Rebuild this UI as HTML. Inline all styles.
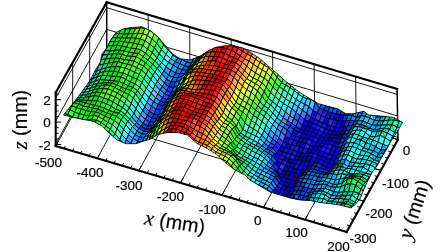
<!DOCTYPE html>
<html><head><meta charset="utf-8"><title>surface</title>
<style>html,body{margin:0;padding:0;background:#fff;overflow:hidden}svg{display:block}</style>
</head><body>
<svg width="448" height="252" viewBox="0 0 448 252">
<rect width="448" height="252" fill="#fff"/>
<g stroke="#000" stroke-linecap="square"><line x1="97.3" y1="158.4" x2="148.3" y2="65.5" stroke-width="0.90" /><line x1="138.8" y1="170.6" x2="189.9" y2="77.9" stroke-width="0.90" /><line x1="180.4" y1="182.9" x2="231.5" y2="90.2" stroke-width="0.90" /><line x1="221.9" y1="195.2" x2="273.1" y2="102.6" stroke-width="0.90" /><line x1="263.5" y1="207.5" x2="314.7" y2="114.9" stroke-width="0.90" /><line x1="305.0" y1="219.7" x2="356.3" y2="127.3" stroke-width="0.90" /><line x1="72.7" y1="115.1" x2="363.7" y2="201.2" stroke-width="0.90" /><line x1="89.7" y1="84.2" x2="380.8" y2="170.4" stroke-width="0.90" /><line x1="148.3" y1="65.5" x2="148.2" y2="14.7" stroke-width="0.90" /><line x1="189.9" y1="77.9" x2="189.7" y2="27.1" stroke-width="0.90" /><line x1="231.5" y1="90.2" x2="231.2" y2="39.5" stroke-width="0.90" /><line x1="273.1" y1="102.6" x2="272.6" y2="51.8" stroke-width="0.90" /><line x1="314.7" y1="114.9" x2="314.1" y2="64.2" stroke-width="0.90" /><line x1="356.3" y1="127.3" x2="355.6" y2="76.6" stroke-width="0.90" /><line x1="106.7" y1="51.0" x2="397.9" y2="137.4" stroke-width="0.90" /><line x1="106.7" y1="29.4" x2="397.5" y2="115.9" stroke-width="0.90" /><line x1="106.7" y1="7.7" x2="397.2" y2="94.4" stroke-width="0.90" /><line x1="72.7" y1="115.1" x2="72.7" y2="62.4" stroke-width="0.90" /><line x1="89.7" y1="84.2" x2="89.7" y2="32.4" stroke-width="0.90" /><line x1="55.7" y1="143.8" x2="106.7" y2="51.0" stroke-width="0.90" /><line x1="55.7" y1="121.0" x2="106.7" y2="29.4" stroke-width="0.90" /><line x1="55.7" y1="98.2" x2="106.7" y2="7.7" stroke-width="0.90" /><line x1="106.7" y1="53.2" x2="106.7" y2="2.3" stroke-width="1.50" /><line x1="397.9" y1="139.6" x2="397.1" y2="89.0" stroke-width="1.50" /><line x1="55.7" y1="92.5" x2="106.7" y2="2.3" stroke-width="2.10" /><line x1="106.7" y1="2.3" x2="397.1" y2="89.0" stroke-width="2.10" /><line x1="55.7" y1="146.1" x2="106.7" y2="53.2" stroke-width="0.90" /><line x1="106.7" y1="53.2" x2="397.9" y2="139.6" stroke-width="0.90" /></g>
<clipPath id="c"><polygon points="63.5,115.0 72.5,104.0 81.0,93.0 90.0,80.5 96.0,69.0 100.0,63.0 102.0,54.0 107.0,47.5 110.0,41.0 116.0,32.5 123.5,28.7 131.0,27.5 142.0,26.7 151.0,31.0 158.5,37.5 165.0,45.0 172.5,53.7 180.0,58.7 190.0,60.0 200.0,56.2 207.5,51.2 215.0,47.5 225.0,45.7 232.5,45.7 242.5,48.0 250.0,52.0 260.0,58.7 270.0,67.5 280.0,76.2 290.0,85.0 300.0,92.5 310.0,98.7 318.7,103.7 327.5,106.2 337.5,108.7 346.0,113.7 353.7,113.7 363.7,111.2 368.7,115.0 382.5,116.2 393.7,117.5 402.5,122.5 396.0,133.7 391.0,141.0 387.0,148.7 381.5,157.5 377.0,166.0 372.0,172.5 367.0,182.5 363.7,190.0 360.0,198.7 356.0,203.7 351.0,208.0 340.0,205.0 330.0,203.7 320.0,202.5 310.0,200.5 300.0,200.0 290.0,198.0 280.0,195.0 270.0,192.0 260.0,186.0 250.0,180.0 245.0,175.0 235.0,170.0 225.0,162.5 217.5,155.0 207.5,148.7 197.5,143.7 187.5,135.0 177.5,132.5 167.5,132.5 158.0,134.5 150.5,139.0 143.5,141.2 136.0,143.7 126.0,143.7 117.0,140.0 110.0,133.7 102.0,126.2 93.5,121.2 83.5,119.5 73.5,117.5"/></clipPath>
<g clip-path="url(#c)" stroke="#000" stroke-width="0.9" stroke-linejoin="round"><polygon points="96.8,13.9 101.6,15.8 103.9,9.9 99.1,8.4" fill="#21ff59"/><polygon points="101.6,15.8 106.5,17.3 108.7,12.4 103.9,9.9" fill="#13ff4e"/><polygon points="106.5,17.3 111.3,19.1 113.5,14.6 108.7,12.4" fill="#15ff4f"/><polygon points="111.3,19.1 116.1,19.4 118.3,14.7 113.5,14.6" fill="#00ea3a"/><polygon points="116.1,19.4 120.9,19.3 123.1,15.0 118.3,14.7" fill="#00ea3a"/><polygon points="120.9,19.3 125.7,18.9 127.9,15.0 123.1,15.0" fill="#00ea00"/><polygon points="125.7,18.9 130.5,18.8 132.7,14.4 127.9,15.0" fill="#3aea00"/><polygon points="130.5,18.8 135.2,19.4 137.5,14.3 132.7,14.4" fill="#3cf100"/><polygon points="135.2,19.4 139.9,18.5 142.2,13.8 137.5,14.3" fill="#75ea00"/><polygon points="139.9,18.5 144.7,18.4 146.9,14.1 142.2,13.8" fill="#afea00"/><polygon points="144.7,18.4 149.4,19.6 151.6,15.2 146.9,14.1" fill="#bcfb00"/><polygon points="149.4,19.6 154.1,21.8 156.3,17.5 151.6,15.2" fill="#c9ff27"/><polygon points="154.1,21.8 158.8,25.5 161.0,21.9 156.3,17.5" fill="#96ff2e"/><polygon points="158.8,25.5 163.4,29.7 165.7,26.1 161.0,21.9" fill="#61ff2d"/><polygon points="163.4,29.7 168.1,36.2 170.4,32.6 165.7,26.1" fill="#3bff6c"/><polygon points="168.1,36.2 172.8,42.0 175.0,38.6 170.4,32.6" fill="#21ffc7"/><polygon points="172.8,42.0 177.4,47.1 179.6,43.8 175.0,38.6" fill="#1effff"/><polygon points="177.4,47.1 182.0,51.1 184.3,47.8 179.6,43.8" fill="#2f97ff"/><polygon points="182.0,51.1 186.6,53.3 188.9,49.9 184.3,47.8" fill="#0745ff"/><polygon points="186.6,53.3 191.2,54.9 193.5,51.5 188.9,49.9" fill="#003aea"/><polygon points="191.2,54.9 195.8,55.4 198.0,51.7 193.5,51.5" fill="#003aea"/><polygon points="195.8,55.4 200.3,52.7 202.5,49.5 198.0,51.7" fill="#0075ea"/><polygon points="200.3,52.7 204.8,49.0 207.1,46.3 202.5,49.5" fill="#00eaea"/><polygon points="204.8,49.0 209.3,45.1 211.5,41.8 207.1,46.3" fill="#00ea3a"/><polygon points="209.3,45.1 213.8,40.3 216.0,36.8 211.5,41.8" fill="#3aea00"/><polygon points="213.8,40.3 218.2,36.1 220.5,32.6 216.0,36.8" fill="#eaea00"/><polygon points="218.2,36.1 222.7,33.7 224.9,30.6 220.5,32.6" fill="#ea7500"/><polygon points="222.7,33.7 227.1,33.6 229.4,30.9 224.9,30.6" fill="#ea3a00"/><polygon points="227.1,33.6 231.5,33.7 233.8,30.9 229.4,30.9" fill="#ea3a00"/><polygon points="231.5,33.7 236.0,35.1 238.2,31.2 233.8,30.9" fill="#ea3a00"/><polygon points="236.0,35.1 240.4,36.2 242.6,30.8 238.2,31.2" fill="#f30000"/><polygon points="240.4,36.2 244.8,36.1 247.0,30.5 242.6,30.8" fill="#ea0000"/><polygon points="244.8,36.1 249.2,38.0 251.4,32.1 247.0,30.5" fill="#ff2b2b"/><polygon points="249.2,38.0 253.6,41.7 255.8,36.0 251.4,32.1" fill="#ff2323"/><polygon points="253.6,41.7 257.9,45.0 260.2,40.0 255.8,36.0" fill="#ff7345"/><polygon points="257.9,45.0 262.3,48.1 264.5,43.7 260.2,40.0" fill="#ffaa56"/><polygon points="262.3,48.1 266.6,50.4 268.9,46.1 264.5,43.7" fill="#ffcb31"/><polygon points="266.6,50.4 271.0,51.9 273.2,47.9 268.9,46.1" fill="#ffbf01"/><polygon points="271.0,51.9 275.3,54.6 277.5,50.1 273.2,47.9" fill="#ffc414"/><polygon points="275.3,54.6 279.6,58.6 281.8,53.5 277.5,50.1" fill="#ffff38"/><polygon points="279.6,58.6 283.9,64.3 286.1,59.9 281.8,53.5" fill="#a0ff42"/><polygon points="283.9,64.3 288.2,71.6 290.5,66.5 286.1,59.9" fill="#1fff1f"/><polygon points="288.2,71.6 292.5,74.7 294.7,69.4 290.5,66.5" fill="#57ffab"/><polygon points="292.5,74.7 296.8,76.9 299.0,72.9 294.7,69.4" fill="#35ff9a"/><polygon points="296.8,76.9 301.0,78.6 303.2,74.8 299.0,72.9" fill="#19ffc5"/><polygon points="301.0,78.6 305.2,80.9 307.5,77.1 303.2,74.8" fill="#1dffc6"/><polygon points="305.2,80.9 309.4,84.6 311.7,81.1 307.5,77.1" fill="#2cffff"/><polygon points="309.4,84.6 313.6,87.0 315.9,83.3 311.7,81.1" fill="#1ec6ff"/><polygon points="313.6,87.0 317.8,88.2 320.1,84.9 315.9,83.3" fill="#00b5f1"/><polygon points="317.8,88.2 322.0,90.0 324.2,86.6 320.1,84.9" fill="#1cc6ff"/><polygon points="322.0,90.0 326.2,94.9 328.4,90.7 324.2,86.6" fill="#2a94ff"/><polygon points="326.2,94.9 330.3,96.9 332.6,92.7 328.4,90.7" fill="#1953ff"/><polygon points="330.3,96.9 334.4,98.4 336.7,94.0 332.6,92.7" fill="#0140ff"/><polygon points="334.4,98.4 338.5,99.4 340.8,95.0 336.7,94.0" fill="#0241ff"/><polygon points="338.5,99.4 342.6,100.1 344.9,95.9 340.8,95.0" fill="#003aea"/><polygon points="342.6,100.1 346.7,101.0 349.0,97.2 344.9,95.9" fill="#003aeb"/><polygon points="346.7,101.0 350.8,100.6 353.0,96.9 349.0,97.2" fill="#0075ea"/><polygon points="350.8,100.6 354.9,99.1 357.1,95.5 353.0,96.9" fill="#00afea"/><polygon points="354.9,99.1 359.1,100.6 361.3,97.1 357.1,95.5" fill="#04c0ff"/><polygon points="359.1,100.6 363.3,102.9 365.6,99.3 361.3,97.1" fill="#0cc2ff"/><polygon points="363.3,102.9 367.6,103.1 369.9,99.2" fill="#00b1ed" stroke-width="0.3"/><polygon points="363.3,102.9 369.9,99.2 365.6,99.3" fill="#00afea" stroke-width="0.3"/><polygon points="363.3,102.9 367.6,103.1 369.9,99.2 365.6,99.3" fill="none"/><polygon points="367.6,103.1 372.0,104.5 374.2,100.3 369.9,99.2" fill="#10c3ff"/><polygon points="372.0,104.5 376.4,105.8 378.6,101.8 374.2,100.3" fill="#11c3ff"/><polygon points="376.4,105.8 381.0,107.6 383.2,101.9 378.6,101.8" fill="#18c5ff"/><polygon points="381.0,107.6 385.7,107.1 387.9,100.9 383.2,101.9" fill="#00eaea"/><polygon points="385.7,107.1 390.5,105.7 392.7,100.0 387.9,100.9" fill="#00eaaf"/><polygon points="390.5,105.7 395.5,103.2 397.7,99.7 392.7,100.0" fill="#00ea75"/><polygon points="395.5,103.2 400.6,101.8 402.8,98.3" fill="#00ea3a" stroke-width="0.3"/><polygon points="395.5,103.2 402.8,98.3 397.7,99.7" fill="#00ea3a" stroke-width="0.3"/><polygon points="395.5,103.2 400.6,101.8 402.8,98.3 397.7,99.7" fill="none"/><polygon points="400.6,101.8 406.0,105.7 408.2,103.3 402.8,98.3" fill="#2bff60"/><polygon points="406.0,105.7 411.4,109.1 408.2,103.3" fill="#1fff8f" stroke-width="0.3"/><polygon points="411.4,109.1 413.7,107.7 408.2,103.3" fill="#01ff80" stroke-width="0.3"/><polygon points="406.0,105.7 411.4,109.1 413.7,107.7 408.2,103.3" fill="none"/><polygon points="411.4,109.1 416.8,111.9 419.1,110.2" fill="#00ea75" stroke-width="0.3"/><polygon points="411.4,109.1 419.1,110.2 413.7,107.7" fill="#00eaaf" stroke-width="0.3"/><polygon points="411.4,109.1 416.8,111.9 419.1,110.2 413.7,107.7" fill="none"/><polygon points="416.8,111.9 422.2,113.9 424.5,109.4 419.1,110.2" fill="#00eaaf"/><polygon points="94.6,19.8 99.4,21.7 101.6,15.8 96.8,13.9" fill="#23ff91"/><polygon points="99.4,21.7 104.2,22.7 106.5,17.3 101.6,15.8" fill="#0dff86"/><polygon points="104.2,22.7 109.0,23.9 111.3,19.1 106.5,17.3" fill="#36ff9a"/><polygon points="109.0,23.9 113.8,24.3 116.1,19.4 111.3,19.1" fill="#00ea3a"/><polygon points="113.8,24.3 118.7,23.9 120.9,19.3 116.1,19.4" fill="#00ea3a"/><polygon points="118.7,23.9 123.4,23.6 125.7,18.9 120.9,19.3" fill="#00ea00"/><polygon points="123.4,23.6 128.2,23.8 130.5,18.8 125.7,18.9" fill="#3aea00"/><polygon points="128.2,23.8 133.0,24.0 135.2,19.4 130.5,18.8" fill="#3aea00"/><polygon points="133.0,24.0 137.7,23.1 139.9,18.5 135.2,19.4" fill="#75ea00"/><polygon points="137.7,23.1 142.4,23.1 144.7,18.4 139.9,18.5" fill="#afea00"/><polygon points="142.4,23.1 147.1,24.0 149.4,19.6 144.7,18.4" fill="#bdfc00"/><polygon points="147.1,24.0 151.8,26.3 154.1,21.8 149.4,19.6" fill="#caff2c"/><polygon points="151.8,26.3 156.5,29.2 158.8,25.5 154.1,21.8" fill="#91ff24"/><polygon points="156.5,29.2 161.2,33.0 163.4,29.7 158.8,25.5" fill="#6cff3b"/><polygon points="161.2,33.0 165.9,39.8 168.1,36.2 163.4,29.7" fill="#2cff2c"/><polygon points="165.9,39.8 170.5,45.9 172.8,42.0 168.1,36.2" fill="#30ff97"/><polygon points="170.5,45.9 175.2,50.9 177.4,47.1 172.8,42.0" fill="#37ffff"/><polygon points="175.2,50.9 179.8,54.3 182.0,51.1 177.4,47.1" fill="#3198ff"/><polygon points="179.8,54.3 184.4,56.0 186.6,53.3 182.0,51.1" fill="#0075ea"/><polygon points="184.4,56.0 189.0,58.2 191.2,54.9 186.6,53.3" fill="#0883ff"/><polygon points="189.0,58.2 193.5,59.2 195.8,55.4 191.2,54.9" fill="#0075ea"/><polygon points="193.5,59.2 198.1,56.1 200.3,52.7 195.8,55.4" fill="#00afea"/><polygon points="198.1,56.1 202.6,51.9 204.8,49.0 200.3,52.7" fill="#00eaaf"/><polygon points="202.6,51.9 207.0,47.8 209.3,45.1 204.8,49.0" fill="#00ea3a"/><polygon points="207.0,47.8 211.5,43.3 213.8,40.3 209.3,45.1" fill="#3aea00"/><polygon points="211.5,43.3 216.0,38.9 218.2,36.1 213.8,40.3" fill="#eaea00"/><polygon points="216.0,38.9 220.4,35.9 222.7,33.7 218.2,36.1" fill="#ea7500"/><polygon points="220.4,35.9 224.9,35.4 227.1,33.6 222.7,33.7" fill="#ea3a00"/><polygon points="224.9,35.4 229.3,36.0 231.5,33.7 227.1,33.6" fill="#ea0000"/><polygon points="229.3,36.0 233.7,38.3 236.0,35.1 231.5,33.7" fill="#ef0000"/><polygon points="233.7,38.3 238.2,40.5 240.4,36.2 236.0,35.1" fill="#ff0f0f"/><polygon points="238.2,40.5 242.5,41.0 244.8,36.1 240.4,36.2" fill="#ea0000"/><polygon points="242.5,41.0 246.9,43.1 249.2,38.0 244.8,36.1" fill="#ff2e2e"/><polygon points="246.9,43.1 251.3,46.5 253.6,41.7 249.2,38.0" fill="#ff6b3a"/><polygon points="251.3,46.5 255.7,49.0 257.9,45.0 253.6,41.7" fill="#ff551c"/><polygon points="255.7,49.0 260.1,51.8 262.3,48.1 257.9,45.0" fill="#ff952b"/><polygon points="260.1,51.8 264.4,54.4 266.6,50.4 262.3,48.1" fill="#ffc61b"/><polygon points="264.4,54.4 268.7,56.6 271.0,51.9 266.6,50.4" fill="#ffca2d"/><polygon points="268.7,56.6 273.0,59.2 275.3,54.6 271.0,51.9" fill="#ffff1d"/><polygon points="273.0,59.2 277.3,62.9 279.6,58.6 275.3,54.6" fill="#ffff31"/><polygon points="277.3,62.9 281.7,67.3 283.9,64.3 279.6,58.6" fill="#85ff0c"/><polygon points="281.7,67.3 286.0,74.6 288.2,71.6 283.9,64.3" fill="#18ff18"/><polygon points="286.0,74.6 290.3,78.2 292.5,74.7 288.2,71.6" fill="#2cff95"/><polygon points="290.3,78.2 294.5,80.4 296.8,76.9 292.5,74.7" fill="#18ff8b"/><polygon points="294.5,80.4 298.7,82.5 301.0,78.6 296.8,76.9" fill="#22ffc7"/><polygon points="298.7,82.5 303.0,85.0 305.2,80.9 301.0,78.6" fill="#19ffc5"/><polygon points="303.0,85.0 307.2,88.3 309.4,84.6 305.2,80.9" fill="#3effff"/><polygon points="307.2,88.3 311.4,90.7 313.6,87.0 309.4,84.6" fill="#24c8ff"/><polygon points="311.4,90.7 315.6,91.6 317.8,88.2 313.6,87.0" fill="#00b4f0"/><polygon points="315.6,91.6 319.7,93.8 322.0,90.0 317.8,88.2" fill="#0cc2ff"/><polygon points="319.7,93.8 323.9,99.4 326.2,94.9 322.0,90.0" fill="#1b8dff"/><polygon points="323.9,99.4 328.1,101.4 330.3,96.9 326.2,94.9" fill="#406fff"/><polygon points="328.1,101.4 332.2,103.0 334.4,98.4 330.3,96.9" fill="#1852ff"/><polygon points="332.2,103.0 336.3,103.7 338.5,99.4 334.4,98.4" fill="#003df4"/><polygon points="336.3,103.7 340.4,104.3 342.6,100.1 338.5,99.4" fill="#003aea"/><polygon points="340.4,104.3 344.4,104.8 346.7,101.0 342.6,100.1" fill="#003aea"/><polygon points="344.4,104.8 348.5,104.7 350.8,100.6 346.7,101.0" fill="#0075ea"/><polygon points="348.5,104.7 352.7,104.2 354.9,99.1 350.8,100.6" fill="#00afea"/><polygon points="352.7,104.2 356.8,105.3 359.1,100.6 354.9,99.1" fill="#0ac1ff"/><polygon points="356.8,105.3 361.1,107.3 363.3,102.9" fill="#1ec6ff" stroke-width="0.3"/><polygon points="356.8,105.3 363.3,102.9 359.1,100.6" fill="#19c5ff" stroke-width="0.3"/><polygon points="356.8,105.3 361.1,107.3 363.3,102.9 359.1,100.6" fill="none"/><polygon points="361.1,107.3 365.4,107.1 367.6,103.1 363.3,102.9" fill="#00afea"/><polygon points="365.4,107.1 369.7,108.3 372.0,104.5 367.6,103.1" fill="#00afea"/><polygon points="369.7,108.3 374.2,109.7 376.4,105.8 372.0,104.5" fill="#1dc6ff"/><polygon points="374.2,109.7 378.8,112.9 381.0,107.6 376.4,105.8" fill="#18c5ff"/><polygon points="378.8,112.9 383.4,110.8 385.7,107.1 381.0,107.6" fill="#00afea"/><polygon points="383.4,110.8 388.3,109.8 390.5,105.7 385.7,107.1" fill="#00eaea"/><polygon points="388.3,109.8 393.2,108.6 395.5,103.2 390.5,105.7" fill="#00ea75"/><polygon points="393.2,108.6 398.4,108.0 395.5,103.2" fill="#00ea3a" stroke-width="0.3"/><polygon points="398.4,108.0 400.6,101.8 395.5,103.2" fill="#00ea3a" stroke-width="0.3"/><polygon points="393.2,108.6 398.4,108.0 400.6,101.8 395.5,103.2" fill="none"/><polygon points="398.4,108.0 403.8,111.5 406.0,105.7 400.6,101.8" fill="#25ff5c"/><polygon points="403.8,111.5 409.2,113.0 411.4,109.1 406.0,105.7" fill="#16ff8a"/><polygon points="409.2,113.0 414.6,116.2 416.8,111.9 411.4,109.1" fill="#07ff83"/><polygon points="414.6,116.2 420.0,116.3 422.2,113.9 416.8,111.9" fill="#00ea75"/><polygon points="92.3,25.1 97.1,27.1 99.4,21.7 94.6,19.8" fill="#24ff91"/><polygon points="97.1,27.1 102.0,27.6 104.2,22.7 99.4,21.7" fill="#00ef77"/><polygon points="102.0,27.6 106.8,28.4 109.0,23.9 104.2,22.7" fill="#00ea75"/><polygon points="106.8,28.4 111.6,29.2 113.8,24.3 109.0,23.9" fill="#00fb7d"/><polygon points="111.6,29.2 116.4,29.3 118.7,23.9 113.8,24.3" fill="#00ea3a"/><polygon points="116.4,29.3 121.2,29.1 123.4,23.6 118.7,23.9" fill="#00ea3a"/><polygon points="121.2,29.1 126.0,29.1 128.2,23.8 123.4,23.6" fill="#00f400"/><polygon points="126.0,29.1 130.7,28.8 133.0,24.0 128.2,23.8" fill="#3aea00"/><polygon points="130.7,28.8 135.5,28.5 137.7,23.1 133.0,24.0" fill="#3aea00"/><polygon points="135.5,28.5 140.2,28.0 142.4,23.1 137.7,23.1" fill="#75ea00"/><polygon points="140.2,28.0 144.9,28.2 147.1,24.0 142.4,23.1" fill="#afea00"/><polygon points="144.9,28.2 149.6,30.4 151.8,26.3 147.1,24.0" fill="#c5ff1a"/><polygon points="149.6,30.4 154.3,33.7 156.5,29.2 151.8,26.3" fill="#90ff22"/><polygon points="154.3,33.7 159.0,37.9 161.2,33.0 156.5,29.2" fill="#62ff2d"/><polygon points="159.0,37.9 163.6,44.9 165.9,39.8 161.2,33.0" fill="#41ff41"/><polygon points="163.6,44.9 168.3,50.3 170.5,45.9 165.9,39.8" fill="#33ffcc"/><polygon points="168.3,50.3 172.9,55.1 175.2,50.9 170.5,45.9" fill="#43ffff"/><polygon points="172.9,55.1 177.5,58.3 179.8,54.3 175.2,50.9" fill="#32cbff"/><polygon points="177.5,58.3 182.1,59.5 184.4,56.0 179.8,54.3" fill="#1c8dff"/><polygon points="182.1,59.5 186.7,62.0 189.0,58.2 184.4,56.0" fill="#1b8dff"/><polygon points="186.7,62.0 191.3,63.4 193.5,59.2 189.0,58.2" fill="#007efd"/><polygon points="191.3,63.4 195.8,60.2 198.1,56.1 193.5,59.2" fill="#00afea"/><polygon points="195.8,60.2 200.3,55.4 202.6,51.9 198.1,56.1" fill="#00eaaf"/><polygon points="200.3,55.4 204.8,51.0 207.0,47.8 202.6,51.9" fill="#00ea3a"/><polygon points="204.8,51.0 209.3,46.2 211.5,43.3 207.0,47.8" fill="#75ea00"/><polygon points="209.3,46.2 213.7,41.4 216.0,38.9 211.5,43.3" fill="#eaea00"/><polygon points="213.7,41.4 218.2,38.6 220.4,35.9 216.0,38.9" fill="#ea3a00"/><polygon points="218.2,38.6 222.6,38.3 224.9,35.4 220.4,35.9" fill="#ea0000"/><polygon points="222.6,38.3 227.1,39.1 229.3,36.0 224.9,35.4" fill="#ea0000"/><polygon points="227.1,39.1 231.5,41.2 233.7,38.3 229.3,36.0" fill="#ff1010"/><polygon points="231.5,41.2 235.9,43.4 238.2,40.5 233.7,38.3" fill="#ff0707"/><polygon points="235.9,43.4 240.3,44.9 242.5,41.0 238.2,40.5" fill="#ea0000"/><polygon points="240.3,44.9 244.7,47.3 246.9,43.1 242.5,41.0" fill="#ff0707"/><polygon points="244.7,47.3 249.1,50.3 251.3,46.5 246.9,43.1" fill="#ff6d3c"/><polygon points="249.1,50.3 253.5,52.4 255.7,49.0 251.3,46.5" fill="#ff490c"/><polygon points="253.5,52.4 257.8,55.6 260.1,51.8 255.7,49.0" fill="#ff962e"/><polygon points="257.8,55.6 262.2,58.7 264.4,54.4 260.1,51.8" fill="#ffca2e"/><polygon points="262.2,58.7 266.5,61.2 268.7,56.6 264.4,54.4" fill="#ffc927"/><polygon points="266.5,61.2 270.8,63.3 273.0,59.2 268.7,56.6" fill="#ffff26"/><polygon points="270.8,63.3 275.1,66.9 277.3,62.9 273.0,59.2" fill="#ccff34"/><polygon points="275.1,66.9 279.4,71.3 281.7,67.3 277.3,62.9" fill="#98ff31"/><polygon points="279.4,71.3 283.7,78.0 286.0,74.6 281.7,67.3" fill="#18ff18"/><polygon points="283.7,78.0 288.0,81.4 290.3,78.2 286.0,74.6" fill="#31ff64"/><polygon points="288.0,81.4 292.3,83.7 294.5,80.4 290.3,78.2" fill="#06ff82"/><polygon points="292.3,83.7 296.5,86.0 298.7,82.5 294.5,80.4" fill="#12ff88"/><polygon points="296.5,86.0 300.7,88.8 303.0,85.0 298.7,82.5" fill="#24ffc8"/><polygon points="300.7,88.8 304.9,92.4 307.2,88.3 303.0,85.0" fill="#1effff"/><polygon points="304.9,92.4 309.1,94.4 311.4,90.7 307.2,88.3" fill="#18ffff"/><polygon points="309.1,94.4 313.3,95.0 315.6,91.6 311.4,90.7" fill="#00eaea"/><polygon points="313.3,95.0 317.5,97.7 319.7,93.8 315.6,91.6" fill="#1fc7ff"/><polygon points="317.5,97.7 321.7,103.9 323.9,99.4 319.7,93.8" fill="#208fff"/><polygon points="321.7,103.9 325.8,105.7 328.1,101.4 323.9,99.4" fill="#2158ff"/><polygon points="325.8,105.7 329.9,107.2 332.2,103.0 328.1,101.4" fill="#0946ff"/><polygon points="329.9,107.2 334.0,108.0 336.3,103.7 332.2,103.0" fill="#003bed"/><polygon points="334.0,108.0 338.1,109.0 340.4,104.3 336.3,103.7" fill="#003ffd"/><polygon points="338.1,109.0 342.2,109.5 344.4,104.8 340.4,104.3" fill="#003aea"/><polygon points="342.2,109.5 346.3,109.5 348.5,104.7 344.4,104.8" fill="#0075ea"/><polygon points="346.3,109.5 350.4,109.4 352.7,104.2" fill="#0075ea" stroke-width="0.3"/><polygon points="346.3,109.5 352.7,104.2 348.5,104.7" fill="#0075ea" stroke-width="0.3"/><polygon points="346.3,109.5 350.4,109.4 352.7,104.2 348.5,104.7" fill="none"/><polygon points="350.4,109.4 354.6,110.5 356.8,105.3 352.7,104.2" fill="#00befe"/><polygon points="354.6,110.5 358.9,112.4 361.1,107.3 356.8,105.3" fill="#3a9cff"/><polygon points="358.9,112.4 363.1,111.1 365.4,107.1 361.1,107.3" fill="#00afea"/><polygon points="363.1,111.1 367.5,111.6 369.7,108.3 365.4,107.1" fill="#00afea"/><polygon points="367.5,111.6 371.9,113.1 374.2,109.7 369.7,108.3" fill="#00baf9"/><polygon points="371.9,113.1 376.5,117.2 378.8,112.9 374.2,109.7" fill="#1dc6ff"/><polygon points="376.5,117.2 381.2,117.0 383.4,110.8 378.8,112.9" fill="#00afea"/><polygon points="381.2,117.0 386.1,116.0 388.3,109.8 383.4,110.8" fill="#00eaea"/><polygon points="386.1,116.0 391.0,112.7 393.2,108.6 388.3,109.8" fill="#00eaaf"/><polygon points="391.0,112.7 396.2,113.6 398.4,108.0 393.2,108.6" fill="#00f67b"/><polygon points="396.2,113.6 401.5,115.8 403.8,111.5 398.4,108.0" fill="#24ff91"/><polygon points="401.5,115.8 406.9,116.7 409.2,113.0 403.8,111.5" fill="#00ea75"/><polygon points="406.9,116.7 412.3,118.9 414.6,116.2 409.2,113.0" fill="#1aff8c"/><polygon points="412.3,118.9 417.7,120.2 420.0,116.3 414.6,116.2" fill="#00ea75"/><polygon points="90.1,30.0 94.9,31.4 97.1,27.1 92.3,25.1" fill="#00f4b7"/><polygon points="94.9,31.4 99.7,31.5 102.0,27.6 97.1,27.1" fill="#00eaaf"/><polygon points="99.7,31.5 104.5,32.2 106.8,28.4 102.0,27.6" fill="#00ea75"/><polygon points="104.5,32.2 109.4,33.5 111.6,29.2 106.8,28.4" fill="#00eb75"/><polygon points="109.4,33.5 114.2,33.9 116.4,29.3 111.6,29.2" fill="#00ea75"/><polygon points="114.2,33.9 119.0,33.6 121.2,29.1 116.4,29.3" fill="#00ea3a"/><polygon points="119.0,33.6 123.7,34.0 126.0,29.1 121.2,29.1" fill="#00ea00"/><polygon points="123.7,34.0 128.5,33.9 130.7,28.8 126.0,29.1" fill="#00ea00"/><polygon points="128.5,33.9 133.2,33.7 135.5,28.5 130.7,28.8" fill="#3aea00"/><polygon points="133.2,33.7 138.0,33.3 140.2,28.0 135.5,28.5" fill="#75ea00"/><polygon points="138.0,33.3 142.7,33.7 144.9,28.2 140.2,28.0" fill="#75ea00"/><polygon points="142.7,33.7 147.4,35.6 149.6,30.4 144.9,28.2" fill="#99ff33"/><polygon points="147.4,35.6 152.0,39.1 154.3,33.7 149.6,30.4" fill="#aaff56"/><polygon points="152.0,39.1 156.7,43.2 159.0,37.9 154.3,33.7" fill="#66ff33"/><polygon points="156.7,43.2 161.4,49.7 163.6,44.9 159.0,37.9" fill="#22ff59"/><polygon points="161.4,49.7 166.0,54.4 168.3,50.3 163.6,44.9" fill="#3cffce"/><polygon points="166.0,54.4 170.7,58.7 172.9,55.1 168.3,50.3" fill="#43ffff"/><polygon points="170.7,58.7 175.3,61.9 177.5,58.3 172.9,55.1" fill="#1dc6ff"/><polygon points="175.3,61.9 179.9,63.7 182.1,59.5 177.5,58.3" fill="#0481ff"/><polygon points="179.9,63.7 184.5,65.9 186.7,62.0 182.1,59.5" fill="#1e8eff"/><polygon points="184.5,65.9 189.0,67.1 191.3,63.4 186.7,62.0" fill="#0078f0"/><polygon points="189.0,67.1 193.6,63.7 195.8,60.2 191.3,63.4" fill="#00afea"/><polygon points="193.6,63.7 198.1,58.5 200.3,55.4 195.8,60.2" fill="#00eaaf"/><polygon points="198.1,58.5 202.6,54.3 204.8,51.0 200.3,55.4" fill="#00ea00"/><polygon points="202.6,54.3 207.0,49.6 209.3,46.2 204.8,51.0" fill="#75ea00"/><polygon points="207.0,49.6 211.5,45.0 213.7,41.4 209.3,46.2" fill="#eaaf00"/><polygon points="211.5,45.0 215.9,42.4 218.2,38.6 213.7,41.4" fill="#ea3a00"/><polygon points="215.9,42.4 220.4,42.4 222.6,38.3 218.2,38.6" fill="#ea0000"/><polygon points="220.4,42.4 224.8,43.2 227.1,39.1 222.6,38.3" fill="#ea0000"/><polygon points="224.8,43.2 229.3,44.5 231.5,41.2 227.1,39.1" fill="#ff1919"/><polygon points="229.3,44.5 233.7,46.4 235.9,43.4 231.5,41.2" fill="#ff1313"/><polygon points="233.7,46.4 238.1,48.6 240.3,44.9 235.9,43.4" fill="#ff0d0d"/><polygon points="238.1,48.6 242.5,51.5 244.7,47.3 240.3,44.9" fill="#ff1717"/><polygon points="242.5,51.5 246.9,54.3 249.1,50.3 244.7,47.3" fill="#ff5720"/><polygon points="246.9,54.3 251.2,56.1 253.5,52.4 249.1,50.3" fill="#ff4507"/><polygon points="251.2,56.1 255.6,59.2 257.8,55.6 253.5,52.4" fill="#ff9d3b"/><polygon points="255.6,59.2 259.9,62.5 262.2,58.7 257.8,55.6" fill="#ffcc35"/><polygon points="259.9,62.5 264.3,65.2 266.5,61.2 262.2,58.7" fill="#ffc825"/><polygon points="264.3,65.2 268.6,67.7 270.8,63.3 266.5,61.2" fill="#ffff1a"/><polygon points="268.6,67.7 272.9,72.3 275.1,66.9 270.8,63.3" fill="#ccff35"/><polygon points="272.9,72.3 277.2,77.1 279.4,71.3 275.1,66.9" fill="#98ff32"/><polygon points="277.2,77.1 281.5,82.8 283.7,78.0 279.4,71.3" fill="#41ff41"/><polygon points="281.5,82.8 285.8,85.2 288.0,81.4 283.7,78.0" fill="#2aff5f"/><polygon points="285.8,85.2 290.0,87.6 292.3,83.7 288.0,81.4" fill="#35ff9a"/><polygon points="290.0,87.6 294.3,90.7 296.5,86.0 292.3,83.7" fill="#2cff95"/><polygon points="294.3,90.7 298.5,94.1 300.7,88.8 296.5,86.0" fill="#2cffca"/><polygon points="298.5,94.1 302.7,97.1 304.9,92.4 300.7,88.8" fill="#43ffff"/><polygon points="302.7,97.1 306.9,98.7 309.1,94.4 304.9,92.4" fill="#31ffff"/><polygon points="306.9,98.7 311.1,99.6 313.3,95.0 309.1,94.4" fill="#00eaea"/><polygon points="311.1,99.6 315.2,101.9 317.5,97.7 313.3,95.0" fill="#43d0ff"/><polygon points="315.2,101.9 319.4,108.0 321.7,103.9 317.5,97.7" fill="#2592ff"/><polygon points="319.4,108.0 323.6,110.1 325.8,105.7 321.7,103.9" fill="#1952ff"/><polygon points="323.6,110.1 327.7,111.7 329.9,107.2 325.8,105.7" fill="#003ef9"/><polygon points="327.7,111.7 331.8,112.7 334.0,108.0 329.9,107.2" fill="#144eff"/><polygon points="331.8,112.7 335.9,113.9 338.1,109.0 334.0,108.0" fill="#1650ff"/><polygon points="335.9,113.9 340.0,114.7 342.2,109.5 338.1,109.0" fill="#003cf3"/><polygon points="340.0,114.7 344.1,115.1 346.3,109.5 342.2,109.5" fill="#003aea"/><polygon points="344.1,115.1 348.2,114.9 350.4,109.4 346.3,109.5" fill="#0075ea"/><polygon points="348.2,114.9 352.4,115.6 354.6,110.5 350.4,109.4" fill="#0078f0"/><polygon points="352.4,115.6 356.6,117.4 354.6,110.5" fill="#158aff" stroke-width="0.3"/><polygon points="356.6,117.4 358.9,112.4 354.6,110.5" fill="#2592ff" stroke-width="0.3"/><polygon points="352.4,115.6 356.6,117.4 358.9,112.4 354.6,110.5" fill="none"/><polygon points="356.6,117.4 360.9,115.9 363.1,111.1 358.9,112.4" fill="#0075ea"/><polygon points="360.9,115.9 365.2,116.3 367.5,111.6" fill="#00afea" stroke-width="0.3"/><polygon points="360.9,115.9 367.5,111.6 363.1,111.1" fill="#00b8f6" stroke-width="0.3"/><polygon points="360.9,115.9 365.2,116.3 367.5,111.6 363.1,111.1" fill="none"/><polygon points="365.2,116.3 369.7,118.1 367.5,111.6" fill="#10c3ff" stroke-width="0.3"/><polygon points="369.7,118.1 371.9,113.1 367.5,111.6" fill="#02bfff" stroke-width="0.3"/><polygon points="365.2,116.3 369.7,118.1 371.9,113.1 367.5,111.6" fill="none"/><polygon points="369.7,118.1 374.3,120.5 371.9,113.1" fill="#43d0ff" stroke-width="0.3"/><polygon points="374.3,120.5 376.5,117.2 371.9,113.1" fill="#17c5ff" stroke-width="0.3"/><polygon points="369.7,118.1 374.3,120.5 376.5,117.2 371.9,113.1" fill="none"/><polygon points="374.3,120.5 379.0,120.6 376.5,117.2" fill="#00afea" stroke-width="0.3"/><polygon points="379.0,120.6 381.2,117.0 376.5,117.2" fill="#00afea" stroke-width="0.3"/><polygon points="374.3,120.5 379.0,120.6 381.2,117.0 376.5,117.2" fill="none"/><polygon points="379.0,120.6 383.8,121.0 386.1,116.0 381.2,117.0" fill="#00afea"/><polygon points="383.8,121.0 388.8,120.1 391.0,112.7 386.1,116.0" fill="#00eaaf"/><polygon points="388.8,120.1 394.0,120.1 396.2,113.6 391.0,112.7" fill="#00ea75"/><polygon points="394.0,120.1 399.3,121.2 401.5,115.8 396.2,113.6" fill="#00f77b"/><polygon points="399.3,121.2 404.7,122.6 406.9,116.7 401.5,115.8" fill="#09ff84"/><polygon points="404.7,122.6 410.1,123.9 412.3,118.9 406.9,116.7" fill="#0aff84"/><polygon points="410.1,123.9 415.5,125.7 412.3,118.9" fill="#16ff8a" stroke-width="0.3"/><polygon points="415.5,125.7 417.7,120.2 412.3,118.9" fill="#0eff86" stroke-width="0.3"/><polygon points="410.1,123.9 415.5,125.7 417.7,120.2 412.3,118.9" fill="none"/><polygon points="87.9,33.6 92.7,34.0 94.9,31.4 90.1,30.0" fill="#00eaaf"/><polygon points="92.7,34.0 97.5,34.4 99.7,31.5 94.9,31.4" fill="#00ea75"/><polygon points="97.5,34.4 102.3,35.8 104.5,32.2 99.7,31.5" fill="#00ef77"/><polygon points="102.3,35.8 107.1,37.1 109.4,33.5 104.5,32.2" fill="#00ea75"/><polygon points="107.1,37.1 112.0,37.8 114.2,33.9 109.4,33.5" fill="#00ea75"/><polygon points="112.0,37.8 116.7,37.7 119.0,33.6 114.2,33.9" fill="#00ea3a"/><polygon points="116.7,37.7 121.5,37.9 123.7,34.0 119.0,33.6" fill="#00ea00"/><polygon points="121.5,37.9 126.3,38.2 128.5,33.9 123.7,34.0" fill="#00ea00"/><polygon points="126.3,38.2 131.0,37.9 133.2,33.7 128.5,33.9" fill="#3aea00"/><polygon points="131.0,37.9 135.7,38.1 138.0,33.3 133.2,33.7" fill="#3aea00"/><polygon points="135.7,38.1 140.4,39.1 142.7,33.7 138.0,33.3" fill="#77ef00"/><polygon points="140.4,39.1 145.1,40.7 147.4,35.6 142.7,33.7" fill="#9aff36"/><polygon points="145.1,40.7 149.8,44.3 152.0,39.1 147.4,35.6" fill="#78ff4b"/><polygon points="149.8,44.3 154.5,48.0 156.7,43.2 152.0,39.1" fill="#43ff43"/><polygon points="154.5,48.0 159.2,53.9 161.4,49.7 156.7,43.2" fill="#35ff67"/><polygon points="159.2,53.9 163.8,58.7 166.0,54.4 161.4,49.7" fill="#3bffce"/><polygon points="163.8,58.7 168.4,62.3 170.7,58.7 166.0,54.4" fill="#48ffff"/><polygon points="168.4,62.3 173.1,65.3 175.3,61.9 170.7,58.7" fill="#15c4ff"/><polygon points="173.1,65.3 177.7,67.9 179.9,63.7 175.3,61.9" fill="#1389ff"/><polygon points="177.7,67.9 182.2,69.9 184.5,65.9 179.9,63.7" fill="#2491ff"/><polygon points="182.2,69.9 186.8,70.3 189.0,67.1 184.5,65.9" fill="#0075ea"/><polygon points="186.8,70.3 191.3,66.2 193.6,63.7 189.0,67.1" fill="#00afea"/><polygon points="191.3,66.2 195.8,61.2 198.1,58.5 193.6,63.7" fill="#00ea75"/><polygon points="195.8,61.2 200.3,57.1 202.6,54.3 198.1,58.5" fill="#00ea00"/><polygon points="200.3,57.1 204.8,53.0 207.0,49.6 202.6,54.3" fill="#afea00"/><polygon points="204.8,53.0 209.3,49.4 211.5,45.0 207.0,49.6" fill="#eaaf00"/><polygon points="209.3,49.4 213.7,47.2 215.9,42.4 211.5,45.0" fill="#ea3a00"/><polygon points="213.7,47.2 218.2,47.0 220.4,42.4 215.9,42.4" fill="#ea0000"/><polygon points="218.2,47.0 222.6,47.7 224.8,43.2 220.4,42.4" fill="#ed0000"/><polygon points="222.6,47.7 227.0,48.7 229.3,44.5 224.8,43.2" fill="#fb0000"/><polygon points="227.0,48.7 231.5,50.5 233.7,46.4 229.3,44.5" fill="#ff1212"/><polygon points="231.5,50.5 235.9,52.8 238.1,48.6 233.7,46.4" fill="#ff1515"/><polygon points="235.9,52.8 240.3,55.9 242.5,51.5 238.1,48.6" fill="#ff3d3d"/><polygon points="240.3,55.9 244.7,58.9 246.9,54.3 242.5,51.5" fill="#ff5319"/><polygon points="244.7,58.9 249.0,61.2 251.2,56.1 246.9,54.3" fill="#ff962e"/><polygon points="249.0,61.2 253.4,64.3 255.6,59.2 251.2,56.1" fill="#ff9d3b"/><polygon points="253.4,64.3 257.7,67.2 259.9,62.5 255.6,59.2" fill="#ffd350"/><polygon points="257.7,67.2 262.1,70.0 264.3,65.2 259.9,62.5" fill="#ffff39"/><polygon points="262.1,70.0 266.4,72.5 268.6,67.7 264.3,65.2" fill="#ffff4a"/><polygon points="266.4,72.5 270.7,76.9 272.9,72.3 268.6,67.7" fill="#d0ff45"/><polygon points="270.7,76.9 275.0,82.1 277.2,77.1 272.9,72.3" fill="#6cff3b"/><polygon points="275.0,82.1 279.3,86.8 281.5,82.8 277.2,77.1" fill="#4aff4a"/><polygon points="279.3,86.8 283.6,89.7 285.8,85.2 281.5,82.8" fill="#33ff66"/><polygon points="283.6,89.7 287.8,93.0 290.0,87.6 285.8,85.2" fill="#38ff9b"/><polygon points="287.8,93.0 292.1,96.5 294.3,90.7 290.0,87.6" fill="#4bffd2"/><polygon points="292.1,96.5 296.3,99.5 298.5,94.1 294.3,90.7" fill="#3effff"/><polygon points="296.3,99.5 300.5,102.2 302.7,97.1 298.5,94.1" fill="#34ffff"/><polygon points="300.5,102.2 304.7,104.3 306.9,98.7 302.7,97.1" fill="#29c9ff"/><polygon points="304.7,104.3 308.9,106.3 311.1,99.6 306.9,98.7" fill="#41cfff"/><polygon points="308.9,106.3 313.1,110.5 315.2,101.9 311.1,99.6" fill="#38cdff"/><polygon points="313.1,110.5 317.2,113.4 319.4,108.0 315.2,101.9" fill="#1d56ff"/><polygon points="317.2,113.4 321.4,115.8 323.6,110.1 319.4,108.0" fill="#2828ff"/><polygon points="321.4,115.8 325.5,117.5 327.7,111.7 323.6,110.1" fill="#1d1dff"/><polygon points="325.5,117.5 329.6,118.7 331.8,112.7 327.7,111.7" fill="#0d0dff"/><polygon points="329.6,118.7 333.7,119.7 335.9,113.9 331.8,112.7" fill="#0d0dff"/><polygon points="333.7,119.7 337.8,120.7 340.0,114.7 335.9,113.9" fill="#0202ff"/><polygon points="337.8,120.7 341.9,121.4 344.1,115.1 340.0,114.7" fill="#0000fe"/><polygon points="341.9,121.4 346.0,120.8 348.2,114.9 344.1,115.1" fill="#003aea"/><polygon points="346.0,120.8 350.2,120.2 352.4,115.6 348.2,114.9" fill="#0075ea"/><polygon points="350.2,120.2 354.4,121.3 356.6,117.4 352.4,115.6" fill="#1288ff"/><polygon points="354.4,121.3 358.7,120.2 360.9,115.9" fill="#0075ea" stroke-width="0.3"/><polygon points="354.4,121.3 360.9,115.9 356.6,117.4" fill="#0075ea" stroke-width="0.3"/><polygon points="354.4,121.3 358.7,120.2 360.9,115.9 356.6,117.4" fill="none"/><polygon points="358.7,120.2 363.0,121.1 365.2,116.3 360.9,115.9" fill="#07c1ff"/><polygon points="363.0,121.1 367.5,123.1 369.7,118.1 365.2,116.3" fill="#28c9ff"/><polygon points="367.5,123.1 372.1,125.1 374.3,120.5 369.7,118.1" fill="#18c5ff"/><polygon points="372.1,125.1 376.8,125.2 379.0,120.6 374.3,120.5" fill="#00afea"/><polygon points="376.8,125.2 381.6,125.3 379.0,120.6" fill="#00afea" stroke-width="0.3"/><polygon points="381.6,125.3 383.8,121.0 379.0,120.6" fill="#00afea" stroke-width="0.3"/><polygon points="376.8,125.2 381.6,125.3 383.8,121.0 379.0,120.6" fill="none"/><polygon points="381.6,125.3 386.6,124.8 388.8,120.1 383.8,121.0" fill="#00eaea"/><polygon points="386.6,124.8 391.8,124.7 394.0,120.1 388.8,120.1" fill="#00eaaf"/><polygon points="391.8,124.7 397.1,127.0 399.3,121.2 394.0,120.1" fill="#17ffc5"/><polygon points="397.1,127.0 402.5,128.1 404.7,122.6 399.3,121.2" fill="#03ffc0"/><polygon points="402.5,128.1 407.9,131.6 410.1,123.9" fill="#34ffcc" stroke-width="0.3"/><polygon points="402.5,128.1 410.1,123.9 404.7,122.6" fill="#02ffbf" stroke-width="0.3"/><polygon points="402.5,128.1 407.9,131.6 410.1,123.9 404.7,122.6" fill="none"/><polygon points="407.9,131.6 413.4,134.3 415.5,125.7 410.1,123.9" fill="#2fffcb"/><polygon points="85.7,37.5 90.5,37.5 92.7,34.0 87.9,33.6" fill="#00ea75"/><polygon points="90.5,37.5 95.3,38.5 97.5,34.4 92.7,34.0" fill="#00ff7f"/><polygon points="95.3,38.5 100.1,39.7 102.3,35.8 97.5,34.4" fill="#00fe7f"/><polygon points="100.1,39.7 104.9,40.9 107.1,37.1 102.3,35.8" fill="#00f57a"/><polygon points="104.9,40.9 109.7,41.6 112.0,37.8 107.1,37.1" fill="#00ea75"/><polygon points="109.7,41.6 114.5,41.6 116.7,37.7 112.0,37.8" fill="#00ea3a"/><polygon points="114.5,41.6 119.3,41.3 121.5,37.9 116.7,37.7" fill="#00ea00"/><polygon points="119.3,41.3 124.1,41.9 126.3,38.2 121.5,37.9" fill="#00ea00"/><polygon points="124.1,41.9 128.8,42.5 131.0,37.9 126.3,38.2" fill="#3aea00"/><polygon points="128.8,42.5 133.5,43.3 135.7,38.1 131.0,37.9" fill="#3aeb00"/><polygon points="133.5,43.3 138.2,44.1 140.4,39.1 135.7,38.1" fill="#3aea00"/><polygon points="138.2,44.1 142.9,45.5 145.1,40.7 140.4,39.1" fill="#3ffc00"/><polygon points="142.9,45.5 147.6,49.1 149.8,44.3 145.1,40.7" fill="#75ff47"/><polygon points="147.6,49.1 152.3,52.7 154.5,48.0 149.8,44.3" fill="#3fff3f"/><polygon points="152.3,52.7 157.0,57.8 159.2,53.9 154.5,48.0" fill="#31ff65"/><polygon points="157.0,57.8 161.6,62.7 163.8,58.7 159.2,53.9" fill="#20ffc7"/><polygon points="161.6,62.7 166.2,66.9 168.4,62.3 163.8,58.7" fill="#37ffff"/><polygon points="166.2,66.9 170.9,70.4 173.1,65.3 168.4,62.3" fill="#2dcaff"/><polygon points="170.9,70.4 175.5,73.0 177.7,67.9 173.1,65.3" fill="#369aff"/><polygon points="175.5,73.0 180.0,74.0 182.2,69.9 177.7,67.9" fill="#0481ff"/><polygon points="180.0,74.0 184.6,73.5 186.8,70.3 182.2,69.9" fill="#0075ea"/><polygon points="184.6,73.5 189.1,69.2 191.3,66.2 186.8,70.3" fill="#00eaea"/><polygon points="189.1,69.2 193.6,63.9 195.8,61.2 191.3,66.2" fill="#00ea75"/><polygon points="193.6,63.9 198.1,59.9 200.3,57.1 195.8,61.2" fill="#3aea00"/><polygon points="198.1,59.9 202.6,55.9 204.8,53.0 200.3,57.1" fill="#afea00"/><polygon points="202.6,55.9 207.1,52.8 209.3,49.4 204.8,53.0" fill="#eaaf00"/><polygon points="207.1,52.8 211.5,51.9 213.7,47.2 209.3,49.4" fill="#ea3a00"/><polygon points="211.5,51.9 216.0,52.0 218.2,47.0 213.7,47.2" fill="#ea0000"/><polygon points="216.0,52.0 220.4,52.3 222.6,47.7 218.2,47.0" fill="#f00000"/><polygon points="220.4,52.3 224.8,53.4 227.0,48.7 222.6,47.7" fill="#ea0000"/><polygon points="224.8,53.4 229.3,55.7 231.5,50.5 227.0,48.7" fill="#ff2020"/><polygon points="229.3,55.7 233.7,57.6 235.9,52.8 231.5,50.5" fill="#ff2e2e"/><polygon points="233.7,57.6 238.1,59.7 240.3,55.9 235.9,52.8" fill="#ff1e1e"/><polygon points="238.1,59.7 242.4,62.6 244.7,58.9 240.3,55.9" fill="#ff5319"/><polygon points="242.4,62.6 246.8,66.1 249.0,61.2 244.7,58.9" fill="#ff9328"/><polygon points="246.8,66.1 251.2,70.1 253.4,64.3 249.0,61.2" fill="#ffcf42"/><polygon points="251.2,70.1 255.5,73.0 257.7,67.2 253.4,64.3" fill="#ffd045"/><polygon points="255.5,73.0 259.9,75.7 262.1,70.0 257.7,67.2" fill="#ffff40"/><polygon points="259.9,75.7 264.2,78.2 266.4,72.5 262.1,70.0" fill="#c9ff2a"/><polygon points="264.2,78.2 268.5,81.8 270.7,76.9 266.4,72.5" fill="#a6ff4d"/><polygon points="268.5,81.8 272.8,87.0 275.0,82.1 270.7,76.9" fill="#6cff3b"/><polygon points="272.8,87.0 277.1,91.4 279.3,86.8 275.0,82.1" fill="#28ff28"/><polygon points="277.1,91.4 281.4,95.2 283.6,89.7 279.3,86.8" fill="#3cff9d"/><polygon points="281.4,95.2 285.6,98.9 287.8,93.0 283.6,89.7" fill="#3bffce"/><polygon points="285.6,98.9 289.9,101.7 292.1,96.5 287.8,93.0" fill="#3bffce"/><polygon points="289.9,101.7 294.1,103.9 296.3,99.5 292.1,96.5" fill="#2dffff"/><polygon points="294.1,103.9 298.3,106.8 300.5,102.2 296.3,99.5" fill="#42cfff"/><polygon points="298.3,106.8 302.5,110.1 304.7,104.3 300.5,102.2" fill="#4fd3ff"/><polygon points="302.5,110.1 306.7,113.4 308.9,106.3 304.7,104.3" fill="#47a3ff"/><polygon points="306.7,113.4 310.9,117.5 313.1,110.5 308.9,106.3" fill="#4573ff"/><polygon points="310.9,117.5 315.0,119.1 317.2,113.4 313.1,110.5" fill="#0d0dff"/><polygon points="315.0,119.1 319.2,121.2 321.4,115.8 317.2,113.4" fill="#3232ff"/><polygon points="319.2,121.2 323.3,123.0 325.5,117.5 321.4,115.8" fill="#2f2fff"/><polygon points="323.3,123.0 327.4,124.6 329.6,118.7 325.5,117.5" fill="#0101ff"/><polygon points="327.4,124.6 331.5,125.9 333.7,119.7 329.6,118.7" fill="#2a2aff"/><polygon points="331.5,125.9 335.6,127.2 337.8,120.7 333.7,119.7" fill="#1111ff"/><polygon points="335.6,127.2 339.7,128.0 341.9,121.4 337.8,120.7" fill="#0808ff"/><polygon points="339.7,128.0 343.8,127.0 346.0,120.8 341.9,121.4" fill="#0000ea"/><polygon points="343.8,127.0 348.0,125.8 350.2,120.2 346.0,120.8" fill="#003aea"/><polygon points="348.0,125.8 352.2,125.7 354.4,121.3 350.2,120.2" fill="#003aea"/><polygon points="352.2,125.7 356.5,123.7 358.7,120.2" fill="#0075ea" stroke-width="0.3"/><polygon points="352.2,125.7 358.7,120.2 354.4,121.3" fill="#0075ea" stroke-width="0.3"/><polygon points="352.2,125.7 356.5,123.7 358.7,120.2 354.4,121.3" fill="none"/><polygon points="356.5,123.7 360.8,124.5 363.0,121.1 358.7,120.2" fill="#00afea"/><polygon points="360.8,124.5 365.2,126.2 367.5,123.1" fill="#03c0ff" stroke-width="0.3"/><polygon points="360.8,124.5 367.5,123.1 363.0,121.1" fill="#0cc2ff" stroke-width="0.3"/><polygon points="360.8,124.5 365.2,126.2 367.5,123.1 363.0,121.1" fill="none"/><polygon points="365.2,126.2 369.8,128.3 372.1,125.1 367.5,123.1" fill="#00baf8"/><polygon points="369.8,128.3 374.6,130.0 376.8,125.2 372.1,125.1" fill="#00b7f4"/><polygon points="374.6,130.0 379.4,129.0 381.6,125.3 376.8,125.2" fill="#00afea"/><polygon points="379.4,129.0 384.4,128.0 386.6,124.8 381.6,125.3" fill="#00eaea"/><polygon points="384.4,128.0 389.6,129.5 386.6,124.8" fill="#00ebb0" stroke-width="0.3"/><polygon points="389.6,129.5 391.8,124.7 386.6,124.8" fill="#00eaaf" stroke-width="0.3"/><polygon points="384.4,128.0 389.6,129.5 391.8,124.7 386.6,124.8" fill="none"/><polygon points="389.6,129.5 394.9,132.6 391.8,124.7" fill="#1affc5" stroke-width="0.3"/><polygon points="394.9,132.6 397.1,127.0 391.8,124.7" fill="#31ffcb" stroke-width="0.3"/><polygon points="389.6,129.5 394.9,132.6 397.1,127.0 391.8,124.7" fill="none"/><polygon points="394.9,132.6 400.3,134.8 402.5,128.1 397.1,127.0" fill="#27ffff"/><polygon points="400.3,134.8 405.8,138.8 407.9,131.6 402.5,128.1" fill="#4effff"/><polygon points="405.8,138.8 411.2,141.5 413.4,134.3 407.9,131.6" fill="#2dcaff"/><polygon points="83.5,41.5 88.3,41.8 90.5,37.5 85.7,37.5" fill="#00ea75"/><polygon points="88.3,41.8 93.1,42.9 95.3,38.5 90.5,37.5" fill="#00f078"/><polygon points="93.1,42.9 97.9,44.1 100.1,39.7 95.3,38.5" fill="#12ff88"/><polygon points="97.9,44.1 102.7,44.8 104.9,40.9 100.1,39.7" fill="#00eb75"/><polygon points="102.7,44.8 107.5,45.6 109.7,41.6 104.9,40.9" fill="#00ea3a"/><polygon points="107.5,45.6 112.3,45.9 114.5,41.6 109.7,41.6" fill="#00ea3a"/><polygon points="112.3,45.9 117.1,45.2 119.3,41.3 114.5,41.6" fill="#00ea00"/><polygon points="117.1,45.2 121.9,46.1 124.1,41.9 119.3,41.3" fill="#00ef00"/><polygon points="121.9,46.1 126.6,47.1 128.8,42.5 124.1,41.9" fill="#01ff01"/><polygon points="126.6,47.1 131.3,48.2 133.5,43.3 128.8,42.5" fill="#40ff00"/><polygon points="131.3,48.2 136.0,48.7 138.2,44.1 133.5,43.3" fill="#3aea00"/><polygon points="136.0,48.7 140.7,49.9 142.9,45.5 138.2,44.1" fill="#4aff0d"/><polygon points="140.7,49.9 145.4,53.3 147.6,49.1 142.9,45.5" fill="#6fff3f"/><polygon points="145.4,53.3 150.1,56.9 152.3,52.7 147.6,49.1" fill="#47ff47"/><polygon points="150.1,56.9 154.8,61.2 157.0,57.8 152.3,52.7" fill="#49ff76"/><polygon points="154.8,61.2 159.4,65.8 161.6,62.7 157.0,57.8" fill="#0fffc3"/><polygon points="159.4,65.8 164.0,70.9 166.2,66.9 161.6,62.7" fill="#1bffff"/><polygon points="164.0,70.9 168.7,75.4 170.9,70.4 166.2,66.9" fill="#2c95ff"/><polygon points="168.7,75.4 173.3,77.4 175.5,73.0 170.9,70.4" fill="#1e8eff"/><polygon points="173.3,77.4 177.8,77.8 180.0,74.0 175.5,73.0" fill="#0075ea"/><polygon points="177.8,77.8 182.4,76.6 184.6,73.5 180.0,74.0" fill="#0075ea"/><polygon points="182.4,76.6 186.9,72.7 189.1,69.2 184.6,73.5" fill="#00eaea"/><polygon points="186.9,72.7 191.4,67.5 193.6,63.9 189.1,69.2" fill="#00ea75"/><polygon points="191.4,67.5 195.9,62.8 198.1,59.9 193.6,63.9" fill="#3aea00"/><polygon points="195.9,62.8 200.4,58.8 202.6,55.9 198.1,59.9" fill="#afea00"/><polygon points="200.4,58.8 204.9,56.7 207.1,52.8 202.6,55.9" fill="#eaaf00"/><polygon points="204.9,56.7 209.3,56.4 211.5,51.9 207.1,52.8" fill="#ea3a00"/><polygon points="209.3,56.4 213.8,56.5 216.0,52.0 211.5,51.9" fill="#ea3a00"/><polygon points="213.8,56.5 218.2,56.7 220.4,52.3 216.0,52.0" fill="#ea0000"/><polygon points="218.2,56.7 222.7,58.1 224.8,53.4 220.4,52.3" fill="#ff0404"/><polygon points="222.7,58.1 227.1,60.4 229.3,55.7 224.8,53.4" fill="#ff2626"/><polygon points="227.1,60.4 231.5,61.6 233.7,57.6 229.3,55.7" fill="#ff1717"/><polygon points="231.5,61.6 235.9,62.9 238.1,59.7 233.7,57.6" fill="#ff0303"/><polygon points="235.9,62.9 240.3,66.5 242.4,62.6 238.1,59.7" fill="#ff612c"/><polygon points="240.3,66.5 244.6,70.8 246.8,66.1 242.4,62.6" fill="#ff9f3f"/><polygon points="244.6,70.8 249.0,75.3 251.2,70.1 246.8,66.1" fill="#ffce3b"/><polygon points="249.0,75.3 253.3,78.0 255.5,73.0 251.2,70.1" fill="#ffff47"/><polygon points="253.3,78.0 257.7,80.1 259.9,75.7 255.5,73.0" fill="#cbff30"/><polygon points="257.7,80.1 262.0,82.9 264.2,78.2 259.9,75.7" fill="#caff2c"/><polygon points="262.0,82.9 266.3,87.1 268.5,81.8 264.2,78.2" fill="#a1ff44"/><polygon points="266.3,87.1 270.6,92.5 272.8,87.0 268.5,81.8" fill="#60ff2b"/><polygon points="270.6,92.5 274.9,96.5 277.1,91.4 272.8,87.0" fill="#66ff8c"/><polygon points="274.9,96.5 279.2,100.4 281.4,95.2 277.1,91.4" fill="#4fffa7"/><polygon points="279.2,100.4 283.4,103.6 285.6,98.9 281.4,95.2" fill="#3effce"/><polygon points="283.4,103.6 287.7,106.1 289.9,101.7 285.6,98.9" fill="#35ffff"/><polygon points="287.7,106.1 291.9,108.9 294.1,103.9 289.9,101.7" fill="#10ffff"/><polygon points="291.9,108.9 296.1,112.4 298.3,106.8 294.1,103.9" fill="#37cdff"/><polygon points="296.1,112.4 300.3,115.7 302.5,110.1 298.3,106.8" fill="#55aaff"/><polygon points="300.3,115.7 304.5,119.8 306.7,113.4 302.5,110.1" fill="#4876ff"/><polygon points="304.5,119.8 308.7,121.6 310.9,117.5 306.7,113.4" fill="#3030ff"/><polygon points="308.7,121.6 312.8,123.1 315.0,119.1 310.9,117.5" fill="#0202ff"/><polygon points="312.8,123.1 317.0,124.9 319.2,121.2 315.0,119.1" fill="#0e0eff"/><polygon points="317.0,124.9 321.1,126.8 323.3,123.0 319.2,121.2" fill="#1a1aff"/><polygon points="321.1,126.8 325.2,128.7 327.4,124.6 323.3,123.0" fill="#1313ff"/><polygon points="325.2,128.7 329.3,130.2 331.5,125.9 327.4,124.6" fill="#0000ff"/><polygon points="329.3,130.2 333.4,131.4 335.6,127.2 331.5,125.9" fill="#0a0aff"/><polygon points="333.4,131.4 337.5,132.0 339.7,128.0 335.6,127.2" fill="#0000fe"/><polygon points="337.5,132.0 341.6,131.4 343.8,127.0 339.7,128.0" fill="#0000ea"/><polygon points="341.6,131.4 345.8,130.5 348.0,125.8 343.8,127.0" fill="#0000ea"/><polygon points="345.8,130.5 350.0,130.0 352.2,125.7 348.0,125.8" fill="#003aea"/><polygon points="350.0,130.0 354.2,127.1 356.5,123.7" fill="#00afea" stroke-width="0.3"/><polygon points="350.0,130.0 356.5,123.7 352.2,125.7" fill="#0075ea" stroke-width="0.3"/><polygon points="350.0,130.0 354.2,127.1 356.5,123.7 352.2,125.7" fill="none"/><polygon points="354.2,127.1 358.6,126.5 360.8,124.5 356.5,123.7" fill="#00afea"/><polygon points="358.6,126.5 363.0,127.9 365.2,126.2" fill="#00eaea" stroke-width="0.3"/><polygon points="358.6,126.5 365.2,126.2 360.8,124.5" fill="#00afea" stroke-width="0.3"/><polygon points="358.6,126.5 363.0,127.9 365.2,126.2 360.8,124.5" fill="none"/><polygon points="363.0,127.9 367.6,129.3 369.8,128.3 365.2,126.2" fill="#00afea"/><polygon points="367.6,129.3 372.3,131.7 374.6,130.0 369.8,128.3" fill="#00afea"/><polygon points="372.3,131.7 377.2,131.3 379.4,129.0 374.6,130.0" fill="#00eaea"/><polygon points="377.2,131.3 382.2,130.8 384.4,128.0 379.4,129.0" fill="#00eaea"/><polygon points="382.2,130.8 387.4,133.4 384.4,128.0" fill="#00f9ba" stroke-width="0.3"/><polygon points="387.4,133.4 389.6,129.5 384.4,128.0" fill="#06ffc0" stroke-width="0.3"/><polygon points="382.2,130.8 387.4,133.4 389.6,129.5 384.4,128.0" fill="none"/><polygon points="387.4,133.4 392.7,135.9 394.9,132.6 389.6,129.5" fill="#2cffff"/><polygon points="392.7,135.9 398.1,139.5 400.3,134.8 394.9,132.6" fill="#23ffff"/><polygon points="398.1,139.5 403.6,143.5 405.8,138.8 400.3,134.8" fill="#25c8ff"/><polygon points="403.6,143.5 409.0,145.7 411.2,141.5 405.8,138.8" fill="#2793ff"/><polygon points="81.3,46.2 86.1,46.6 88.3,41.8 83.5,41.5" fill="#00ebb0"/><polygon points="86.1,46.6 90.9,46.7 93.1,42.9 88.3,41.8" fill="#00ea75"/><polygon points="90.9,46.7 95.7,48.1 97.9,44.1 93.1,42.9" fill="#07ff83"/><polygon points="95.7,48.1 100.5,49.4 102.7,44.8 97.9,44.1" fill="#00f47a"/><polygon points="100.5,49.4 105.4,50.5 107.5,45.6 102.7,44.8" fill="#00f57a"/><polygon points="105.4,50.5 110.1,51.0 112.3,45.9 107.5,45.6" fill="#00ea3a"/><polygon points="110.1,51.0 114.9,50.2 117.1,45.2 112.3,45.9" fill="#00ea3a"/><polygon points="114.9,50.2 119.7,50.3 121.9,46.1 117.1,45.2" fill="#00ea00"/><polygon points="119.7,50.3 124.4,51.1 126.6,47.1 121.9,46.1" fill="#00ea00"/><polygon points="124.4,51.1 129.1,52.3 131.3,48.2 126.6,47.1" fill="#0cff0c"/><polygon points="129.1,52.3 133.9,52.9 136.0,48.7 131.3,48.2" fill="#3aea00"/><polygon points="133.9,52.9 138.5,53.5 140.7,49.9 136.0,48.7" fill="#3aea00"/><polygon points="138.5,53.5 143.2,56.6 145.4,53.3 140.7,49.9" fill="#65ff31"/><polygon points="143.2,56.6 147.9,60.1 150.1,56.9 145.4,53.3" fill="#29ff29"/><polygon points="147.9,60.1 152.6,64.2 154.8,61.2 150.1,56.9" fill="#1cff55"/><polygon points="152.6,64.2 157.2,68.5 159.4,65.8 154.8,61.2" fill="#2bff95"/><polygon points="157.2,68.5 161.8,74.0 164.0,70.9 159.4,65.8" fill="#00f6f6"/><polygon points="161.8,74.0 166.5,79.3 168.7,75.4 164.0,70.9" fill="#2290ff"/><polygon points="166.5,79.3 171.1,81.7 173.3,77.4 168.7,75.4" fill="#2f97ff"/><polygon points="171.1,81.7 175.6,82.0 177.8,77.8 173.3,77.4" fill="#0075ea"/><polygon points="175.6,82.0 180.2,80.5 182.4,76.6 177.8,77.8" fill="#0075ea"/><polygon points="180.2,80.5 184.7,76.8 186.9,72.7 182.4,76.6" fill="#00eaea"/><polygon points="184.7,76.8 189.2,71.2 191.4,67.5 186.9,72.7" fill="#00ea3a"/><polygon points="189.2,71.2 193.7,66.2 195.9,62.8 191.4,67.5" fill="#3aea00"/><polygon points="193.7,66.2 198.2,62.9 200.4,58.8 195.9,62.8" fill="#eaea00"/><polygon points="198.2,62.9 202.7,61.8 204.9,56.7 200.4,58.8" fill="#eaaf00"/><polygon points="202.7,61.8 207.2,61.4 209.3,56.4 204.9,56.7" fill="#ea7500"/><polygon points="207.2,61.4 211.6,60.8 213.8,56.5 209.3,56.4" fill="#ea3a00"/><polygon points="211.6,60.8 216.1,60.9 218.2,56.7 213.8,56.5" fill="#ea0000"/><polygon points="216.1,60.9 220.5,62.6 222.7,58.1 218.2,56.7" fill="#ff1515"/><polygon points="220.5,62.6 224.9,64.2 227.1,60.4 222.7,58.1" fill="#ff1e1e"/><polygon points="224.9,64.2 229.3,65.1 231.5,61.6 227.1,60.4" fill="#ea0000"/><polygon points="229.3,65.1 233.7,66.4 235.9,62.9 231.5,61.6" fill="#f50000"/><polygon points="233.7,66.4 238.1,70.1 240.3,66.5 235.9,62.9" fill="#ff612c"/><polygon points="238.1,70.1 242.5,74.2 244.6,70.8 240.3,66.5" fill="#ff952b"/><polygon points="242.5,74.2 246.8,78.7 249.0,75.3 244.6,70.8" fill="#ffcf40"/><polygon points="246.8,78.7 251.2,81.5 253.3,78.0 249.0,75.3" fill="#ffff22"/><polygon points="251.2,81.5 255.5,83.7 257.7,80.1 253.3,78.0" fill="#c2ff0e"/><polygon points="255.5,83.7 259.8,86.6 262.0,82.9 257.7,80.1" fill="#c9ff27"/><polygon points="259.8,86.6 264.1,91.8 266.3,87.1 262.0,82.9" fill="#9cff3a"/><polygon points="264.1,91.8 268.4,98.3 270.6,92.5 266.3,87.1" fill="#2fff2f"/><polygon points="268.4,98.3 272.7,101.7 274.9,96.5 270.6,92.5" fill="#3fff9f"/><polygon points="272.7,101.7 277.0,105.3 279.2,100.4 274.9,96.5" fill="#4bffd2"/><polygon points="277.0,105.3 281.2,108.5 283.4,103.6 279.2,100.4" fill="#37ffff"/><polygon points="281.2,108.5 285.5,112.0 287.7,106.1 283.4,103.6" fill="#26ffff"/><polygon points="285.5,112.0 289.7,115.5 291.9,108.9 287.7,106.1" fill="#50d3ff"/><polygon points="289.7,115.5 293.9,118.4 296.1,112.4 291.9,108.9" fill="#42a0ff"/><polygon points="293.9,118.4 298.1,121.4 300.3,115.7 296.1,112.4" fill="#245bff"/><polygon points="298.1,121.4 302.3,125.8 304.5,119.8 300.3,115.7" fill="#3d3dff"/><polygon points="302.3,125.8 306.5,126.4 308.7,121.6 304.5,119.8" fill="#0000ff"/><polygon points="306.5,126.4 310.6,127.5 312.8,123.1 308.7,121.6" fill="#0000f6"/><polygon points="310.6,127.5 314.8,128.8 317.0,124.9 312.8,123.1" fill="#0f0fff"/><polygon points="314.8,128.8 318.9,130.5 321.1,126.8 317.0,124.9" fill="#1b1bff"/><polygon points="318.9,130.5 323.0,132.6 325.2,128.7 321.1,126.8" fill="#2a2aff"/><polygon points="323.0,132.6 327.1,134.1 329.3,130.2 325.2,128.7" fill="#0a0aff"/><polygon points="327.1,134.1 331.2,134.8 333.4,131.4 329.3,130.2" fill="#0000ea"/><polygon points="331.2,134.8 335.3,135.0 337.5,132.0 333.4,131.4" fill="#0000ea"/><polygon points="335.3,135.0 339.4,134.6 341.6,131.4 337.5,132.0" fill="#0000ea"/><polygon points="339.4,134.6 343.6,134.2 345.8,130.5 341.6,131.4" fill="#0000ea"/><polygon points="343.6,134.2 347.8,134.0 350.0,130.0" fill="#003aea" stroke-width="0.3"/><polygon points="343.6,134.2 350.0,130.0 345.8,130.5" fill="#003aea" stroke-width="0.3"/><polygon points="343.6,134.2 347.8,134.0 350.0,130.0 345.8,130.5" fill="none"/><polygon points="347.8,134.0 352.1,131.0 354.2,127.1 350.0,130.0" fill="#0075ea"/><polygon points="352.1,131.0 356.4,130.2 358.6,126.5 354.2,127.1" fill="#00eaea"/><polygon points="356.4,130.2 360.8,130.2 363.0,127.9 358.6,126.5" fill="#00eaea"/><polygon points="360.8,130.2 365.4,132.4 367.6,129.3 363.0,127.9" fill="#00fcfc"/><polygon points="365.4,132.4 370.2,136.7 372.3,131.7 367.6,129.3" fill="#3cffff"/><polygon points="370.2,136.7 375.0,136.9 377.2,131.3 372.3,131.7" fill="#00eaea"/><polygon points="375.0,136.9 380.0,135.4 377.2,131.3" fill="#00eaea" stroke-width="0.3"/><polygon points="380.0,135.4 382.2,130.8 377.2,131.3" fill="#00eaaf" stroke-width="0.3"/><polygon points="375.0,136.9 380.0,135.4 382.2,130.8 377.2,131.3" fill="none"/><polygon points="380.0,135.4 385.2,137.8 382.2,130.8" fill="#3affcd" stroke-width="0.3"/><polygon points="385.2,137.8 387.4,133.4 382.2,130.8" fill="#1effc6" stroke-width="0.3"/><polygon points="380.0,135.4 385.2,137.8 387.4,133.4 382.2,130.8" fill="none"/><polygon points="385.2,137.8 390.6,141.5 392.7,135.9 387.4,133.4" fill="#31ffff"/><polygon points="390.6,141.5 396.0,143.3 398.1,139.5 392.7,135.9" fill="#04ffff"/><polygon points="396.0,143.3 401.4,149.2 398.1,139.5" fill="#27c9ff" stroke-width="0.3"/><polygon points="401.4,149.2 403.6,143.5 398.1,139.5" fill="#3eceff" stroke-width="0.3"/><polygon points="396.0,143.3 401.4,149.2 403.6,143.5 398.1,139.5" fill="none"/><polygon points="401.4,149.2 406.8,152.8 409.0,145.7 403.6,143.5" fill="#2592ff"/><polygon points="79.1,50.3 83.9,51.1 86.1,46.6 81.3,46.2" fill="#00f2b5"/><polygon points="83.9,51.1 88.7,51.3 90.9,46.7 86.1,46.6" fill="#00ea75"/><polygon points="88.7,51.3 93.6,53.1 95.7,48.1 90.9,46.7" fill="#11ff88"/><polygon points="93.6,53.1 98.4,54.7 100.5,49.4 95.7,48.1" fill="#1aff8c"/><polygon points="98.4,54.7 103.2,55.0 105.4,50.5 100.5,49.4" fill="#00f77b"/><polygon points="103.2,55.0 108.0,54.7 110.1,51.0 105.4,50.5" fill="#00ea75"/><polygon points="108.0,54.7 112.7,53.9 114.9,50.2 110.1,51.0" fill="#00ea3a"/><polygon points="112.7,53.9 117.5,53.6 119.7,50.3 114.9,50.2" fill="#00ea00"/><polygon points="117.5,53.6 122.2,54.5 124.4,51.1 119.7,50.3" fill="#00ea00"/><polygon points="122.2,54.5 127.0,56.0 129.1,52.3 124.4,51.1" fill="#54ff1b"/><polygon points="127.0,56.0 131.7,56.4 133.9,52.9 129.1,52.3" fill="#3aea00"/><polygon points="131.7,56.4 136.4,56.7 138.5,53.5 133.9,52.9" fill="#3aea00"/><polygon points="136.4,56.7 141.1,59.8 143.2,56.6 138.5,53.5" fill="#58ff20"/><polygon points="141.1,59.8 145.7,62.8 147.9,60.1 143.2,56.6" fill="#1aff1a"/><polygon points="145.7,62.8 150.4,67.2 152.6,64.2 147.9,60.1" fill="#15ff4f"/><polygon points="150.4,67.2 155.0,72.0 157.2,68.5 152.6,64.2" fill="#0eff86"/><polygon points="155.0,72.0 159.7,77.8 161.8,74.0 157.2,68.5" fill="#20ffff"/><polygon points="159.7,77.8 164.3,83.1 166.5,79.3 161.8,74.0" fill="#2bcaff"/><polygon points="164.3,83.1 168.9,86.7 171.1,81.7 166.5,79.3" fill="#1d55ff"/><polygon points="168.9,86.7 173.5,87.7 175.6,82.0 171.1,81.7" fill="#0040ff"/><polygon points="173.5,87.7 178.0,85.5 180.2,80.5 175.6,82.0" fill="#0075ea"/><polygon points="178.0,85.5 182.6,81.6 184.7,76.8 180.2,80.5" fill="#00eaea"/><polygon points="182.6,81.6 187.1,75.8 189.2,71.2 184.7,76.8" fill="#00ea75"/><polygon points="187.1,75.8 191.6,70.7 193.7,66.2 189.2,71.2" fill="#3aea00"/><polygon points="191.6,70.7 196.0,67.0 198.2,62.9 193.7,66.2" fill="#eaea00"/><polygon points="196.0,67.0 200.5,65.7 202.7,61.8 198.2,62.9" fill="#eaaf00"/><polygon points="200.5,65.7 205.0,65.3 207.2,61.4 202.7,61.8" fill="#ea7500"/><polygon points="205.0,65.3 209.4,65.5 211.6,60.8 207.2,61.4" fill="#ea3a00"/><polygon points="209.4,65.5 213.9,65.7 216.1,60.9 211.6,60.8" fill="#ea3a00"/><polygon points="213.9,65.7 218.3,66.9 220.5,62.6 216.1,60.9" fill="#fe0000"/><polygon points="218.3,66.9 222.7,67.9 224.9,64.2 220.5,62.6" fill="#ff0505"/><polygon points="222.7,67.9 227.1,68.7 229.3,65.1 224.9,64.2" fill="#ea0000"/><polygon points="227.1,68.7 231.5,70.1 233.7,66.4 229.3,65.1" fill="#ff0303"/><polygon points="231.5,70.1 235.9,73.2 238.1,70.1 233.7,66.4" fill="#ff541c"/><polygon points="235.9,73.2 240.3,77.0 242.5,74.2 238.1,70.1" fill="#ff8e1d"/><polygon points="240.3,77.0 244.6,81.5 246.8,78.7 242.5,74.2" fill="#ffc006"/><polygon points="244.6,81.5 249.0,85.1 251.2,81.5 246.8,78.7" fill="#ffff38"/><polygon points="249.0,85.1 253.3,87.7 255.5,83.7 251.2,81.5" fill="#cbff32"/><polygon points="253.3,87.7 257.6,90.9 259.8,86.6 255.5,83.7" fill="#cdff38"/><polygon points="257.6,90.9 262.0,96.3 264.1,91.8 259.8,86.6" fill="#93ff28"/><polygon points="262.0,96.3 266.3,102.0 268.4,98.3 264.1,91.8" fill="#33ff33"/><polygon points="266.3,102.0 270.5,105.0 272.7,101.7 268.4,98.3" fill="#23ff91"/><polygon points="270.5,105.0 274.8,109.1 277.0,105.3 272.7,101.7" fill="#17ffc5"/><polygon points="274.8,109.1 279.1,113.6 281.2,108.5 277.0,105.3" fill="#29ffff"/><polygon points="279.1,113.6 283.3,117.8 285.5,112.0 281.2,108.5" fill="#3cceff"/><polygon points="283.3,117.8 287.6,120.9 289.7,115.5 285.5,112.0" fill="#44a1ff"/><polygon points="287.6,120.9 291.8,123.3 293.9,118.4 289.7,115.5" fill="#6188ff"/><polygon points="291.8,123.3 296.0,126.5 298.1,121.4 293.9,118.4" fill="#3265ff"/><polygon points="296.0,126.5 300.2,129.5 302.3,125.8 298.1,121.4" fill="#3636ff"/><polygon points="300.2,129.5 304.3,130.3 306.5,126.4 302.3,125.8" fill="#0000ea"/><polygon points="304.3,130.3 308.5,131.3 310.6,127.5 306.5,126.4" fill="#0000ea"/><polygon points="308.5,131.3 312.6,132.4 314.8,128.8 310.6,127.5" fill="#0000ea"/><polygon points="312.6,132.4 316.7,133.8 318.9,130.5 314.8,128.8" fill="#0707ff"/><polygon points="316.7,133.8 320.8,135.8 323.0,132.6 318.9,130.5" fill="#1919ff"/><polygon points="320.8,135.8 324.9,137.7 327.1,134.1 323.0,132.6" fill="#0404ff"/><polygon points="324.9,137.7 329.0,138.0 331.2,134.8 327.1,134.1" fill="#0000ea"/><polygon points="329.0,138.0 333.1,137.8 335.3,135.0 331.2,134.8" fill="#0000ea"/><polygon points="333.1,137.8 337.2,137.9 339.4,134.6 335.3,135.0" fill="#0000ea"/><polygon points="337.2,137.9 341.4,138.2 343.6,134.2 339.4,134.6" fill="#0000ea"/><polygon points="341.4,138.2 345.6,138.0 347.8,134.0" fill="#003aea" stroke-width="0.3"/><polygon points="341.4,138.2 347.8,134.0 343.6,134.2" fill="#003aea" stroke-width="0.3"/><polygon points="341.4,138.2 345.6,138.0 347.8,134.0 343.6,134.2" fill="none"/><polygon points="345.6,138.0 349.9,134.5 352.1,131.0 347.8,134.0" fill="#0075ea"/><polygon points="349.9,134.5 354.2,133.7 356.4,130.2 352.1,131.0" fill="#00eaea"/><polygon points="354.2,133.7 358.6,135.3 360.8,130.2 356.4,130.2" fill="#02ffff"/><polygon points="358.6,135.3 363.2,137.2 365.4,132.4 360.8,130.2" fill="#28ffff"/><polygon points="363.2,137.2 367.9,138.5 370.2,136.7 365.4,132.4" fill="#00fefe"/><polygon points="367.9,138.5 372.8,139.8 375.0,136.9 370.2,136.7" fill="#00eaea"/><polygon points="372.8,139.8 377.9,142.2 380.0,135.4 375.0,136.9" fill="#00f9f9"/><polygon points="377.9,142.2 383.0,144.3 385.2,137.8 380.0,135.4" fill="#27ffff"/><polygon points="383.0,144.3 388.4,146.4 390.6,141.5 385.2,137.8" fill="#35ffff"/><polygon points="388.4,146.4 393.8,149.7 396.0,143.3 390.6,141.5" fill="#3acdff"/><polygon points="393.8,149.7 399.2,153.5 401.4,149.2" fill="#3097ff" stroke-width="0.3"/><polygon points="393.8,149.7 401.4,149.2 396.0,143.3" fill="#55d4ff" stroke-width="0.3"/><polygon points="393.8,149.7 399.2,153.5 401.4,149.2 396.0,143.3" fill="none"/><polygon points="399.2,153.5 404.6,154.1 406.8,152.8 401.4,149.2" fill="#0075ea"/><polygon points="76.9,53.5 81.7,54.8 83.9,51.1 79.1,50.3" fill="#00ebb0"/><polygon points="81.7,54.8 86.6,56.2 88.7,51.3 83.9,51.1" fill="#02ffbf"/><polygon points="86.6,56.2 91.4,58.0 93.6,53.1 88.7,51.3" fill="#13ffc4"/><polygon points="91.4,58.0 96.2,59.9 98.4,54.7 93.6,53.1" fill="#16ffc4"/><polygon points="96.2,59.9 101.0,59.8 103.2,55.0 98.4,54.7" fill="#00ea75"/><polygon points="101.0,59.8 105.8,58.9 108.0,54.7 103.2,55.0" fill="#00ea75"/><polygon points="105.8,58.9 110.6,58.3 112.7,53.9 108.0,54.7" fill="#00ea3a"/><polygon points="110.6,58.3 115.3,58.1 117.5,53.6 112.7,53.9" fill="#00ea00"/><polygon points="115.3,58.1 120.1,58.5 122.2,54.5 117.5,53.6" fill="#00ea00"/><polygon points="120.1,58.5 124.8,59.7 127.0,56.0 122.2,54.5" fill="#3df700"/><polygon points="124.8,59.7 129.5,60.4 131.7,56.4 127.0,56.0" fill="#3aea00"/><polygon points="129.5,60.4 134.2,61.1 136.4,56.7 131.7,56.4" fill="#3aea00"/><polygon points="134.2,61.1 138.9,63.7 141.1,59.8 136.4,56.7" fill="#68ff36"/><polygon points="138.9,63.7 143.6,66.1 145.7,62.8 141.1,59.8" fill="#2aff2a"/><polygon points="143.6,66.1 148.2,70.3 150.4,67.2 145.7,62.8" fill="#20ff20"/><polygon points="148.2,70.3 152.9,75.4 155.0,72.0 150.4,67.2" fill="#18ff8b"/><polygon points="152.9,75.4 157.5,81.4 159.7,77.8 155.0,72.0" fill="#2cffff"/><polygon points="157.5,81.4 162.1,86.7 164.3,83.1 159.7,77.8" fill="#35ccff"/><polygon points="162.1,86.7 166.7,90.5 168.9,86.7 164.3,83.1" fill="#3063ff"/><polygon points="166.7,90.5 171.3,92.5 173.5,87.7 168.9,86.7" fill="#144fff"/><polygon points="171.3,92.5 175.9,90.5 178.0,85.5 173.5,87.7" fill="#0075ea"/><polygon points="175.9,90.5 180.4,85.7 182.6,81.6 178.0,85.5" fill="#00eaea"/><polygon points="180.4,85.7 184.9,79.2 187.1,75.8 182.6,81.6" fill="#00ea75"/><polygon points="184.9,79.2 189.4,73.5 191.6,70.7 187.1,75.8" fill="#3aea00"/><polygon points="189.4,73.5 193.9,69.7 196.0,67.0 191.6,70.7" fill="#eaea00"/><polygon points="193.9,69.7 198.4,68.6 200.5,65.7 196.0,67.0" fill="#eaaf00"/><polygon points="198.4,68.6 202.8,68.7 205.0,65.3 200.5,65.7" fill="#ea7500"/><polygon points="202.8,68.7 207.3,69.8 209.4,65.5 205.0,65.3" fill="#f73d00"/><polygon points="207.3,69.8 211.7,70.1 213.9,65.7 209.4,65.5" fill="#ea3a00"/><polygon points="211.7,70.1 216.2,70.7 218.3,66.9 213.9,65.7" fill="#ea3a00"/><polygon points="216.2,70.7 220.6,71.5 222.7,67.9 218.3,66.9" fill="#f50000"/><polygon points="220.6,71.5 225.0,72.5 227.1,68.7 222.7,67.9" fill="#ff1313"/><polygon points="225.0,72.5 229.4,74.2 231.5,70.1 227.1,68.7" fill="#ff0d0d"/><polygon points="229.4,74.2 233.7,77.4 235.9,73.2 231.5,70.1" fill="#ff531a"/><polygon points="233.7,77.4 238.1,81.5 240.3,77.0 235.9,73.2" fill="#ff9c3a"/><polygon points="238.1,81.5 242.5,86.3 244.6,81.5 240.3,77.0" fill="#ffd045"/><polygon points="242.5,86.3 246.8,89.6 249.0,85.1 244.6,81.5" fill="#ffff2f"/><polygon points="246.8,89.6 251.2,92.5 253.3,87.7 249.0,85.1" fill="#ccff34"/><polygon points="251.2,92.5 255.5,96.1 257.6,90.9 253.3,87.7" fill="#a6ff4d"/><polygon points="255.5,96.1 259.8,101.6 262.0,96.3 257.6,90.9" fill="#66ff34"/><polygon points="259.8,101.6 264.1,105.9 266.3,102.0 262.0,96.3" fill="#51ff7c"/><polygon points="264.1,105.9 268.4,108.6 270.5,105.0 266.3,102.0" fill="#35ff9a"/><polygon points="268.4,108.6 272.7,113.0 274.8,109.1 270.5,105.0" fill="#39ffcd"/><polygon points="272.7,113.0 276.9,117.7 279.1,113.6 274.8,109.1" fill="#24ffff"/><polygon points="276.9,117.7 281.2,121.6 283.3,117.8 279.1,113.6" fill="#3bceff"/><polygon points="281.2,121.6 285.4,124.1 287.6,120.9 283.3,117.8" fill="#3499ff"/><polygon points="285.4,124.1 289.6,126.5 291.8,123.3 287.6,120.9" fill="#0a47ff"/><polygon points="289.6,126.5 293.8,129.4 296.0,126.5 291.8,123.3" fill="#0b48ff"/><polygon points="293.8,129.4 298.0,132.2 300.2,129.5 296.0,126.5" fill="#1717ff"/><polygon points="298.0,132.2 302.1,133.3 304.3,130.3 300.2,129.5" fill="#0000ea"/><polygon points="302.1,133.3 306.3,134.7 308.5,131.3 304.3,130.3" fill="#0000ea"/><polygon points="306.3,134.7 310.4,135.8 312.6,132.4 308.5,131.3" fill="#0000f3"/><polygon points="310.4,135.8 314.5,137.2 316.7,133.8 312.6,132.4" fill="#0000f0"/><polygon points="314.5,137.2 318.6,139.0 320.8,135.8 316.7,133.8" fill="#0505ff"/><polygon points="318.6,139.0 322.7,141.2 324.9,137.7 320.8,135.8" fill="#0000f9"/><polygon points="322.7,141.2 326.8,141.2 329.0,138.0 324.9,137.7" fill="#0000ea"/><polygon points="326.8,141.2 330.9,140.5 333.1,137.8 329.0,138.0" fill="#0000ea"/><polygon points="330.9,140.5 335.0,141.8 337.2,137.9 333.1,137.8" fill="#0000ea"/><polygon points="335.0,141.8 339.2,142.8 337.2,137.9" fill="#0000f7" stroke-width="0.3"/><polygon points="339.2,142.8 341.4,138.2 337.2,137.9" fill="#0000ea" stroke-width="0.3"/><polygon points="335.0,141.8 339.2,142.8 341.4,138.2 337.2,137.9" fill="none"/><polygon points="339.2,142.8 343.5,142.4 345.6,138.0 341.4,138.2" fill="#003aea"/><polygon points="343.5,142.4 347.7,138.1 349.9,134.5 345.6,138.0" fill="#0075ea"/><polygon points="347.7,138.1 352.0,137.2 354.2,133.7" fill="#00eaea" stroke-width="0.3"/><polygon points="347.7,138.1 354.2,133.7 349.9,134.5" fill="#00eaea" stroke-width="0.3"/><polygon points="347.7,138.1 352.0,137.2 354.2,133.7 349.9,134.5" fill="none"/><polygon points="352.0,137.2 356.5,139.3 358.6,135.3 354.2,133.7" fill="#0fffff"/><polygon points="356.5,139.3 361.1,140.1 363.2,137.2" fill="#00eaea" stroke-width="0.3"/><polygon points="356.5,139.3 363.2,137.2 358.6,135.3" fill="#13ffff" stroke-width="0.3"/><polygon points="356.5,139.3 361.1,140.1 363.2,137.2 358.6,135.3" fill="none"/><polygon points="361.1,140.1 365.8,142.7 363.2,137.2" fill="#00f7f7" stroke-width="0.3"/><polygon points="365.8,142.7 367.9,138.5 363.2,137.2" fill="#00f1f1" stroke-width="0.3"/><polygon points="361.1,140.1 365.8,142.7 367.9,138.5 363.2,137.2" fill="none"/><polygon points="365.8,142.7 370.7,144.4 367.9,138.5" fill="#00fdfd" stroke-width="0.3"/><polygon points="370.7,144.4 372.8,139.8 367.9,138.5" fill="#00eded" stroke-width="0.3"/><polygon points="365.8,142.7 370.7,144.4 372.8,139.8 367.9,138.5" fill="none"/><polygon points="370.7,144.4 375.7,146.7 372.8,139.8" fill="#16ffff" stroke-width="0.3"/><polygon points="375.7,146.7 377.9,142.2 372.8,139.8" fill="#25ffff" stroke-width="0.3"/><polygon points="370.7,144.4 375.7,146.7 377.9,142.2 372.8,139.8" fill="none"/><polygon points="375.7,146.7 380.9,150.0 383.0,144.3 377.9,142.2" fill="#40cfff"/><polygon points="380.9,150.0 386.2,149.8 388.4,146.4 383.0,144.3" fill="#00afea"/><polygon points="386.2,149.8 391.6,152.5 388.4,146.4" fill="#02bfff" stroke-width="0.3"/><polygon points="391.6,152.5 393.8,149.7 388.4,146.4" fill="#2bcaff" stroke-width="0.3"/><polygon points="386.2,149.8 391.6,152.5 393.8,149.7 388.4,146.4" fill="none"/><polygon points="391.6,152.5 397.0,153.5 399.2,153.5 393.8,149.7" fill="#00afea"/><polygon points="397.0,153.5 402.4,154.7 404.6,154.1 399.2,153.5" fill="#00afea"/><polygon points="74.8,56.7 79.6,58.2 81.7,54.8 76.9,53.5" fill="#00fcbd"/><polygon points="79.6,58.2 84.4,60.2 86.6,56.2 81.7,54.8" fill="#00fcbd"/><polygon points="84.4,60.2 89.2,62.4 91.4,58.0 86.6,56.2" fill="#09ffc1"/><polygon points="89.2,62.4 94.1,65.4 96.2,59.9 91.4,58.0" fill="#37ffcd"/><polygon points="94.1,65.4 98.9,65.5 101.0,59.8 96.2,59.9" fill="#00eaaf"/><polygon points="98.9,65.5 103.6,64.0 105.8,58.9 101.0,59.8" fill="#00ea75"/><polygon points="103.6,64.0 108.4,63.1 110.6,58.3 105.8,58.9" fill="#00ea3a"/><polygon points="108.4,63.1 113.2,62.2 115.3,58.1 110.6,58.3" fill="#00ea00"/><polygon points="113.2,62.2 117.9,61.7 120.1,58.5 115.3,58.1" fill="#00ea00"/><polygon points="117.9,61.7 122.6,63.0 124.8,59.7 120.1,58.5" fill="#3aea00"/><polygon points="122.6,63.0 127.4,64.3 129.5,60.4 124.8,59.7" fill="#41ff02"/><polygon points="127.4,64.3 132.1,65.5 134.2,61.1 129.5,60.4" fill="#3aeb00"/><polygon points="132.1,65.5 136.7,67.7 138.9,63.7 134.2,61.1" fill="#59ff21"/><polygon points="136.7,67.7 141.4,70.0 143.6,66.1 138.9,63.7" fill="#4cff11"/><polygon points="141.4,70.0 146.1,74.3 148.2,70.3 143.6,66.1" fill="#38ff38"/><polygon points="146.1,74.3 150.7,79.6 152.9,75.4 148.2,70.3" fill="#33ff99"/><polygon points="150.7,79.6 155.4,84.8 157.5,81.4 152.9,75.4" fill="#27ffc9"/><polygon points="155.4,84.8 160.0,90.0 162.1,86.7 157.5,81.4" fill="#22c7ff"/><polygon points="160.0,90.0 164.6,93.6 166.7,90.5 162.1,86.7" fill="#1a8cff"/><polygon points="164.6,93.6 169.2,96.1 171.3,92.5 166.7,90.5" fill="#104cff"/><polygon points="169.2,96.1 173.7,94.8 175.9,90.5 171.3,92.5" fill="#003aea"/><polygon points="173.7,94.8 178.2,89.1 180.4,85.7 175.9,90.5" fill="#00afea"/><polygon points="178.2,89.1 182.8,82.0 184.9,79.2 180.4,85.7" fill="#00ea75"/><polygon points="182.8,82.0 187.2,75.7 189.4,73.5 184.9,79.2" fill="#75ea00"/><polygon points="187.2,75.7 191.7,72.3 193.9,69.7 189.4,73.5" fill="#eaea00"/><polygon points="191.7,72.3 196.2,72.0 198.4,68.6 193.9,69.7" fill="#ea7500"/><polygon points="196.2,72.0 200.7,72.4 202.8,68.7 198.4,68.6" fill="#ea3a00"/><polygon points="200.7,72.4 205.1,73.2 207.3,69.8 202.8,68.7" fill="#ea3a00"/><polygon points="205.1,73.2 209.6,73.8 211.7,70.1 207.3,69.8" fill="#ea3a00"/><polygon points="209.6,73.8 214.0,74.5 216.2,70.7 211.7,70.1" fill="#ea3a00"/><polygon points="214.0,74.5 218.4,75.6 220.6,71.5 216.2,70.7" fill="#ff0a0a"/><polygon points="218.4,75.6 222.8,76.8 225.0,72.5 220.6,71.5" fill="#f60000"/><polygon points="222.8,76.8 227.2,78.9 229.4,74.2 225.0,72.5" fill="#ff1515"/><polygon points="227.2,78.9 231.6,82.7 233.7,77.4 229.4,74.2" fill="#ff7446"/><polygon points="231.6,82.7 236.0,87.0 238.1,81.5 233.7,77.4" fill="#ffa143"/><polygon points="236.0,87.0 240.3,91.7 242.5,86.3 238.1,81.5" fill="#ffd043"/><polygon points="240.3,91.7 244.7,95.2 246.8,89.6 242.5,86.3" fill="#ffff3d"/><polygon points="244.7,95.2 249.0,98.4 251.2,92.5 246.8,89.6" fill="#d4ff56"/><polygon points="249.0,98.4 253.3,101.4 255.5,96.1 251.2,92.5" fill="#9cff39"/><polygon points="253.3,101.4 257.7,105.9 259.8,101.6 255.5,96.1" fill="#61ff2c"/><polygon points="257.7,105.9 261.9,109.4 264.1,105.9 259.8,101.6" fill="#2aff5f"/><polygon points="261.9,109.4 266.2,112.5 268.4,108.6 264.1,105.9" fill="#1aff8c"/><polygon points="266.2,112.5 270.5,116.9 272.7,113.0 268.4,108.6" fill="#28ffc9"/><polygon points="270.5,116.9 274.8,121.2 276.9,117.7 272.7,113.0" fill="#2dffff"/><polygon points="274.8,121.2 279.0,124.9 281.2,121.6 276.9,117.7" fill="#1bc6ff"/><polygon points="279.0,124.9 283.2,127.4 285.4,124.1 281.2,121.6" fill="#2692ff"/><polygon points="283.2,127.4 287.4,130.0 289.6,126.5 285.4,124.1" fill="#275dff"/><polygon points="287.4,130.0 291.6,134.8 293.8,129.4 289.6,126.5" fill="#1650ff"/><polygon points="291.6,134.8 295.8,136.0 298.0,132.2 293.8,129.4" fill="#0a0aff"/><polygon points="295.8,136.0 300.0,137.6 302.1,133.3 298.0,132.2" fill="#1919ff"/><polygon points="300.0,137.6 304.1,138.7 306.3,134.7 302.1,133.3" fill="#0000f5"/><polygon points="304.1,138.7 308.3,139.5 310.4,135.8 306.3,134.7" fill="#0000f1"/><polygon points="308.3,139.5 312.4,140.8 314.5,137.2 310.4,135.8" fill="#0000fd"/><polygon points="312.4,140.8 316.5,142.5 318.6,139.0 314.5,137.2" fill="#1c1cff"/><polygon points="316.5,142.5 320.6,143.7 322.7,141.2 318.6,139.0" fill="#0000f2"/><polygon points="320.6,143.7 324.6,143.6 326.8,141.2 322.7,141.2" fill="#0000ea"/><polygon points="324.6,143.6 328.7,144.0 330.9,140.5 326.8,141.2" fill="#0000ea"/><polygon points="328.7,144.0 332.9,145.7 335.0,141.8 330.9,140.5" fill="#0606ff"/><polygon points="332.9,145.7 337.1,146.8 339.2,142.8 335.0,141.8" fill="#0000ef"/><polygon points="337.1,146.8 341.3,147.2 343.5,142.4 339.2,142.8" fill="#003aea"/><polygon points="341.3,147.2 345.6,143.3 347.7,138.1 343.5,142.4" fill="#0075ea"/><polygon points="345.6,143.3 349.9,142.5 352.0,137.2 347.7,138.1" fill="#00eaea"/><polygon points="349.9,142.5 354.3,142.9 356.5,139.3 352.0,137.2" fill="#00fefe"/><polygon points="354.3,142.9 358.9,144.6 361.1,140.1" fill="#22ffff" stroke-width="0.3"/><polygon points="354.3,142.9 361.1,140.1 356.5,139.3" fill="#00eaea" stroke-width="0.3"/><polygon points="354.3,142.9 358.9,144.6 361.1,140.1 356.5,139.3" fill="none"/><polygon points="358.9,144.6 363.6,147.9 365.8,142.7" fill="#2dffff" stroke-width="0.3"/><polygon points="358.9,144.6 365.8,142.7 361.1,140.1" fill="#29ffff" stroke-width="0.3"/><polygon points="358.9,144.6 363.6,147.9 365.8,142.7 361.1,140.1" fill="none"/><polygon points="363.6,147.9 368.5,149.8 365.8,142.7" fill="#29c9ff" stroke-width="0.3"/><polygon points="368.5,149.8 370.7,144.4 365.8,142.7" fill="#0effff" stroke-width="0.3"/><polygon points="363.6,147.9 368.5,149.8 370.7,144.4 365.8,142.7" fill="none"/><polygon points="368.5,149.8 373.5,150.8 375.7,146.7 370.7,144.4" fill="#00bdfc"/><polygon points="373.5,150.8 378.7,153.6 380.9,150.0 375.7,146.7" fill="#00bfff"/><polygon points="378.7,153.6 384.1,153.2 386.2,149.8" fill="#00afea" stroke-width="0.3"/><polygon points="378.7,153.6 386.2,149.8 380.9,150.0" fill="#00afea" stroke-width="0.3"/><polygon points="378.7,153.6 384.1,153.2 386.2,149.8 380.9,150.0" fill="none"/><polygon points="384.1,153.2 389.5,155.5 391.6,152.5 386.2,149.8" fill="#16c4ff"/><polygon points="389.5,155.5 394.9,156.6 397.0,153.5 391.6,152.5" fill="#00afea"/><polygon points="394.9,156.6 400.3,157.6 402.4,154.7 397.0,153.5" fill="#00eaea"/><polygon points="72.6,61.1 77.4,62.3 79.6,58.2 74.8,56.7" fill="#12ffc3"/><polygon points="77.4,62.3 82.3,64.7 84.4,60.2 79.6,58.2" fill="#29ffc9"/><polygon points="82.3,64.7 87.1,68.1 89.2,62.4 84.4,60.2" fill="#36ffcc"/><polygon points="87.1,68.1 91.9,71.3 94.1,65.4 89.2,62.4" fill="#48ffff"/><polygon points="91.9,71.3 96.7,71.3 98.9,65.5 94.1,65.4" fill="#00eaea"/><polygon points="96.7,71.3 101.5,69.0 103.6,64.0 98.9,65.5" fill="#00eaaf"/><polygon points="101.5,69.0 106.3,67.8 108.4,63.1 103.6,64.0" fill="#00ea75"/><polygon points="106.3,67.8 111.0,66.8 113.2,62.2 108.4,63.1" fill="#00ea3a"/><polygon points="111.0,66.8 115.8,66.4 117.9,61.7 113.2,62.2" fill="#00ea00"/><polygon points="115.8,66.4 120.5,67.0 122.6,63.0 117.9,61.7" fill="#3aea00"/><polygon points="120.5,67.0 125.2,68.2 127.4,64.3 122.6,63.0" fill="#45ff07"/><polygon points="125.2,68.2 129.9,70.0 132.1,65.5 127.4,64.3" fill="#45ff08"/><polygon points="129.9,70.0 134.6,72.3 136.7,67.7 132.1,65.5" fill="#57ff1f"/><polygon points="134.6,72.3 139.3,74.4 141.4,70.0 136.7,67.7" fill="#2cff2c"/><polygon points="139.3,74.4 143.9,78.6 146.1,74.3 141.4,70.0" fill="#48ff48"/><polygon points="143.9,78.6 148.6,84.4 150.7,79.6 146.1,74.3" fill="#2bff95"/><polygon points="148.6,84.4 153.2,89.4 155.4,84.8 150.7,79.6" fill="#3dffff"/><polygon points="153.2,89.4 157.8,93.9 160.0,90.0 155.4,84.8" fill="#3acdff"/><polygon points="157.8,93.9 162.4,97.6 164.6,93.6 160.0,90.0" fill="#2b95ff"/><polygon points="162.4,97.6 167.0,99.7 169.2,96.1 164.6,93.6" fill="#1a53ff"/><polygon points="167.0,99.7 171.6,98.0 173.7,94.8 169.2,96.1" fill="#003aea"/><polygon points="171.6,98.0 176.1,91.8 178.2,89.1 173.7,94.8" fill="#00eaea"/><polygon points="176.1,91.8 180.6,85.2 182.8,82.0 178.2,89.1" fill="#00ea3a"/><polygon points="180.6,85.2 185.1,80.0 187.2,75.7 182.8,82.0" fill="#75ea00"/><polygon points="185.1,80.0 189.6,77.4 191.7,72.3 187.2,75.7" fill="#eaea00"/><polygon points="189.6,77.4 194.1,76.0 196.2,72.0 191.7,72.3" fill="#ea7500"/><polygon points="194.1,76.0 198.5,75.8 200.7,72.4 196.2,72.0" fill="#ea3a00"/><polygon points="198.5,75.8 203.0,76.3 205.1,73.2 200.7,72.4" fill="#ea3a00"/><polygon points="203.0,76.3 207.4,76.9 209.6,73.8 205.1,73.2" fill="#ea3a00"/><polygon points="207.4,76.9 211.9,77.7 214.0,74.5 209.6,73.8" fill="#ed0000"/><polygon points="211.9,77.7 216.3,78.9 218.4,75.6 214.0,74.5" fill="#ea0000"/><polygon points="216.3,78.9 220.7,80.4 222.8,76.8 218.4,75.6" fill="#f20000"/><polygon points="220.7,80.4 225.1,82.2 227.2,78.9 222.8,76.8" fill="#f90000"/><polygon points="225.1,82.2 229.5,86.7 231.6,82.7 227.2,78.9" fill="#ff531a"/><polygon points="229.5,86.7 233.9,92.1 236.0,87.0 231.6,82.7" fill="#ff9934"/><polygon points="233.9,92.1 238.2,97.2 240.3,91.7 236.0,87.0" fill="#ffff45"/><polygon points="238.2,97.2 242.6,100.3 244.7,95.2 240.3,91.7" fill="#ceff3d"/><polygon points="242.6,100.3 246.9,103.1 249.0,98.4 244.7,95.2" fill="#99ff34"/><polygon points="246.9,103.1 251.2,106.1 253.3,101.4 249.0,98.4" fill="#6fff3f"/><polygon points="251.2,106.1 255.5,110.2 257.7,105.9 253.3,101.4" fill="#3eff3e"/><polygon points="255.5,110.2 259.8,113.0 261.9,109.4 257.7,105.9" fill="#21ff59"/><polygon points="259.8,113.0 264.1,116.7 266.2,112.5 261.9,109.4" fill="#26ff92"/><polygon points="264.1,116.7 268.4,120.4 270.5,116.9 266.2,112.5" fill="#37ffcd"/><polygon points="268.4,120.4 272.6,124.7 274.8,121.2 270.5,116.9" fill="#36ffff"/><polygon points="272.6,124.7 276.9,128.9 279.0,124.9 274.8,121.2" fill="#2ecaff"/><polygon points="276.9,128.9 281.1,131.9 283.2,127.4 279.0,124.9" fill="#3399ff"/><polygon points="281.1,131.9 285.3,136.0 287.4,130.0 283.2,127.4" fill="#4070ff"/><polygon points="285.3,136.0 289.5,138.8 291.6,134.8 287.4,130.0" fill="#2b2bff"/><polygon points="289.5,138.8 293.7,140.2 295.8,136.0 291.6,134.8" fill="#1111ff"/><polygon points="293.7,140.2 297.8,141.7 300.0,137.6 295.8,136.0" fill="#0f0fff"/><polygon points="297.8,141.7 302.0,142.4 304.1,138.7 300.0,137.6" fill="#0000f6"/><polygon points="302.0,142.4 306.1,143.3 308.3,139.5 304.1,138.7" fill="#0808ff"/><polygon points="306.1,143.3 310.2,145.2 312.4,140.8 308.3,139.5" fill="#2727ff"/><polygon points="310.2,145.2 314.3,146.5 316.5,142.5 312.4,140.8" fill="#0303ff"/><polygon points="314.3,146.5 318.4,146.2 320.6,143.7 316.5,142.5" fill="#0000ea"/><polygon points="318.4,146.2 322.5,146.8 324.6,143.6 320.6,143.7" fill="#0000ea"/><polygon points="322.5,146.8 326.6,148.1 328.7,144.0 324.6,143.6" fill="#0000f8"/><polygon points="326.6,148.1 330.7,150.0 332.9,145.7 328.7,144.0" fill="#1b1bff"/><polygon points="330.7,150.0 334.9,151.1 337.1,146.8 332.9,145.7" fill="#0303ff"/><polygon points="334.9,151.1 339.2,151.9 341.3,147.2 337.1,146.8" fill="#0808ff"/><polygon points="339.2,151.9 343.4,148.4 341.3,147.2" fill="#003aea" stroke-width="0.3"/><polygon points="343.4,148.4 345.6,143.3 341.3,147.2" fill="#0075ea" stroke-width="0.3"/><polygon points="339.2,151.9 343.4,148.4 345.6,143.3 341.3,147.2" fill="none"/><polygon points="343.4,148.4 347.8,146.9 349.9,142.5 345.6,143.3" fill="#00afea"/><polygon points="347.8,146.9 352.2,146.7 354.3,142.9 349.9,142.5" fill="#00eaea"/><polygon points="352.2,146.7 356.8,148.2 358.9,144.6 354.3,142.9" fill="#04ffff"/><polygon points="356.8,148.2 361.5,150.4 363.6,147.9 358.9,144.6" fill="#0cffff"/><polygon points="361.5,150.4 366.4,151.8 368.5,149.8 363.6,147.9" fill="#00f1f1"/><polygon points="366.4,151.8 371.4,153.7 373.5,150.8 368.5,149.8" fill="#00eaea"/><polygon points="371.4,153.7 376.6,157.1 378.7,153.6 373.5,150.8" fill="#0bc2ff"/><polygon points="376.6,157.1 381.9,157.7 378.7,153.6" fill="#00afea" stroke-width="0.3"/><polygon points="381.9,157.7 384.1,153.2 378.7,153.6" fill="#00afea" stroke-width="0.3"/><polygon points="376.6,157.1 381.9,157.7 384.1,153.2 378.7,153.6" fill="none"/><polygon points="381.9,157.7 387.3,157.3 389.5,155.5 384.1,153.2" fill="#00eaea"/><polygon points="387.3,157.3 392.7,158.3 394.9,156.6 389.5,155.5" fill="#00eaea"/><polygon points="392.7,158.3 398.1,159.4 400.3,157.6 394.9,156.6" fill="#00eaea"/><polygon points="70.5,65.0 75.3,67.0 77.4,62.3 72.6,61.1" fill="#2cffca"/><polygon points="75.3,67.0 80.1,70.3 82.3,64.7 77.4,62.3" fill="#33ffcc"/><polygon points="80.1,70.3 85.0,73.8 87.1,68.1 82.3,64.7" fill="#3effff"/><polygon points="85.0,73.8 89.8,75.8 91.9,71.3 87.1,68.1" fill="#4cffff"/><polygon points="89.8,75.8 94.6,75.6 96.7,71.3 91.9,71.3" fill="#00eaea"/><polygon points="94.6,75.6 99.4,73.0 101.5,69.0 96.7,71.3" fill="#00eaaf"/><polygon points="99.4,73.0 104.2,71.6 106.3,67.8 101.5,69.0" fill="#00ea75"/><polygon points="104.2,71.6 108.9,71.2 111.0,66.8 106.3,67.8" fill="#00ea3a"/><polygon points="108.9,71.2 113.7,71.5 115.8,66.4 111.0,66.8" fill="#00ea00"/><polygon points="113.7,71.5 118.4,72.0 120.5,67.0 115.8,66.4" fill="#00ea00"/><polygon points="118.4,72.0 123.1,73.1 125.2,68.2 120.5,67.0" fill="#58ff20"/><polygon points="123.1,73.1 127.8,74.9 129.9,70.0 125.2,68.2" fill="#5bff25"/><polygon points="127.8,74.9 132.5,77.5 134.6,72.3 129.9,70.0" fill="#2dff2d"/><polygon points="132.5,77.5 137.1,79.0 139.3,74.4 134.6,72.3" fill="#18ff18"/><polygon points="137.1,79.0 141.8,82.4 143.9,78.6 139.3,74.4" fill="#2cff61"/><polygon points="141.8,82.4 146.4,88.2 148.6,84.4 143.9,78.6" fill="#3aff9c"/><polygon points="146.4,88.2 151.1,93.5 153.2,89.4 148.6,84.4" fill="#2affff"/><polygon points="151.1,93.5 155.7,97.9 157.8,93.9 153.2,89.4" fill="#4bd2ff"/><polygon points="155.7,97.9 160.3,101.2 162.4,97.6 157.8,93.9" fill="#2b95ff"/><polygon points="160.3,101.2 164.9,103.1 167.0,99.7 162.4,97.6" fill="#003ffc"/><polygon points="164.9,103.1 169.4,100.9 171.6,98.0 167.0,99.7" fill="#0075ea"/><polygon points="169.4,100.9 174.0,94.5 176.1,91.8 171.6,98.0" fill="#00eaea"/><polygon points="174.0,94.5 178.5,89.0 180.6,85.2 176.1,91.8" fill="#00ea3a"/><polygon points="178.5,89.0 183.0,85.0 185.1,80.0 180.6,85.2" fill="#75ea00"/><polygon points="183.0,85.0 187.5,82.8 189.6,77.4 185.1,80.0" fill="#eaea00"/><polygon points="187.5,82.8 192.0,80.6 194.1,76.0 189.6,77.4" fill="#eaaf00"/><polygon points="192.0,80.6 196.4,80.0 198.5,75.8 194.1,76.0" fill="#ea3a00"/><polygon points="196.4,80.0 200.9,80.1 203.0,76.3 198.5,75.8" fill="#ea3a00"/><polygon points="200.9,80.1 205.3,80.6 207.4,76.9 203.0,76.3" fill="#ea3a00"/><polygon points="205.3,80.6 209.8,81.2 211.9,77.7 207.4,76.9" fill="#ea0000"/><polygon points="209.8,81.2 214.2,81.9 216.3,78.9 211.9,77.7" fill="#ea0000"/><polygon points="214.2,81.9 218.6,83.1 220.7,80.4 216.3,78.9" fill="#ea0000"/><polygon points="218.6,83.1 223.0,84.8 225.1,82.2 220.7,80.4" fill="#ec0000"/><polygon points="223.0,84.8 227.3,89.7 229.5,86.7 225.1,82.2" fill="#ff5a23"/><polygon points="227.3,89.7 231.7,96.2 233.9,92.1 229.5,86.7" fill="#ffc519"/><polygon points="231.7,96.2 236.1,102.3 238.2,97.2 233.9,92.1" fill="#ffff1f"/><polygon points="236.1,102.3 240.4,105.5 242.6,100.3 238.2,97.2" fill="#9aff36"/><polygon points="240.4,105.5 244.8,107.7 246.9,103.1 242.6,100.3" fill="#a5ff4c"/><polygon points="244.8,107.7 249.1,110.9 251.2,106.1 246.9,103.1" fill="#74ff46"/><polygon points="249.1,110.9 253.4,115.7 255.5,110.2 251.2,106.1" fill="#46ff46"/><polygon points="253.4,115.7 257.7,117.9 259.8,113.0 255.5,110.2" fill="#2bff60"/><polygon points="257.7,117.9 262.0,121.6 264.1,116.7 259.8,113.0" fill="#46ffa2"/><polygon points="262.0,121.6 266.2,125.1 268.4,120.4 264.1,116.7" fill="#39ffcd"/><polygon points="266.2,125.1 270.5,129.6 272.6,124.7 268.4,120.4" fill="#36ffff"/><polygon points="270.5,129.6 274.7,134.2 276.9,128.9 272.6,124.7" fill="#37cdff"/><polygon points="274.7,134.2 279.0,137.7 281.1,131.9 276.9,128.9" fill="#2b95ff"/><polygon points="279.0,137.7 283.2,142.2 285.3,136.0 281.1,131.9" fill="#4f7bff"/><polygon points="283.2,142.2 287.4,143.5 289.5,138.8 285.3,136.0" fill="#0505ff"/><polygon points="287.4,143.5 291.5,144.8 293.7,140.2 289.5,138.8" fill="#2323ff"/><polygon points="291.5,144.8 295.7,146.0 297.8,141.7 293.7,140.2" fill="#1212ff"/><polygon points="295.7,146.0 299.8,146.6 302.0,142.4 297.8,141.7" fill="#0000ed"/><polygon points="299.8,146.6 304.0,147.7 306.1,143.3 302.0,142.4" fill="#0000f8"/><polygon points="304.0,147.7 308.1,149.7 310.2,145.2 306.1,143.3" fill="#2a2aff"/><polygon points="308.1,149.7 312.2,149.8 314.3,146.5 310.2,145.2" fill="#0000ea"/><polygon points="312.2,149.8 316.3,149.5 318.4,146.2 314.3,146.5" fill="#0000ea"/><polygon points="316.3,149.5 320.4,150.7 322.5,146.8 318.4,146.2" fill="#0000f0"/><polygon points="320.4,150.7 324.5,152.5 326.6,148.1 322.5,146.8" fill="#2222ff"/><polygon points="324.5,152.5 328.6,154.2 330.7,150.0 326.6,148.1" fill="#1f1fff"/><polygon points="328.6,154.2 332.8,155.4 334.9,151.1 330.7,150.0" fill="#0202ff"/><polygon points="332.8,155.4 337.0,156.2 339.2,151.9 334.9,151.1" fill="#0000ef"/><polygon points="337.0,156.2 341.3,152.2 343.4,148.4 339.2,151.9" fill="#003aea"/><polygon points="341.3,152.2 345.6,150.1 347.8,146.9 343.4,148.4" fill="#00afea"/><polygon points="345.6,150.1 350.0,150.6 352.2,146.7 347.8,146.9" fill="#00eaea"/><polygon points="350.0,150.6 354.6,153.3 356.8,148.2 352.2,146.7" fill="#26ffff"/><polygon points="354.6,153.3 359.4,155.2 361.5,150.4 356.8,148.2" fill="#26ffff"/><polygon points="359.4,155.2 364.2,155.5 366.4,151.8 361.5,150.4" fill="#00eaea"/><polygon points="364.2,155.5 369.2,156.5 371.4,153.7 366.4,151.8" fill="#00eaea"/><polygon points="369.2,156.5 374.4,160.3 371.4,153.7" fill="#20ffff" stroke-width="0.3"/><polygon points="374.4,160.3 376.6,157.1 371.4,153.7" fill="#19c5ff" stroke-width="0.3"/><polygon points="369.2,156.5 374.4,160.3 376.6,157.1 371.4,153.7" fill="none"/><polygon points="374.4,160.3 379.8,161.7 376.6,157.1" fill="#00afea" stroke-width="0.3"/><polygon points="379.8,161.7 381.9,157.7 376.6,157.1" fill="#00afea" stroke-width="0.3"/><polygon points="374.4,160.3 379.8,161.7 381.9,157.7 376.6,157.1" fill="none"/><polygon points="379.8,161.7 385.2,160.6 387.3,157.3 381.9,157.7" fill="#00eaea"/><polygon points="385.2,160.6 390.6,161.7 392.7,158.3" fill="#00eaaf" stroke-width="0.3"/><polygon points="385.2,160.6 392.7,158.3 387.3,157.3" fill="#00eaea" stroke-width="0.3"/><polygon points="385.2,160.6 390.6,161.7 392.7,158.3 387.3,157.3" fill="none"/><polygon points="390.6,161.7 396.0,162.5 398.1,159.4" fill="#00eaaf" stroke-width="0.3"/><polygon points="390.6,161.7 398.1,159.4 392.7,158.3" fill="#00eaaf" stroke-width="0.3"/><polygon points="390.6,161.7 396.0,162.5 398.1,159.4 392.7,158.3" fill="none"/><polygon points="68.4,67.8 73.2,70.4 75.3,67.0 70.5,65.0" fill="#00ffbf"/><polygon points="73.2,70.4 78.0,74.7 80.1,70.3 75.3,67.0" fill="#25ffc8"/><polygon points="78.0,74.7 82.8,78.5 85.0,73.8 80.1,70.3" fill="#44ffff"/><polygon points="82.8,78.5 87.7,79.5 89.8,75.8 85.0,73.8" fill="#1ac5ff"/><polygon points="87.7,79.5 92.5,79.0 94.6,75.6 89.8,75.8" fill="#00eaea"/><polygon points="92.5,79.0 97.3,76.7 99.4,73.0 94.6,75.6" fill="#00eaaf"/><polygon points="97.3,76.7 102.0,75.4 104.2,71.6 99.4,73.0" fill="#00ea75"/><polygon points="102.0,75.4 106.8,75.6 108.9,71.2 104.2,71.6" fill="#00ea3a"/><polygon points="106.8,75.6 111.5,76.3 113.7,71.5 108.9,71.2" fill="#00ea00"/><polygon points="111.5,76.3 116.3,76.5 118.4,72.0 113.7,71.5" fill="#00ea00"/><polygon points="116.3,76.5 121.0,77.1 123.1,73.1 118.4,72.0" fill="#00f300"/><polygon points="121.0,77.1 125.7,79.3 127.8,74.9 123.1,73.1" fill="#14ff14"/><polygon points="125.7,79.3 130.4,82.2 132.5,77.5 127.8,74.9" fill="#2eff2e"/><polygon points="130.4,82.2 135.0,83.8 137.1,79.0 132.5,77.5" fill="#15ff15"/><polygon points="135.0,83.8 139.7,87.2 141.8,82.4 137.1,79.0" fill="#41ff70"/><polygon points="139.7,87.2 144.3,92.6 146.4,88.2 141.8,82.4" fill="#39ff9c"/><polygon points="144.3,92.6 149.0,97.7 151.1,93.5 146.4,88.2" fill="#32ffff"/><polygon points="149.0,97.7 153.6,101.7 155.7,97.9 151.1,93.5" fill="#34ccff"/><polygon points="153.6,101.7 158.2,104.5 160.3,101.2 155.7,97.9" fill="#3499ff"/><polygon points="158.2,104.5 162.8,105.9 164.9,103.1 160.3,101.2" fill="#003cf2"/><polygon points="162.8,105.9 167.3,103.5 169.4,100.9 164.9,103.1" fill="#0075ea"/><polygon points="167.3,103.5 171.8,97.3 174.0,94.5 169.4,100.9" fill="#00eaea"/><polygon points="171.8,97.3 176.4,92.3 178.5,89.0 174.0,94.5" fill="#00ea3a"/><polygon points="176.4,92.3 180.9,88.4 183.0,85.0 178.5,89.0" fill="#75ea00"/><polygon points="180.9,88.4 185.4,86.1 187.5,82.8 183.0,85.0" fill="#eaea00"/><polygon points="185.4,86.1 189.8,84.6 192.0,80.6 187.5,82.8" fill="#eaaf00"/><polygon points="189.8,84.6 194.3,84.6 196.4,80.0 192.0,80.6" fill="#ea7500"/><polygon points="194.3,84.6 198.8,84.9 200.9,80.1 196.4,80.0" fill="#ea3a00"/><polygon points="198.8,84.9 203.2,84.8 205.3,80.6 200.9,80.1" fill="#ea3a00"/><polygon points="203.2,84.8 207.6,84.6 209.8,81.2 205.3,80.6" fill="#ea0000"/><polygon points="207.6,84.6 212.1,85.2 214.2,81.9 209.8,81.2" fill="#ea0000"/><polygon points="212.1,85.2 216.5,86.1 218.6,83.1 214.2,81.9" fill="#fb0000"/><polygon points="216.5,86.1 220.8,88.3 223.0,84.8 218.6,83.1" fill="#ff1212"/><polygon points="220.8,88.3 225.2,93.3 227.3,89.7 223.0,84.8" fill="#ff6735"/><polygon points="225.2,93.3 229.6,99.4 231.7,96.2 227.3,89.7" fill="#ff9022"/><polygon points="229.6,99.4 234.0,105.5 236.1,102.3 231.7,96.2" fill="#ffff11"/><polygon points="234.0,105.5 238.3,109.3 240.4,105.5 236.1,102.3" fill="#91ff23"/><polygon points="238.3,109.3 242.7,112.0 244.8,107.7 240.4,105.5" fill="#6eff3e"/><polygon points="242.7,112.0 247.0,115.8 249.1,110.9 244.8,107.7" fill="#6dff3c"/><polygon points="247.0,115.8 251.3,120.8 253.4,115.7 249.1,110.9" fill="#31ff64"/><polygon points="251.3,120.8 255.6,123.3 257.7,117.9 253.4,115.7" fill="#43ffa1"/><polygon points="255.6,123.3 259.9,127.0 262.0,121.6 257.7,117.9" fill="#4affa4"/><polygon points="259.9,127.0 264.1,130.9 266.2,125.1 262.0,121.6" fill="#3effce"/><polygon points="264.1,130.9 268.4,135.2 270.5,129.6 266.2,125.1" fill="#21c7ff"/><polygon points="268.4,135.2 272.6,139.2 274.7,134.2 270.5,129.6" fill="#3b9dff"/><polygon points="272.6,139.2 276.8,141.8 279.0,137.7 274.7,134.2" fill="#4171ff"/><polygon points="276.8,141.8 281.1,146.5 283.2,142.2 279.0,137.7" fill="#3434ff"/><polygon points="281.1,146.5 285.2,147.8 287.4,143.5 283.2,142.2" fill="#1616ff"/><polygon points="285.2,147.8 289.4,149.1 291.5,144.8 287.4,143.5" fill="#0000fa"/><polygon points="289.4,149.1 293.6,150.4 295.7,146.0 291.5,144.8" fill="#1b1bff"/><polygon points="293.6,150.4 297.7,151.7 299.8,146.6 295.7,146.0" fill="#1c1cff"/><polygon points="297.7,151.7 301.9,152.7 304.0,147.7 299.8,146.6" fill="#0a0aff"/><polygon points="301.9,152.7 306.0,153.6 308.1,149.7 304.0,147.7" fill="#1a1aff"/><polygon points="306.0,153.6 310.1,152.9 312.2,149.8 308.1,149.7" fill="#0000ea"/><polygon points="310.1,152.9 314.2,153.4 316.3,149.5 312.2,149.8" fill="#0000ea"/><polygon points="314.2,153.4 318.2,155.0 320.4,150.7 316.3,149.5" fill="#0000fc"/><polygon points="318.2,155.0 322.3,156.4 324.5,152.5 320.4,150.7" fill="#0505ff"/><polygon points="322.3,156.4 326.5,158.1 328.6,154.2 324.5,152.5" fill="#0606ff"/><polygon points="326.5,158.1 330.7,159.5 332.8,155.4 328.6,154.2" fill="#1010ff"/><polygon points="330.7,159.5 334.9,160.8 337.0,156.2 332.8,155.4" fill="#0000f1"/><polygon points="334.9,160.8 339.2,156.8 337.0,156.2" fill="#003aea" stroke-width="0.3"/><polygon points="339.2,156.8 341.3,152.2 337.0,156.2" fill="#0075ea" stroke-width="0.3"/><polygon points="334.9,160.8 339.2,156.8 341.3,152.2 337.0,156.2" fill="none"/><polygon points="339.2,156.8 343.5,154.8 345.6,150.1 341.3,152.2" fill="#00afea"/><polygon points="343.5,154.8 347.9,155.0 345.6,150.1" fill="#00eaea" stroke-width="0.3"/><polygon points="347.9,155.0 350.0,150.6 345.6,150.1" fill="#00ecec" stroke-width="0.3"/><polygon points="343.5,154.8 347.9,155.0 350.0,150.6 345.6,150.1" fill="none"/><polygon points="347.9,155.0 352.5,157.3 354.6,153.3 350.0,150.6" fill="#2effff"/><polygon points="352.5,157.3 357.2,159.2 359.4,155.2 354.6,153.3" fill="#14ffff"/><polygon points="357.2,159.2 362.1,159.1 364.2,155.5 359.4,155.2" fill="#00eaea"/><polygon points="362.1,159.1 367.1,160.0 369.2,156.5 364.2,155.5" fill="#00eaea"/><polygon points="367.1,160.0 372.3,161.7 369.2,156.5" fill="#02ffff" stroke-width="0.3"/><polygon points="372.3,161.7 374.4,160.3 369.2,156.5" fill="#00eaea" stroke-width="0.3"/><polygon points="367.1,160.0 372.3,161.7 374.4,160.3 369.2,156.5" fill="none"/><polygon points="372.3,161.7 377.7,164.1 379.8,161.7 374.4,160.3" fill="#00eaea"/><polygon points="377.7,164.1 383.0,164.1 385.2,160.6" fill="#00eaea" stroke-width="0.3"/><polygon points="377.7,164.1 385.2,160.6 379.8,161.7" fill="#00eaea" stroke-width="0.3"/><polygon points="377.7,164.1 383.0,164.1 385.2,160.6 379.8,161.7" fill="none"/><polygon points="383.0,164.1 388.5,166.2 390.6,161.7 385.2,160.6" fill="#0dffc2"/><polygon points="388.5,166.2 393.9,167.9 396.0,162.5" fill="#26ffc8" stroke-width="0.3"/><polygon points="388.5,166.2 396.0,162.5 390.6,161.7" fill="#00f6b9" stroke-width="0.3"/><polygon points="388.5,166.2 393.9,167.9 396.0,162.5 390.6,161.7" fill="none"/><polygon points="66.3,71.1 71.1,73.7 73.2,70.4 68.4,67.8" fill="#0bff85"/><polygon points="71.1,73.7 75.9,77.2 78.0,74.7 73.2,70.4" fill="#29ffc9"/><polygon points="75.9,77.2 80.7,81.4 82.8,78.5 78.0,74.7" fill="#13ffff"/><polygon points="80.7,81.4 85.6,83.3 87.7,79.5 82.8,78.5" fill="#03c0ff"/><polygon points="85.6,83.3 90.4,82.8 92.5,79.0 87.7,79.5" fill="#00eaea"/><polygon points="90.4,82.8 95.1,81.0 97.3,76.7 92.5,79.0" fill="#00eaaf"/><polygon points="95.1,81.0 99.9,79.6 102.0,75.4 97.3,76.7" fill="#00ea75"/><polygon points="99.9,79.6 104.7,79.9 106.8,75.6 102.0,75.4" fill="#00ea3a"/><polygon points="104.7,79.9 109.4,80.6 111.5,76.3 106.8,75.6" fill="#00f43d"/><polygon points="109.4,80.6 114.2,80.9 116.3,76.5 111.5,76.3" fill="#00ea00"/><polygon points="114.2,80.9 118.9,81.6 121.0,77.1 116.3,76.5" fill="#00ea00"/><polygon points="118.9,81.6 123.6,83.5 125.7,79.3 121.0,77.1" fill="#2cff2c"/><polygon points="123.6,83.5 128.3,85.8 130.4,82.2 125.7,79.3" fill="#14ff14"/><polygon points="128.3,85.8 132.9,87.3 135.0,83.8 130.4,82.2" fill="#00fb3e"/><polygon points="132.9,87.3 137.6,90.8 139.7,87.2 135.0,83.8" fill="#46ff74"/><polygon points="137.6,90.8 142.2,96.8 144.3,92.6 139.7,87.2" fill="#31ff98"/><polygon points="142.2,96.8 146.9,102.5 149.0,97.7 144.3,92.6" fill="#3effff"/><polygon points="146.9,102.5 151.5,106.5 153.6,101.7 149.0,97.7" fill="#41a0ff"/><polygon points="151.5,106.5 156.1,109.1 158.2,104.5 153.6,101.7" fill="#1c8dff"/><polygon points="156.1,109.1 160.6,110.2 162.8,105.9 158.2,104.5" fill="#003df5"/><polygon points="160.6,110.2 165.2,106.9 167.3,103.5 162.8,105.9" fill="#0075ea"/><polygon points="165.2,106.9 169.7,100.6 171.8,97.3 167.3,103.5" fill="#00eaaf"/><polygon points="169.7,100.6 174.3,95.3 176.4,92.3 171.8,97.3" fill="#00ea00"/><polygon points="174.3,95.3 178.8,90.4 180.9,88.4 176.4,92.3" fill="#75ea00"/><polygon points="178.8,90.4 183.3,88.3 185.4,86.1 180.9,88.4" fill="#eaea00"/><polygon points="183.3,88.3 187.7,88.3 189.8,84.6 185.4,86.1" fill="#eaaf00"/><polygon points="187.7,88.3 192.2,89.5 194.3,84.6 189.8,84.6" fill="#ff7f00"/><polygon points="192.2,89.5 196.7,89.7 198.8,84.9 194.3,84.6" fill="#ea7500"/><polygon points="196.7,89.7 201.1,89.1 203.2,84.8 198.8,84.9" fill="#ea3a00"/><polygon points="201.1,89.1 205.5,89.3 207.6,84.6 203.2,84.8" fill="#ea0000"/><polygon points="205.5,89.3 210.0,90.0 212.1,85.2 207.6,84.6" fill="#fa0000"/><polygon points="210.0,90.0 214.4,90.4 216.5,86.1 212.1,85.2" fill="#f90000"/><polygon points="214.4,90.4 218.7,92.4 220.8,88.3 216.5,86.1" fill="#ff0e0e"/><polygon points="218.7,92.4 223.1,97.2 225.2,93.3 220.8,88.3" fill="#ff6836"/><polygon points="223.1,97.2 227.5,102.9 229.6,99.4 225.2,93.3" fill="#ff9328"/><polygon points="227.5,102.9 231.9,107.9 234.0,105.5 229.6,99.4" fill="#ffff2c"/><polygon points="231.9,107.9 236.2,111.7 238.3,109.3 234.0,105.5" fill="#84ff09"/><polygon points="236.2,111.7 240.6,116.5 242.7,112.0 238.3,109.3" fill="#52ff19"/><polygon points="240.6,116.5 244.9,123.0 247.0,115.8 242.7,112.0" fill="#27ff27"/><polygon points="244.9,123.0 249.2,126.7 251.3,120.8 247.0,115.8" fill="#49ff77"/><polygon points="249.2,126.7 253.5,128.9 255.6,123.3 251.3,120.8" fill="#39ff9c"/><polygon points="253.5,128.9 257.8,131.9 259.9,127.0 255.6,123.3" fill="#48ffd1"/><polygon points="257.8,131.9 262.0,135.3 264.1,130.9 259.9,127.0" fill="#4effff"/><polygon points="262.0,135.3 266.3,140.0 268.4,135.2 264.1,130.9" fill="#3acdff"/><polygon points="266.3,140.0 270.5,143.2 272.6,139.2 268.4,135.2" fill="#409fff"/><polygon points="270.5,143.2 274.7,145.2 276.8,141.8 272.6,139.2" fill="#1d55ff"/><polygon points="274.7,145.2 278.9,150.1 281.1,146.5 276.8,141.8" fill="#2727ff"/><polygon points="278.9,150.1 283.1,151.7 285.2,147.8 281.1,146.5" fill="#0101ff"/><polygon points="283.1,151.7 287.3,153.4 289.4,149.1 285.2,147.8" fill="#1313ff"/><polygon points="287.3,153.4 291.5,154.6 293.6,150.4 289.4,149.1" fill="#1010ff"/><polygon points="291.5,154.6 295.6,156.0 297.7,151.7 293.6,150.4" fill="#1818ff"/><polygon points="295.6,156.0 299.7,156.6 301.9,152.7 297.7,151.7" fill="#0000f9"/><polygon points="299.7,156.6 303.9,156.8 306.0,153.6 301.9,152.7" fill="#0000ea"/><polygon points="303.9,156.8 308.0,156.0 310.1,152.9 306.0,153.6" fill="#0000ea"/><polygon points="308.0,156.0 312.0,156.8 314.2,153.4 310.1,152.9" fill="#0000ea"/><polygon points="312.0,156.8 316.1,158.7 318.2,155.0 314.2,153.4" fill="#2121ff"/><polygon points="316.1,158.7 320.2,159.7 322.3,156.4 318.2,155.0" fill="#0000ec"/><polygon points="320.2,159.7 324.4,161.5 326.5,158.1 322.3,156.4" fill="#0000ef"/><polygon points="324.4,161.5 328.6,163.3 330.7,159.5 326.5,158.1" fill="#0000f8"/><polygon points="328.6,163.3 332.8,164.9 334.9,160.8 330.7,159.5" fill="#0303ff"/><polygon points="332.8,164.9 337.1,161.6 339.2,156.8 334.9,160.8" fill="#003aea"/><polygon points="337.1,161.6 341.4,159.7 343.5,154.8 339.2,156.8" fill="#00afea"/><polygon points="341.4,159.7 345.8,159.3 343.5,154.8" fill="#00eaea" stroke-width="0.3"/><polygon points="345.8,159.3 347.9,155.0 343.5,154.8" fill="#00eaea" stroke-width="0.3"/><polygon points="341.4,159.7 345.8,159.3 347.9,155.0 343.5,154.8" fill="none"/><polygon points="345.8,159.3 350.4,162.2 352.5,157.3 347.9,155.0" fill="#33ffff"/><polygon points="350.4,162.2 355.1,162.8 352.5,157.3" fill="#04c0ff" stroke-width="0.3"/><polygon points="355.1,162.8 357.2,159.2 352.5,157.3" fill="#06ffff" stroke-width="0.3"/><polygon points="350.4,162.2 355.1,162.8 357.2,159.2 352.5,157.3" fill="none"/><polygon points="355.1,162.8 360.0,163.4 362.1,159.1 357.2,159.2" fill="#00eaea"/><polygon points="360.0,163.4 365.0,163.8 362.1,159.1" fill="#00fefe" stroke-width="0.3"/><polygon points="365.0,163.8 367.1,160.0 362.1,159.1" fill="#00f7f7" stroke-width="0.3"/><polygon points="360.0,163.4 365.0,163.8 367.1,160.0 362.1,159.1" fill="none"/><polygon points="365.0,163.8 370.2,165.1 372.3,161.7 367.1,160.0" fill="#00ecec"/><polygon points="370.2,165.1 375.5,167.9 377.7,164.1" fill="#26ffff" stroke-width="0.3"/><polygon points="370.2,165.1 377.7,164.1 372.3,161.7" fill="#00fafa" stroke-width="0.3"/><polygon points="370.2,165.1 375.5,167.9 377.7,164.1 372.3,161.7" fill="none"/><polygon points="375.5,167.9 380.9,169.0 377.7,164.1" fill="#00eaea" stroke-width="0.3"/><polygon points="380.9,169.0 383.0,164.1 377.7,164.1" fill="#00eaea" stroke-width="0.3"/><polygon points="375.5,167.9 380.9,169.0 383.0,164.1 377.7,164.1" fill="none"/><polygon points="380.9,169.0 386.4,171.5 388.5,166.2 383.0,164.1" fill="#3fffff"/><polygon points="386.4,171.5 391.8,174.0 393.9,167.9 388.5,166.2" fill="#27ffff"/><polygon points="64.2,74.1 69.0,77.1 71.1,73.7 66.3,71.1" fill="#0dff86"/><polygon points="69.0,77.1 73.8,79.7 75.9,77.2 71.1,73.7" fill="#1affc5"/><polygon points="73.8,79.7 78.6,83.8 80.7,81.4 75.9,77.2" fill="#00fbfb"/><polygon points="78.6,83.8 83.5,86.6 85.6,83.3 80.7,81.4" fill="#15ffff"/><polygon points="83.5,86.6 88.3,86.2 90.4,82.8 85.6,83.3" fill="#00eaea"/><polygon points="88.3,86.2 93.1,84.6 95.1,81.0 90.4,82.8" fill="#00eaaf"/><polygon points="93.1,84.6 97.8,83.4 99.9,79.6 95.1,81.0" fill="#00ea75"/><polygon points="97.8,83.4 102.6,83.1 104.7,79.9 99.9,79.6" fill="#00ea3a"/><polygon points="102.6,83.1 107.3,82.8 109.4,80.6 104.7,79.9" fill="#00ea3a"/><polygon points="107.3,82.8 112.1,83.2 114.2,80.9 109.4,80.6" fill="#00ea00"/><polygon points="112.1,83.2 116.8,84.9 118.9,81.6 114.2,80.9" fill="#00ed00"/><polygon points="116.8,84.9 121.5,87.3 123.6,83.5 118.9,81.6" fill="#1fff1f"/><polygon points="121.5,87.3 126.2,89.1 128.3,85.8 123.6,83.5" fill="#06ff06"/><polygon points="126.2,89.1 130.8,90.3 132.9,87.3 128.3,85.8" fill="#00ea00"/><polygon points="130.8,90.3 135.5,93.8 137.6,90.8 132.9,87.3" fill="#23ff5a"/><polygon points="135.5,93.8 140.1,100.3 142.2,96.8 137.6,90.8" fill="#06ff82"/><polygon points="140.1,100.3 144.8,106.9 146.9,102.5 142.2,96.8" fill="#37ffff"/><polygon points="144.8,106.9 149.4,111.5 151.5,106.5 146.9,102.5" fill="#3b9dff"/><polygon points="149.4,111.5 154.0,114.2 156.1,109.1 151.5,106.5" fill="#2e62ff"/><polygon points="154.0,114.2 158.6,115.2 160.6,110.2 156.1,109.1" fill="#003ffd"/><polygon points="158.6,115.2 163.1,111.4 165.2,106.9 160.6,110.2" fill="#0075ea"/><polygon points="163.1,111.4 167.6,104.5 169.7,100.6 165.2,106.9" fill="#00eaaf"/><polygon points="167.6,104.5 172.2,98.4 174.3,95.3 169.7,100.6" fill="#00ea00"/><polygon points="172.2,98.4 176.7,92.6 178.8,90.4 174.3,95.3" fill="#afea00"/><polygon points="176.7,92.6 181.2,90.3 183.3,88.3 178.8,90.4" fill="#eaaf00"/><polygon points="181.2,90.3 185.6,90.4 187.7,88.3 183.3,88.3" fill="#ea7500"/><polygon points="185.6,90.4 190.1,92.1 192.2,89.5 187.7,88.3" fill="#ea7500"/><polygon points="190.1,92.1 194.6,92.6 196.7,89.7 192.2,89.5" fill="#ea7500"/><polygon points="194.6,92.6 199.0,92.8 201.1,89.1 196.7,89.7" fill="#ea3a00"/><polygon points="199.0,92.8 203.5,93.6 205.5,89.3 201.1,89.1" fill="#ef3b00"/><polygon points="203.5,93.6 207.9,94.5 210.0,90.0 205.5,89.3" fill="#fc0000"/><polygon points="207.9,94.5 212.3,95.4 214.4,90.4 210.0,90.0" fill="#ef0000"/><polygon points="212.3,95.4 216.7,97.0 218.7,92.4 214.4,90.4" fill="#ff2020"/><polygon points="216.7,97.0 221.0,101.8 223.1,97.2 218.7,92.4" fill="#ff6937"/><polygon points="221.0,101.8 225.4,107.7 227.5,102.9 223.1,97.2" fill="#ffce3c"/><polygon points="225.4,107.7 229.8,112.4 231.9,107.9 227.5,102.9" fill="#ffff3b"/><polygon points="229.8,112.4 234.1,116.1 236.2,111.7 231.9,107.9" fill="#d1ff4a"/><polygon points="234.1,116.1 238.5,121.6 240.6,116.5 236.2,111.7" fill="#59ff22"/><polygon points="238.5,121.6 242.8,129.6 244.9,123.0 240.6,116.5" fill="#1fff57"/><polygon points="242.8,129.6 247.1,132.0 249.2,126.7 244.9,123.0" fill="#46ffd0"/><polygon points="247.1,132.0 251.4,133.9 253.5,128.9 249.2,126.7" fill="#17ffc5"/><polygon points="251.4,133.9 255.7,136.0 257.8,131.9 253.5,128.9" fill="#2dffca"/><polygon points="255.7,136.0 259.9,138.4 262.0,135.3 257.8,131.9" fill="#2fffff"/><polygon points="259.9,138.4 264.2,143.3 266.3,140.0 262.0,135.3" fill="#20c7ff"/><polygon points="264.2,143.3 268.4,146.7 270.5,143.2 266.3,140.0" fill="#2491ff"/><polygon points="268.4,146.7 272.6,148.4 274.7,145.2 270.5,143.2" fill="#1550ff"/><polygon points="272.6,148.4 276.8,152.9 278.9,150.1 274.7,145.2" fill="#2424ff"/><polygon points="276.8,152.9 281.0,155.4 283.1,151.7 278.9,150.1" fill="#0909ff"/><polygon points="281.0,155.4 285.2,157.3 287.3,153.4 283.1,151.7" fill="#0909ff"/><polygon points="285.2,157.3 289.4,158.6 291.5,154.6 287.3,153.4" fill="#1a1aff"/><polygon points="289.4,158.6 293.5,159.7 295.6,156.0 291.5,154.6" fill="#2424ff"/><polygon points="293.5,159.7 297.6,160.0 299.7,156.6 295.6,156.0" fill="#0000ea"/><polygon points="297.6,160.0 301.8,160.6 303.9,156.8 299.7,156.6" fill="#0000ea"/><polygon points="301.8,160.6 305.9,160.8 308.0,156.0 303.9,156.8" fill="#0000ea"/><polygon points="305.9,160.8 309.9,161.1 312.0,156.8 308.0,156.0" fill="#0000ea"/><polygon points="309.9,161.1 314.0,162.3 316.1,158.7 312.0,156.8" fill="#1010ff"/><polygon points="314.0,162.3 318.1,163.2 320.2,159.7 316.1,158.7" fill="#0000ea"/><polygon points="318.1,163.2 322.3,165.0 324.4,161.5 320.2,159.7" fill="#0d0dff"/><polygon points="322.3,165.0 326.5,166.8 328.6,163.3 324.4,161.5" fill="#0d0dff"/><polygon points="326.5,166.8 330.7,168.3 332.8,164.9 328.6,163.3" fill="#0000fe"/><polygon points="330.7,168.3 335.0,165.3 337.1,161.6 332.8,164.9" fill="#003aea"/><polygon points="335.0,165.3 339.3,163.7 341.4,159.7" fill="#00afea" stroke-width="0.3"/><polygon points="335.0,165.3 341.4,159.7 337.1,161.6" fill="#0075ea" stroke-width="0.3"/><polygon points="335.0,165.3 339.3,163.7 341.4,159.7 337.1,161.6" fill="none"/><polygon points="339.3,163.7 343.7,163.7 345.8,159.3" fill="#00afea" stroke-width="0.3"/><polygon points="339.3,163.7 345.8,159.3 341.4,159.7" fill="#00afea" stroke-width="0.3"/><polygon points="339.3,163.7 343.7,163.7 345.8,159.3 341.4,159.7" fill="none"/><polygon points="343.7,163.7 348.3,166.7 350.4,162.2 345.8,159.3" fill="#19c5ff"/><polygon points="348.3,166.7 353.0,166.1 355.1,162.8 350.4,162.2" fill="#00afea"/><polygon points="353.0,166.1 357.9,167.0 360.0,163.4 355.1,162.8" fill="#00eded"/><polygon points="357.9,167.0 362.9,167.0 360.0,163.4" fill="#00eaea" stroke-width="0.3"/><polygon points="362.9,167.0 365.0,163.8 360.0,163.4" fill="#00eaea" stroke-width="0.3"/><polygon points="357.9,167.0 362.9,167.0 365.0,163.8 360.0,163.4" fill="none"/><polygon points="362.9,167.0 368.1,170.4 370.2,165.1" fill="#2dffff" stroke-width="0.3"/><polygon points="362.9,167.0 370.2,165.1 365.0,163.8" fill="#00f5f5" stroke-width="0.3"/><polygon points="362.9,167.0 368.1,170.4 370.2,165.1 365.0,163.8" fill="none"/><polygon points="368.1,170.4 373.5,173.2 375.5,167.9 370.2,165.1" fill="#33ffff"/><polygon points="373.5,173.2 378.9,174.0 380.9,169.0 375.5,167.9" fill="#00f9f9"/><polygon points="378.9,174.0 384.3,175.3 386.4,171.5 380.9,169.0" fill="#00fbfb"/><polygon points="384.3,175.3 389.7,178.7 386.4,171.5" fill="#24ffff" stroke-width="0.3"/><polygon points="389.7,178.7 391.8,174.0 386.4,171.5" fill="#35ccff" stroke-width="0.3"/><polygon points="384.3,175.3 389.7,178.7 391.8,174.0 386.4,171.5" fill="none"/><polygon points="62.1,77.4 66.9,80.0 69.0,77.1 64.2,74.1" fill="#22ff90"/><polygon points="66.9,80.0 71.7,82.5 73.8,79.7 69.0,77.1" fill="#00fa7d"/><polygon points="71.7,82.5 76.5,86.5 78.6,83.8 73.8,79.7" fill="#21ffc7"/><polygon points="76.5,86.5 81.4,89.4 83.5,86.6 78.6,83.8" fill="#16ffff"/><polygon points="81.4,89.4 86.2,89.4 88.3,86.2 83.5,86.6" fill="#00eaea"/><polygon points="86.2,89.4 91.0,87.9 93.1,84.6 88.3,86.2" fill="#00eaaf"/><polygon points="91.0,87.9 95.7,86.3 97.8,83.4 93.1,84.6" fill="#00ea75"/><polygon points="95.7,86.3 100.5,85.6 102.6,83.1 97.8,83.4" fill="#00ea3a"/><polygon points="100.5,85.6 105.2,85.0 107.3,82.8 102.6,83.1" fill="#00ea00"/><polygon points="105.2,85.0 110.0,85.4 112.1,83.2 107.3,82.8" fill="#00ea00"/><polygon points="110.0,85.4 114.7,87.4 116.8,84.9 112.1,83.2" fill="#3bef00"/><polygon points="114.7,87.4 119.4,90.2 121.5,87.3 116.8,84.9" fill="#18ff18"/><polygon points="119.4,90.2 124.1,92.4 126.2,89.1 121.5,87.3" fill="#00ea00"/><polygon points="124.1,92.4 128.7,94.3 130.8,90.3 126.2,89.1" fill="#18ff18"/><polygon points="128.7,94.3 133.4,98.1 135.5,93.8 130.8,90.3" fill="#3fff6f"/><polygon points="133.4,98.1 138.0,104.1 140.1,100.3 135.5,93.8" fill="#35ff9a"/><polygon points="138.0,104.1 142.7,110.6 144.8,106.9 140.1,100.3" fill="#24ffff"/><polygon points="142.7,110.6 147.3,115.5 149.4,111.5 144.8,106.9" fill="#1489ff"/><polygon points="147.3,115.5 151.9,117.9 154.0,114.2 149.4,111.5" fill="#154fff"/><polygon points="151.9,117.9 156.5,118.9 158.6,115.2 154.0,114.2" fill="#003ef8"/><polygon points="156.5,118.9 161.0,115.2 163.1,111.4 158.6,115.2" fill="#0075ea"/><polygon points="161.0,115.2 165.6,107.9 167.6,104.5 163.1,111.4" fill="#00eaaf"/><polygon points="165.6,107.9 170.1,101.4 172.2,98.4 167.6,104.5" fill="#00ea00"/><polygon points="170.1,101.4 174.6,95.9 176.7,92.6 172.2,98.4" fill="#afea00"/><polygon points="174.6,95.9 179.1,93.5 181.2,90.3 176.7,92.6" fill="#eaaf00"/><polygon points="179.1,93.5 183.6,92.8 185.6,90.4 181.2,90.3" fill="#ea3a00"/><polygon points="183.6,92.8 188.0,93.6 190.1,92.1 185.6,90.4" fill="#ea3a00"/><polygon points="188.0,93.6 192.5,94.1 194.6,92.6 190.1,92.1" fill="#ea3a00"/><polygon points="192.5,94.1 196.9,95.1 199.0,92.8 194.6,92.6" fill="#ea3a00"/><polygon points="196.9,95.1 201.4,96.4 203.5,93.6 199.0,92.8" fill="#ea0000"/><polygon points="201.4,96.4 205.8,98.0 207.9,94.5 203.5,93.6" fill="#fc0000"/><polygon points="205.8,98.0 210.2,99.7 212.3,95.4 207.9,94.5" fill="#fa0000"/><polygon points="210.2,99.7 214.6,101.2 216.7,97.0 212.3,95.4" fill="#ff1212"/><polygon points="214.6,101.2 219.0,105.9 221.0,101.8 216.7,97.0" fill="#ff6c3b"/><polygon points="219.0,105.9 223.4,112.7 225.4,107.7 221.0,101.8" fill="#ffc823"/><polygon points="223.4,112.7 227.7,117.2 229.8,112.4 225.4,107.7" fill="#d1ff47"/><polygon points="227.7,117.2 232.1,120.3 234.1,116.1 229.8,112.4" fill="#99ff34"/><polygon points="232.1,120.3 236.4,126.4 238.5,121.6 234.1,116.1" fill="#6dff3d"/><polygon points="236.4,126.4 240.7,133.3 242.8,129.6 238.5,121.6" fill="#3eff6e"/><polygon points="240.7,133.3 245.0,136.0 247.1,132.0 242.8,129.6" fill="#1fffc7"/><polygon points="245.0,136.0 249.3,138.2 251.4,133.9 247.1,132.0" fill="#21ffc7"/><polygon points="249.3,138.2 253.6,140.5 255.7,136.0 251.4,133.9" fill="#1fffff"/><polygon points="253.6,140.5 257.8,142.7 259.9,138.4 255.7,136.0" fill="#3dffff"/><polygon points="257.8,142.7 262.1,145.9 264.2,143.3 259.9,138.4" fill="#48d1ff"/><polygon points="262.1,145.9 266.3,149.0 268.4,146.7 264.2,143.3" fill="#1a8cff"/><polygon points="266.3,149.0 270.5,150.9 272.6,148.4 268.4,146.7" fill="#003aea"/><polygon points="270.5,150.9 274.7,154.2 276.8,152.9 272.6,148.4" fill="#2057ff"/><polygon points="274.7,154.2 278.9,158.2 281.0,155.4 276.8,152.9" fill="#0000f9"/><polygon points="278.9,158.2 283.1,160.2 285.2,157.3 281.0,155.4" fill="#1010ff"/><polygon points="283.1,160.2 287.3,162.2 289.4,158.6 285.2,157.3" fill="#0000f8"/><polygon points="287.3,162.2 291.4,163.2 293.5,159.7 289.4,158.6" fill="#0000f1"/><polygon points="291.4,163.2 295.5,163.7 297.6,160.0 293.5,159.7" fill="#0000ea"/><polygon points="295.5,163.7 299.7,164.6 301.8,160.6 297.6,160.0" fill="#0f0fff"/><polygon points="299.7,164.6 303.8,165.9 305.9,160.8 301.8,160.6" fill="#0000f9"/><polygon points="303.8,165.9 307.9,166.2 309.9,161.1 305.9,160.8" fill="#0000ea"/><polygon points="307.9,166.2 311.9,166.0 314.0,162.3 309.9,161.1" fill="#0000ea"/><polygon points="311.9,166.0 316.0,166.4 318.1,163.2" fill="#003aea" stroke-width="0.3"/><polygon points="311.9,166.0 318.1,163.2 314.0,162.3" fill="#0000ea" stroke-width="0.3"/><polygon points="311.9,166.0 316.0,166.4 318.1,163.2 314.0,162.3" fill="none"/><polygon points="316.0,166.4 320.2,167.9 322.3,165.0 318.1,163.2" fill="#0745ff"/><polygon points="320.2,167.9 324.4,169.5 326.5,166.8 322.3,165.0" fill="#0909ff"/><polygon points="324.4,169.5 328.6,170.7 330.7,168.3 326.5,166.8" fill="#0000f2"/><polygon points="328.6,170.7 332.9,169.0 335.0,165.3 330.7,168.3" fill="#003aea"/><polygon points="332.9,169.0 337.2,167.3 339.3,163.7" fill="#00afea" stroke-width="0.3"/><polygon points="332.9,169.0 339.3,163.7 335.0,165.3" fill="#0075ea" stroke-width="0.3"/><polygon points="332.9,169.0 337.2,167.3 339.3,163.7 335.0,165.3" fill="none"/><polygon points="337.2,167.3 341.6,166.4 343.7,163.7" fill="#00eaea" stroke-width="0.3"/><polygon points="337.2,167.3 343.7,163.7 339.3,163.7" fill="#00afea" stroke-width="0.3"/><polygon points="337.2,167.3 341.6,166.4 343.7,163.7 339.3,163.7" fill="none"/><polygon points="341.6,166.4 346.2,168.4 348.3,166.7 343.7,163.7" fill="#00f9f9"/><polygon points="346.2,168.4 350.9,168.7 353.0,166.1 348.3,166.7" fill="#00eaea"/><polygon points="350.9,168.7 355.8,170.2 357.9,167.0 353.0,166.1" fill="#00eaea"/><polygon points="355.8,170.2 360.8,171.5 362.9,167.0 357.9,167.0" fill="#00eaea"/><polygon points="360.8,171.5 366.0,173.3 368.1,170.4 362.9,167.0" fill="#13ffff"/><polygon points="366.0,173.3 371.4,175.2 373.5,173.2" fill="#00eaea" stroke-width="0.3"/><polygon points="366.0,173.3 373.5,173.2 368.1,170.4" fill="#26ffff" stroke-width="0.3"/><polygon points="366.0,173.3 371.4,175.2 373.5,173.2 368.1,170.4" fill="none"/><polygon points="371.4,175.2 376.8,177.1 378.9,174.0 373.5,173.2" fill="#00eaea"/><polygon points="376.8,177.1 382.2,180.3 384.3,175.3 378.9,174.0" fill="#0effff"/><polygon points="382.2,180.3 387.6,182.4 389.7,178.7" fill="#13c4ff" stroke-width="0.3"/><polygon points="382.2,180.3 389.7,178.7 384.3,175.3" fill="#3bceff" stroke-width="0.3"/><polygon points="382.2,180.3 387.6,182.4 389.7,178.7 384.3,175.3" fill="none"/><polygon points="60.0,80.5 64.8,83.0 66.9,80.0 62.1,77.4" fill="#0eff86"/><polygon points="64.8,83.0 69.7,85.3 71.7,82.5 66.9,80.0" fill="#00f57a"/><polygon points="69.7,85.3 74.5,88.9 76.5,86.5 71.7,82.5" fill="#10ffc3"/><polygon points="74.5,88.9 79.3,91.8 81.4,89.4 76.5,86.5" fill="#10ffff"/><polygon points="79.3,91.8 84.1,92.4 86.2,89.4 81.4,89.4" fill="#00eaea"/><polygon points="84.1,92.4 88.9,91.4 91.0,87.9 86.2,89.4" fill="#00eaaf"/><polygon points="88.9,91.4 93.7,89.7 95.7,86.3 91.0,87.9" fill="#00ea75"/><polygon points="93.7,89.7 98.4,88.7 100.5,85.6 95.7,86.3" fill="#00ea3a"/><polygon points="98.4,88.7 103.2,88.7 105.2,85.0 100.5,85.6" fill="#00ea00"/><polygon points="103.2,88.7 107.9,88.9 110.0,85.4 105.2,85.0" fill="#3aea00"/><polygon points="107.9,88.9 112.6,90.6 114.7,87.4 110.0,85.4" fill="#3ffd00"/><polygon points="112.6,90.6 117.3,93.2 119.4,90.2 114.7,87.4" fill="#46ff08"/><polygon points="117.3,93.2 122.0,95.9 124.1,92.4 119.4,90.2" fill="#1bff1b"/><polygon points="122.0,95.9 126.7,99.1 128.7,94.3 124.1,92.4" fill="#19ff19"/><polygon points="126.7,99.1 131.3,103.4 133.4,98.1 128.7,94.3" fill="#31ff64"/><polygon points="131.3,103.4 136.0,108.7 138.0,104.1 133.4,98.1" fill="#36ffcc"/><polygon points="136.0,108.7 140.6,114.8 142.7,110.6 138.0,104.1" fill="#3effff"/><polygon points="140.6,114.8 145.2,119.5 147.3,115.5 142.7,110.6" fill="#399cff"/><polygon points="145.2,119.5 149.8,121.8 151.9,117.9 147.3,115.5" fill="#1550ff"/><polygon points="149.8,121.8 154.4,122.5 156.5,118.9 151.9,117.9" fill="#003aea"/><polygon points="154.4,122.5 158.9,118.9 161.0,115.2 156.5,118.9" fill="#0075ea"/><polygon points="158.9,118.9 163.5,111.3 165.6,107.9 161.0,115.2" fill="#00eaaf"/><polygon points="163.5,111.3 168.0,104.6 170.1,101.4 165.6,107.9" fill="#00ea00"/><polygon points="168.0,104.6 172.5,99.2 174.6,95.9 170.1,101.4" fill="#afea00"/><polygon points="172.5,99.2 177.0,96.9 179.1,93.5 174.6,95.9" fill="#ea7500"/><polygon points="177.0,96.9 181.5,95.5 183.6,92.8 179.1,93.5" fill="#ea3a00"/><polygon points="181.5,95.5 186.0,95.6 188.0,93.6 183.6,92.8" fill="#ea0000"/><polygon points="186.0,95.6 190.4,96.2 192.5,94.1 188.0,93.6" fill="#ea0000"/><polygon points="190.4,96.2 194.9,97.8 196.9,95.1 192.5,94.1" fill="#ea0000"/><polygon points="194.9,97.8 199.3,99.3 201.4,96.4 196.9,95.1" fill="#ea0000"/><polygon points="199.3,99.3 203.7,101.4 205.8,98.0 201.4,96.4" fill="#ff0404"/><polygon points="203.7,101.4 208.1,103.4 210.2,99.7 205.8,98.0" fill="#ff1313"/><polygon points="208.1,103.4 212.5,104.8 214.6,101.2 210.2,99.7" fill="#ff0101"/><polygon points="212.5,104.8 216.9,108.9 219.0,105.9 214.6,101.2" fill="#ff6937"/><polygon points="216.9,108.9 221.3,115.8 223.4,112.7 219.0,105.9" fill="#ffc825"/><polygon points="221.3,115.8 225.6,120.1 227.7,117.2 223.4,112.7" fill="#caff2d"/><polygon points="225.6,120.1 230.0,122.5 232.1,120.3 227.7,117.2" fill="#7cf900"/><polygon points="230.0,122.5 234.3,126.9 236.4,126.4 232.1,120.3" fill="#52ff18"/><polygon points="234.3,126.9 238.6,134.7 240.7,133.3 236.4,126.4" fill="#04ff43"/><polygon points="238.6,134.7 242.9,137.8 245.0,136.0 240.7,133.3" fill="#00f0b4"/><polygon points="242.9,137.8 247.2,140.7 249.3,138.2 245.0,136.0" fill="#00eaaf"/><polygon points="247.2,140.7 251.5,143.5 253.6,140.5 249.3,138.2" fill="#11ffff"/><polygon points="251.5,143.5 255.8,145.5 257.8,142.7 253.6,140.5" fill="#0affff"/><polygon points="255.8,145.5 260.0,147.7 262.1,145.9 257.8,142.7" fill="#00b4f0"/><polygon points="260.0,147.7 264.2,150.7 266.3,149.0 262.1,145.9" fill="#00b3ef"/><polygon points="264.2,150.7 268.4,153.2 270.5,150.9 266.3,149.0" fill="#0075ea"/><polygon points="268.4,153.2 272.6,155.9 274.7,154.2 270.5,150.9" fill="#0079f2"/><polygon points="272.6,155.9 276.9,161.3 278.9,158.2 274.7,154.2" fill="#0606ff"/><polygon points="276.9,161.3 281.0,163.4 283.1,160.2 278.9,158.2" fill="#1515ff"/><polygon points="281.0,163.4 285.2,166.1 287.3,162.2 283.1,160.2" fill="#1b1bff"/><polygon points="285.2,166.1 289.3,167.2 291.4,163.2 287.3,162.2" fill="#0808ff"/><polygon points="289.3,167.2 293.5,168.1 295.5,163.7 291.4,163.2" fill="#0000f7"/><polygon points="293.5,168.1 297.6,169.2 299.7,164.6 295.5,163.7" fill="#1111ff"/><polygon points="297.6,169.2 301.7,170.3 303.8,165.9 299.7,164.6" fill="#0b0bff"/><polygon points="301.7,170.3 305.8,169.8 307.9,166.2 303.8,165.9" fill="#0000ea"/><polygon points="305.8,169.8 309.8,168.8 311.9,166.0 307.9,166.2" fill="#0000ea"/><polygon points="309.8,168.8 313.9,169.3 316.0,166.4 311.9,166.0" fill="#003aea"/><polygon points="313.9,169.3 318.1,170.6 320.2,167.9 316.0,166.4" fill="#003aea"/><polygon points="318.1,170.6 322.3,171.9 324.4,169.5" fill="#003aea" stroke-width="0.3"/><polygon points="318.1,170.6 324.4,169.5 320.2,167.9" fill="#003ef8" stroke-width="0.3"/><polygon points="318.1,170.6 322.3,171.9 324.4,169.5 320.2,167.9" fill="none"/><polygon points="322.3,171.9 326.5,172.8 328.6,170.7" fill="#003aea" stroke-width="0.3"/><polygon points="322.3,171.9 328.6,170.7 324.4,169.5" fill="#003aea" stroke-width="0.3"/><polygon points="322.3,171.9 326.5,172.8 328.6,170.7 324.4,169.5" fill="none"/><polygon points="326.5,172.8 330.8,171.3 332.9,169.0 328.6,170.7" fill="#0075ea"/><polygon points="330.8,171.3 335.1,170.7 337.2,167.3 332.9,169.0" fill="#00afea"/><polygon points="335.1,170.7 339.6,169.8 337.2,167.3" fill="#00afea" stroke-width="0.3"/><polygon points="339.6,169.8 341.6,166.4 337.2,167.3" fill="#00eaea" stroke-width="0.3"/><polygon points="335.1,170.7 339.6,169.8 341.6,166.4 337.2,167.3" fill="none"/><polygon points="339.6,169.8 344.1,170.5 341.6,166.4" fill="#00eaea" stroke-width="0.3"/><polygon points="344.1,170.5 346.2,168.4 341.6,166.4" fill="#00eaea" stroke-width="0.3"/><polygon points="339.6,169.8 344.1,170.5 346.2,168.4 341.6,166.4" fill="none"/><polygon points="344.1,170.5 348.9,173.1 346.2,168.4" fill="#00eaea" stroke-width="0.3"/><polygon points="348.9,173.1 350.9,168.7 346.2,168.4" fill="#00eaea" stroke-width="0.3"/><polygon points="344.1,170.5 348.9,173.1 350.9,168.7 346.2,168.4" fill="none"/><polygon points="348.9,173.1 353.7,174.0 355.8,170.2 350.9,168.7" fill="#00f1f1"/><polygon points="353.7,174.0 358.8,173.4 360.8,171.5 355.8,170.2" fill="#00eaea"/><polygon points="358.8,173.4 363.9,174.8 366.0,173.3 360.8,171.5" fill="#00eaaf"/><polygon points="363.9,174.8 369.3,177.1 371.4,175.2 366.0,173.3" fill="#00eaaf"/><polygon points="369.3,177.1 374.7,179.7 376.8,177.1 371.4,175.2" fill="#00eded"/><polygon points="374.7,179.7 380.1,181.7 382.2,180.3" fill="#00eaea" stroke-width="0.3"/><polygon points="374.7,179.7 382.2,180.3 376.8,177.1" fill="#00fdfd" stroke-width="0.3"/><polygon points="374.7,179.7 380.1,181.7 382.2,180.3 376.8,177.1" fill="none"/><polygon points="380.1,181.7 385.5,184.1 382.2,180.3" fill="#00eaea" stroke-width="0.3"/><polygon points="385.5,184.1 387.6,182.4 382.2,180.3" fill="#00afea" stroke-width="0.3"/><polygon points="380.1,181.7 385.5,184.1 387.6,182.4 382.2,180.3" fill="none"/><polygon points="57.9,84.7 62.8,86.8 64.8,83.0 60.0,80.5" fill="#07ff83"/><polygon points="62.8,86.8 67.6,88.8 69.7,85.3 64.8,83.0" fill="#14ff89"/><polygon points="67.6,88.8 72.4,92.3 74.5,88.9 69.7,85.3" fill="#38ffcd"/><polygon points="72.4,92.3 77.2,94.7 79.3,91.8 74.5,88.9" fill="#2bffca"/><polygon points="77.2,94.7 82.0,95.3 84.1,92.4 79.3,91.8" fill="#00eaaf"/><polygon points="82.0,95.3 86.8,94.8 88.9,91.4 84.1,92.4" fill="#00eaaf"/><polygon points="86.8,94.8 91.6,93.2 93.7,89.7 88.9,91.4" fill="#00ea75"/><polygon points="91.6,93.2 96.4,92.0 98.4,88.7 93.7,89.7" fill="#00ea00"/><polygon points="96.4,92.0 101.1,92.7 103.2,88.7 98.4,88.7" fill="#00ee00"/><polygon points="101.1,92.7 105.8,93.5 107.9,88.9 103.2,88.7" fill="#40ff00"/><polygon points="105.8,93.5 110.5,95.1 112.6,90.6 107.9,88.9" fill="#5aff23"/><polygon points="110.5,95.1 115.2,97.1 117.3,93.2 112.6,90.6" fill="#57ff1f"/><polygon points="115.2,97.1 119.9,100.0 122.0,95.9 117.3,93.2" fill="#36ff36"/><polygon points="119.9,100.0 124.6,103.4 126.7,99.1 122.0,95.9" fill="#43ff72"/><polygon points="124.6,103.4 129.3,107.9 131.3,103.4 126.7,99.1" fill="#43ffa1"/><polygon points="129.3,107.9 133.9,113.5 136.0,108.7 131.3,103.4" fill="#38ffcd"/><polygon points="133.9,113.5 138.5,119.3 140.6,114.8 136.0,108.7" fill="#42cfff"/><polygon points="138.5,119.3 143.1,123.2 145.2,119.5 140.6,114.8" fill="#44a1ff"/><polygon points="143.1,123.2 147.7,125.9 149.8,121.8 145.2,119.5" fill="#2b60ff"/><polygon points="147.7,125.9 152.3,126.2 154.4,122.5 149.8,121.8" fill="#003aea"/><polygon points="152.3,126.2 156.9,122.8 158.9,118.9 154.4,122.5" fill="#0075ea"/><polygon points="156.9,122.8 161.4,115.2 163.5,111.3 158.9,118.9" fill="#00eaaf"/><polygon points="161.4,115.2 165.9,108.8 168.0,104.6 163.5,111.3" fill="#00ea00"/><polygon points="165.9,108.8 170.4,103.3 172.5,99.2 168.0,104.6" fill="#afea00"/><polygon points="170.4,103.3 174.9,100.3 177.0,96.9 172.5,99.2" fill="#ea7500"/><polygon points="174.9,100.3 179.4,98.7 181.5,95.5 177.0,96.9" fill="#ea3a00"/><polygon points="179.4,98.7 183.9,99.1 186.0,95.6 181.5,95.5" fill="#ea0000"/><polygon points="183.9,99.1 188.4,100.2 190.4,96.2 186.0,95.6" fill="#f60000"/><polygon points="188.4,100.2 192.8,101.9 194.9,97.8 190.4,96.2" fill="#ff2020"/><polygon points="192.8,101.9 197.2,103.5 199.3,99.3 194.9,97.8" fill="#ff0202"/><polygon points="197.2,103.5 201.7,105.5 203.7,101.4 199.3,99.3" fill="#ff2323"/><polygon points="201.7,105.5 206.1,106.5 208.1,103.4 203.7,101.4" fill="#f40000"/><polygon points="206.1,106.5 210.5,107.7 212.5,104.8 208.1,103.4" fill="#ea0000"/><polygon points="210.5,107.7 214.8,112.1 216.9,108.9 212.5,104.8" fill="#ff3f00"/><polygon points="214.8,112.1 219.2,119.0 221.3,115.8 216.9,108.9" fill="#ffc824"/><polygon points="219.2,119.0 223.6,123.0 225.6,120.1 221.3,115.8" fill="#ffff25"/><polygon points="223.6,123.0 227.9,125.0 230.0,122.5 225.6,120.1" fill="#bdfc00"/><polygon points="227.9,125.0 232.2,129.0 234.3,126.9 230.0,122.5" fill="#93ff27"/><polygon points="232.2,129.0 236.6,136.7 238.6,134.7 234.3,126.9" fill="#02ff02"/><polygon points="236.6,136.7 240.9,139.8 242.9,137.8 238.6,134.7" fill="#00fb7d"/><polygon points="240.9,139.8 245.2,142.9 247.2,140.7 242.9,137.8" fill="#0dff86"/><polygon points="245.2,142.9 249.4,145.3 251.5,143.5 247.2,140.7" fill="#00f8ba"/><polygon points="249.4,145.3 253.7,147.5 255.8,145.5 251.5,143.5" fill="#00f1f1"/><polygon points="253.7,147.5 257.9,149.8 260.0,147.7 255.8,145.5" fill="#00f2f2"/><polygon points="257.9,149.8 262.2,152.5 264.2,150.7 260.0,147.7" fill="#00b3ef"/><polygon points="262.2,152.5 266.4,155.6 268.4,153.2 264.2,150.7" fill="#00b1ec"/><polygon points="266.4,155.6 270.6,159.1 272.6,155.9 268.4,153.2" fill="#0582ff"/><polygon points="270.6,159.1 274.8,163.1 276.9,161.3 272.6,155.9" fill="#1952ff"/><polygon points="274.8,163.1 279.0,167.8 281.0,163.4 276.9,161.3" fill="#0000fc"/><polygon points="279.0,167.8 283.1,170.2 285.2,166.1 281.0,163.4" fill="#3a3aff"/><polygon points="283.1,170.2 287.3,171.1 289.3,167.2 285.2,166.1" fill="#0000fd"/><polygon points="287.3,171.1 291.4,171.8 293.5,168.1 289.3,167.2" fill="#0000f2"/><polygon points="291.4,171.8 295.5,173.0 297.6,169.2 293.5,168.1" fill="#0000ff"/><polygon points="295.5,173.0 299.6,174.1 301.7,170.3 297.6,169.2" fill="#0000ff"/><polygon points="299.6,174.1 303.7,172.7 305.8,169.8 301.7,170.3" fill="#0000ea"/><polygon points="303.7,172.7 307.8,171.5 309.8,168.8 305.8,169.8" fill="#003aea"/><polygon points="307.8,171.5 311.9,171.9 313.9,169.3 309.8,168.8" fill="#003aea"/><polygon points="311.9,171.9 316.0,172.8 318.1,170.6 313.9,169.3" fill="#003aea"/><polygon points="316.0,172.8 320.2,173.9 322.3,171.9 318.1,170.6" fill="#003aea"/><polygon points="320.2,173.9 324.4,174.4 326.5,172.8" fill="#0075ea" stroke-width="0.3"/><polygon points="320.2,173.9 326.5,172.8 322.3,171.9" fill="#003aea" stroke-width="0.3"/><polygon points="320.2,173.9 324.4,174.4 326.5,172.8 322.3,171.9" fill="none"/><polygon points="324.4,174.4 328.7,173.8 326.5,172.8" fill="#0075ea" stroke-width="0.3"/><polygon points="328.7,173.8 330.8,171.3 326.5,172.8" fill="#0075ea" stroke-width="0.3"/><polygon points="324.4,174.4 328.7,173.8 330.8,171.3 326.5,172.8" fill="none"/><polygon points="328.7,173.8 333.1,174.1 335.1,170.7" fill="#00afea" stroke-width="0.3"/><polygon points="328.7,173.8 335.1,170.7 330.8,171.3" fill="#00afea" stroke-width="0.3"/><polygon points="328.7,173.8 333.1,174.1 335.1,170.7 330.8,171.3" fill="none"/><polygon points="333.1,174.1 337.5,174.5 339.6,169.8 335.1,170.7" fill="#00eaea"/><polygon points="337.5,174.5 342.1,173.8 344.1,170.5 339.6,169.8" fill="#00eaea"/><polygon points="342.1,173.8 346.8,175.1 348.9,173.1" fill="#00eaea" stroke-width="0.3"/><polygon points="342.1,173.8 348.9,173.1 344.1,170.5" fill="#1affff" stroke-width="0.3"/><polygon points="342.1,173.8 346.8,175.1 348.9,173.1 344.1,170.5" fill="none"/><polygon points="346.8,175.1 351.7,175.2 348.9,173.1" fill="#00eaaf" stroke-width="0.3"/><polygon points="351.7,175.2 353.7,174.0 348.9,173.1" fill="#00eaea" stroke-width="0.3"/><polygon points="346.8,175.1 351.7,175.2 353.7,174.0 348.9,173.1" fill="none"/><polygon points="351.7,175.2 356.7,176.1 358.8,173.4" fill="#00eaaf" stroke-width="0.3"/><polygon points="351.7,175.2 358.8,173.4 353.7,174.0" fill="#00eaaf" stroke-width="0.3"/><polygon points="351.7,175.2 356.7,176.1 358.8,173.4 353.7,174.0" fill="none"/><polygon points="356.7,176.1 361.9,176.5 363.9,174.8 358.8,173.4" fill="#00eaaf"/><polygon points="361.9,176.5 367.2,180.4 369.3,177.1 363.9,174.8" fill="#00ffbf"/><polygon points="367.2,180.4 372.6,184.0 374.7,179.7 369.3,177.1" fill="#31ffcb"/><polygon points="372.6,184.0 378.0,186.4 380.1,181.7" fill="#1cffff" stroke-width="0.3"/><polygon points="372.6,184.0 380.1,181.7 374.7,179.7" fill="#14ffff" stroke-width="0.3"/><polygon points="372.6,184.0 378.0,186.4 380.1,181.7 374.7,179.7" fill="none"/><polygon points="378.0,186.4 383.4,189.2 385.5,184.1 380.1,181.7" fill="#36ffff"/><polygon points="55.9,89.5 60.7,90.8 62.8,86.8 57.9,84.7" fill="#10ff87"/><polygon points="60.7,90.8 65.5,92.5 67.6,88.8 62.8,86.8" fill="#0eff86"/><polygon points="65.5,92.5 70.4,95.7 72.4,92.3 67.6,88.8" fill="#3fff9f"/><polygon points="70.4,95.7 75.2,97.8 77.2,94.7 72.4,92.3" fill="#07ffc1"/><polygon points="75.2,97.8 80.0,97.9 82.0,95.3 77.2,94.7" fill="#00eaaf"/><polygon points="80.0,97.9 84.8,97.4 86.8,94.8 82.0,95.3" fill="#00ea75"/><polygon points="84.8,97.4 89.5,96.6 91.6,93.2 86.8,94.8" fill="#00ea3a"/><polygon points="89.5,96.6 94.3,95.7 96.4,92.0 91.6,93.2" fill="#00ea00"/><polygon points="94.3,95.7 99.1,96.3 101.1,92.7 96.4,92.0" fill="#00ea00"/><polygon points="99.1,96.3 103.8,98.0 105.8,93.5 101.1,92.7" fill="#55ff1d"/><polygon points="103.8,98.0 108.5,99.7 110.5,95.1 105.8,93.5" fill="#54ff1b"/><polygon points="108.5,99.7 113.2,102.0 115.2,97.1 110.5,95.1" fill="#2bff2b"/><polygon points="113.2,102.0 117.9,104.9 119.9,100.0 115.2,97.1" fill="#29ff29"/><polygon points="117.9,104.9 122.6,107.5 124.6,103.4 119.9,100.0" fill="#37ff69"/><polygon points="122.6,107.5 127.2,111.4 129.3,107.9 124.6,103.4" fill="#3cff9d"/><polygon points="127.2,111.4 131.9,116.9 133.9,113.5 129.3,107.9" fill="#34ffcc"/><polygon points="131.9,116.9 136.5,122.7 138.5,119.3 133.9,113.5" fill="#1bc6ff"/><polygon points="136.5,122.7 141.1,126.2 143.1,123.2 138.5,119.3" fill="#2692ff"/><polygon points="141.1,126.2 145.7,128.8 147.7,125.9 143.1,123.2" fill="#0846ff"/><polygon points="145.7,128.8 150.3,129.2 152.3,126.2 147.7,125.9" fill="#003aea"/><polygon points="150.3,129.2 154.8,125.9 156.9,122.8 152.3,126.2" fill="#0075ea"/><polygon points="154.8,125.9 159.4,119.4 161.4,115.2 156.9,122.8" fill="#00eaaf"/><polygon points="159.4,119.4 163.9,113.4 165.9,108.8 161.4,115.2" fill="#00ea00"/><polygon points="163.9,113.4 168.4,107.8 170.4,103.3 165.9,108.8" fill="#afea00"/><polygon points="168.4,107.8 172.9,104.5 174.9,100.3 170.4,103.3" fill="#eaaf00"/><polygon points="172.9,104.5 177.4,103.0 179.4,98.7 174.9,100.3" fill="#ea3a00"/><polygon points="177.4,103.0 181.9,103.4 183.9,99.1 179.4,98.7" fill="#f90000"/><polygon points="181.9,103.4 186.3,104.2 188.4,100.2 183.9,99.1" fill="#ea0000"/><polygon points="186.3,104.2 190.8,106.1 192.8,101.9 188.4,100.2" fill="#f70000"/><polygon points="190.8,106.1 195.2,108.0 197.2,103.5 192.8,101.9" fill="#ff1919"/><polygon points="195.2,108.0 199.6,109.4 201.7,105.5 197.2,103.5" fill="#ff1b1b"/><polygon points="199.6,109.4 204.0,110.2 206.1,106.5 201.7,105.5" fill="#ea0000"/><polygon points="204.0,110.2 208.4,111.3 210.5,107.7 206.1,106.5" fill="#ff0b0b"/><polygon points="208.4,111.3 212.8,115.3 214.8,112.1 210.5,107.7" fill="#ff6431"/><polygon points="212.8,115.3 217.2,121.5 219.2,119.0 214.8,112.1" fill="#ff8f20"/><polygon points="217.2,121.5 221.5,125.9 223.6,123.0 219.2,119.0" fill="#ffff16"/><polygon points="221.5,125.9 225.9,128.3 227.9,125.0 223.6,123.0" fill="#c3ff10"/><polygon points="225.9,128.3 230.2,132.0 232.2,129.0 227.9,125.0" fill="#96ff2d"/><polygon points="230.2,132.0 234.5,139.5 236.6,136.7 232.2,129.0" fill="#4cff10"/><polygon points="234.5,139.5 238.8,142.8 240.9,139.8 236.6,136.7" fill="#1bff54"/><polygon points="238.8,142.8 243.1,145.8 245.2,142.9 240.9,139.8" fill="#11ff88"/><polygon points="243.1,145.8 247.4,147.9 249.4,145.3 245.2,142.9" fill="#00f2b5"/><polygon points="247.4,147.9 251.6,150.6 253.7,147.5 249.4,145.3" fill="#02ffbf"/><polygon points="251.6,150.6 255.9,153.0 257.9,149.8 253.7,147.5" fill="#1bffc6"/><polygon points="255.9,153.0 260.1,155.0 262.2,152.5 257.9,149.8" fill="#00eaea"/><polygon points="260.1,155.0 264.3,158.2 266.4,155.6 262.2,152.5" fill="#1fc7ff"/><polygon points="264.3,158.2 268.5,162.0 270.6,159.1 266.4,155.6" fill="#18c5ff"/><polygon points="268.5,162.0 272.7,165.3 274.8,163.1 270.6,159.1" fill="#144fff"/><polygon points="272.7,165.3 276.9,172.0 279.0,167.8 274.8,163.1" fill="#2222ff"/><polygon points="276.9,172.0 281.1,173.9 283.1,170.2 279.0,167.8" fill="#1d1dff"/><polygon points="281.1,173.9 285.2,174.6 287.3,171.1 283.1,170.2" fill="#0000ea"/><polygon points="285.2,174.6 289.3,175.1 291.4,171.8 287.3,171.1" fill="#0000f0"/><polygon points="289.3,175.1 293.5,176.4 295.5,173.0 291.4,171.8" fill="#0000f0"/><polygon points="293.5,176.4 297.6,177.4 299.6,174.1 295.5,173.0" fill="#0000f7"/><polygon points="297.6,177.4 301.6,175.5 303.7,172.7 299.6,174.1" fill="#0000ea"/><polygon points="301.6,175.5 305.7,174.7 307.8,171.5 303.7,172.7" fill="#003aea"/><polygon points="305.7,174.7 309.8,175.1 311.9,171.9 307.8,171.5" fill="#0075ea"/><polygon points="309.8,175.1 314.0,175.6 316.0,172.8 311.9,171.9" fill="#0075ea"/><polygon points="314.0,175.6 318.2,177.0 316.0,172.8" fill="#0075ea" stroke-width="0.3"/><polygon points="318.2,177.0 320.2,173.9 316.0,172.8" fill="#0180ff" stroke-width="0.3"/><polygon points="314.0,175.6 318.2,177.0 320.2,173.9 316.0,172.8" fill="none"/><polygon points="318.2,177.0 322.4,177.6 324.4,174.4 320.2,173.9" fill="#0075ea"/><polygon points="322.4,177.6 326.7,177.8 328.7,173.8" fill="#00afea" stroke-width="0.3"/><polygon points="322.4,177.6 328.7,173.8 324.4,174.4" fill="#0075ea" stroke-width="0.3"/><polygon points="322.4,177.6 326.7,177.8 328.7,173.8 324.4,174.4" fill="none"/><polygon points="326.7,177.8 331.0,179.0 333.1,174.1" fill="#16c4ff" stroke-width="0.3"/><polygon points="326.7,177.8 333.1,174.1 328.7,173.8" fill="#00afea" stroke-width="0.3"/><polygon points="326.7,177.8 331.0,179.0 333.1,174.1 328.7,173.8" fill="none"/><polygon points="331.0,179.0 335.5,179.8 337.5,174.5 333.1,174.1" fill="#00baf8"/><polygon points="335.5,179.8 340.0,179.0 342.1,173.8 337.5,174.5" fill="#00eaea"/><polygon points="340.0,179.0 344.7,178.3 346.8,175.1" fill="#00eaaf" stroke-width="0.3"/><polygon points="340.0,179.0 346.8,175.1 342.1,173.8" fill="#20ffff" stroke-width="0.3"/><polygon points="340.0,179.0 344.7,178.3 346.8,175.1 342.1,173.8" fill="none"/><polygon points="344.7,178.3 349.6,176.9 351.7,175.2" fill="#00eaaf" stroke-width="0.3"/><polygon points="344.7,178.3 351.7,175.2 346.8,175.1" fill="#00eaaf" stroke-width="0.3"/><polygon points="344.7,178.3 349.6,176.9 351.7,175.2 346.8,175.1" fill="none"/><polygon points="349.6,176.9 354.6,177.0 356.7,176.1 351.7,175.2" fill="#00ea75"/><polygon points="354.6,177.0 359.8,179.1 361.9,176.5 356.7,176.1" fill="#00ea75"/><polygon points="359.8,179.1 365.2,182.6 361.9,176.5" fill="#00ff7f" stroke-width="0.3"/><polygon points="365.2,182.6 367.2,180.4 361.9,176.5" fill="#00f97c" stroke-width="0.3"/><polygon points="359.8,179.1 365.2,182.6 367.2,180.4 361.9,176.5" fill="none"/><polygon points="365.2,182.6 370.6,186.5 367.2,180.4" fill="#04ffc0" stroke-width="0.3"/><polygon points="370.6,186.5 372.6,184.0 367.2,180.4" fill="#0fffc3" stroke-width="0.3"/><polygon points="365.2,182.6 370.6,186.5 372.6,184.0 367.2,180.4" fill="none"/><polygon points="370.6,186.5 376.0,190.0 378.0,186.4" fill="#3bffff" stroke-width="0.3"/><polygon points="370.6,186.5 378.0,186.4 372.6,184.0" fill="#00eaea" stroke-width="0.3"/><polygon points="370.6,186.5 376.0,190.0 378.0,186.4 372.6,184.0" fill="none"/><polygon points="376.0,190.0 381.4,191.2 383.4,189.2 378.0,186.4" fill="#00eaea"/><polygon points="53.9,93.7 58.7,95.3 60.7,90.8 55.9,89.5" fill="#00ff7f"/><polygon points="58.7,95.3 63.5,96.7 65.5,92.5 60.7,90.8" fill="#04ff81"/><polygon points="63.5,96.7 68.3,98.9 70.4,95.7 65.5,92.5" fill="#1dff8e"/><polygon points="68.3,98.9 73.1,100.2 75.2,97.8 70.4,95.7" fill="#00edb2"/><polygon points="73.1,100.2 77.9,100.0 80.0,97.9 75.2,97.8" fill="#00ea75"/><polygon points="77.9,100.0 82.7,100.2 84.8,97.4 80.0,97.9" fill="#00ea75"/><polygon points="82.7,100.2 87.5,100.3 89.5,96.6 84.8,97.4" fill="#00ea3a"/><polygon points="87.5,100.3 92.3,100.6 94.3,95.7 89.5,96.6" fill="#00ea00"/><polygon points="92.3,100.6 97.0,100.9 99.1,96.3 94.3,95.7" fill="#00ea00"/><polygon points="97.0,100.9 101.7,102.1 103.8,98.0 99.1,96.3" fill="#05ff05"/><polygon points="101.7,102.1 106.5,103.9 108.5,99.7 103.8,98.0" fill="#05ff05"/><polygon points="106.5,103.9 111.2,106.4 113.2,102.0 108.5,99.7" fill="#1eff1e"/><polygon points="111.2,106.4 115.8,109.1 117.9,104.9 113.2,102.0" fill="#28ff5d"/><polygon points="115.8,109.1 120.5,110.9 122.6,107.5 117.9,104.9" fill="#0eff4a"/><polygon points="120.5,110.9 125.2,114.4 127.2,111.4 122.6,107.5" fill="#40ff9f"/><polygon points="125.2,114.4 129.8,119.3 131.9,116.9 127.2,111.4" fill="#1cffc6"/><polygon points="129.8,119.3 134.4,124.7 136.5,122.7 131.9,116.9" fill="#2ccaff"/><polygon points="134.4,124.7 139.0,128.4 141.1,126.2 136.5,122.7" fill="#0783ff"/><polygon points="139.0,128.4 143.6,131.2 145.7,128.8 141.1,126.2" fill="#003aea"/><polygon points="143.6,131.2 148.2,131.9 150.3,129.2 145.7,128.8" fill="#003aea"/><polygon points="148.2,131.9 152.8,128.3 154.8,125.9 150.3,129.2" fill="#0075ea"/><polygon points="152.8,128.3 157.3,122.2 159.4,119.4 154.8,125.9" fill="#00eaaf"/><polygon points="157.3,122.2 161.9,117.6 163.9,113.4 159.4,119.4" fill="#00ea00"/><polygon points="161.9,117.6 166.4,112.7 168.4,107.8 163.9,113.4" fill="#afea00"/><polygon points="166.4,112.7 170.9,109.1 172.9,104.5 168.4,107.8" fill="#eaaf00"/><polygon points="170.9,109.1 175.4,107.3 177.4,103.0 172.9,104.5" fill="#ea3a00"/><polygon points="175.4,107.3 179.8,107.0 181.9,103.4 177.4,103.0" fill="#ea0000"/><polygon points="179.8,107.0 184.3,107.4 186.3,104.2 181.9,103.4" fill="#f20000"/><polygon points="184.3,107.4 188.7,109.4 190.8,106.1 186.3,104.2" fill="#ff0909"/><polygon points="188.7,109.4 193.2,111.5 195.2,108.0 190.8,106.1" fill="#ff1d1d"/><polygon points="193.2,111.5 197.6,112.7 199.6,109.4 195.2,108.0" fill="#f40000"/><polygon points="197.6,112.7 202.0,114.0 204.0,110.2 199.6,109.4" fill="#f10000"/><polygon points="202.0,114.0 206.4,115.3 208.4,111.3 204.0,110.2" fill="#fd0000"/><polygon points="206.4,115.3 210.8,118.4 212.8,115.3 208.4,111.3" fill="#ff612c"/><polygon points="210.8,118.4 215.1,123.9 217.2,121.5 212.8,115.3" fill="#ff8a16"/><polygon points="215.1,123.9 219.5,129.4 221.5,125.9 217.2,121.5" fill="#ffff0a"/><polygon points="219.5,129.4 223.8,132.3 225.9,128.3 221.5,125.9" fill="#c5ff17"/><polygon points="223.8,132.3 228.2,135.4 230.2,132.0 225.9,128.3" fill="#98ff32"/><polygon points="228.2,135.4 232.5,142.0 234.5,139.5 230.2,132.0" fill="#5fff29"/><polygon points="232.5,142.0 236.8,146.6 238.8,142.8 234.5,139.5" fill="#06ff44"/><polygon points="236.8,146.6 241.1,149.6 243.1,145.8 238.8,142.8" fill="#38ff9b"/><polygon points="241.1,149.6 245.3,152.1 247.4,147.9 243.1,145.8" fill="#2cff95"/><polygon points="245.3,152.1 249.6,154.8 251.6,150.6 247.4,147.9" fill="#31ffcb"/><polygon points="249.6,154.8 253.8,157.3 255.9,153.0 251.6,150.6" fill="#2effca"/><polygon points="253.8,157.3 258.1,158.9 260.1,155.0 255.9,153.0" fill="#25ffff"/><polygon points="258.1,158.9 262.3,161.7 264.3,158.2 260.1,155.0" fill="#2dffff"/><polygon points="262.3,161.7 266.5,165.2 268.5,162.0 264.3,158.2" fill="#28c9ff"/><polygon points="266.5,165.2 270.7,168.0 272.7,165.3 268.5,162.0" fill="#3097ff"/><polygon points="270.7,168.0 274.8,170.7 276.9,172.0 272.7,165.3" fill="#265cff"/><polygon points="274.8,170.7 279.0,176.1 281.1,173.9 276.9,172.0" fill="#0000ea"/><polygon points="279.0,176.1 283.2,177.9 285.2,174.6 281.1,173.9" fill="#0000fc"/><polygon points="283.2,177.9 287.3,178.7 289.3,175.1 285.2,174.6" fill="#0000ea"/><polygon points="287.3,178.7 291.4,180.0 293.5,176.4 289.3,175.1" fill="#0000ea"/><polygon points="291.4,180.0 295.5,180.6 297.6,177.4 293.5,176.4" fill="#0000f7"/><polygon points="295.5,180.6 299.6,178.6 301.6,175.5 297.6,177.4" fill="#0000ea"/><polygon points="299.6,178.6 303.7,178.5 305.7,174.7 301.6,175.5" fill="#003aea"/><polygon points="303.7,178.5 307.8,179.0 309.8,175.1 305.7,174.7" fill="#0075ea"/><polygon points="307.8,179.0 311.9,179.5 314.0,175.6 309.8,175.1" fill="#0075ea"/><polygon points="311.9,179.5 316.1,181.2 318.2,177.0 314.0,175.6" fill="#0883ff"/><polygon points="316.1,181.2 320.3,181.5 318.2,177.0" fill="#0075ea" stroke-width="0.3"/><polygon points="320.3,181.5 322.4,177.6 318.2,177.0" fill="#0075eb" stroke-width="0.3"/><polygon points="316.1,181.2 320.3,181.5 322.4,177.6 318.2,177.0" fill="none"/><polygon points="320.3,181.5 324.6,181.0 326.7,177.8 322.4,177.6" fill="#00afea"/><polygon points="324.6,181.0 329.0,182.6 331.0,179.0 326.7,177.8" fill="#0fc3ff"/><polygon points="329.0,182.6 333.4,184.6 335.5,179.8 331.0,179.0" fill="#0cc2ff"/><polygon points="333.4,184.6 338.0,184.3 340.0,179.0 335.5,179.8" fill="#00afea"/><polygon points="338.0,184.3 342.7,182.7 344.7,178.3" fill="#00eaea" stroke-width="0.3"/><polygon points="338.0,184.3 344.7,178.3 340.0,179.0" fill="#00eaea" stroke-width="0.3"/><polygon points="338.0,184.3 342.7,182.7 344.7,178.3 340.0,179.0" fill="none"/><polygon points="342.7,182.7 347.6,179.2 344.7,178.3" fill="#00eaaf" stroke-width="0.3"/><polygon points="347.6,179.2 349.6,176.9 344.7,178.3" fill="#00ea75" stroke-width="0.3"/><polygon points="342.7,182.7 347.6,179.2 349.6,176.9 344.7,178.3" fill="none"/><polygon points="347.6,179.2 352.6,178.0 349.6,176.9" fill="#00ea3a" stroke-width="0.3"/><polygon points="352.6,178.0 354.6,177.0 349.6,176.9" fill="#00ea3a" stroke-width="0.3"/><polygon points="347.6,179.2 352.6,178.0 354.6,177.0 349.6,176.9" fill="none"/><polygon points="352.6,178.0 357.8,181.5 359.8,179.1 354.6,177.0" fill="#00ea3a"/><polygon points="357.8,181.5 363.1,185.1 365.2,182.6 359.8,179.1" fill="#00f279"/><polygon points="363.1,185.1 368.5,188.6 370.6,186.5 365.2,182.6" fill="#02ffbf"/><polygon points="368.5,188.6 373.9,192.2 376.0,190.0 370.6,186.5" fill="#02ffbf"/><polygon points="373.9,192.2 379.3,193.3 381.4,191.2 376.0,190.0" fill="#00eaea"/><polygon points="51.8,97.2 56.6,99.1 58.7,95.3 53.9,93.7" fill="#00f379"/><polygon points="56.6,99.1 61.5,100.2 63.5,96.7 58.7,95.3" fill="#00f67b"/><polygon points="61.5,100.2 66.3,101.6 68.3,98.9 63.5,96.7" fill="#01ff80"/><polygon points="66.3,101.6 71.1,101.9 73.1,100.2 68.3,98.9" fill="#00ea75"/><polygon points="71.1,101.9 75.9,100.8 77.9,100.0 73.1,100.2" fill="#00ea75"/><polygon points="75.9,100.8 80.7,101.7 82.7,100.2 77.9,100.0" fill="#00ea3a"/><polygon points="80.7,101.7 85.5,102.9 87.5,100.3 82.7,100.2" fill="#00ea3a"/><polygon points="85.5,102.9 90.2,104.3 92.3,100.6 87.5,100.3" fill="#00ea00"/><polygon points="90.2,104.3 95.0,105.3 97.0,100.9 92.3,100.6" fill="#00ea00"/><polygon points="95.0,105.3 99.7,106.5 101.7,102.1 97.0,100.9" fill="#00f800"/><polygon points="99.7,106.5 104.4,108.2 106.5,103.9 101.7,102.1" fill="#14ff14"/><polygon points="104.4,108.2 109.1,110.4 111.2,106.4 106.5,103.9" fill="#30ff30"/><polygon points="109.1,110.4 113.8,112.1 115.8,109.1 111.2,106.4" fill="#12ff4d"/><polygon points="113.8,112.1 118.5,113.1 120.5,110.9 115.8,109.1" fill="#00ea3a"/><polygon points="118.5,113.1 123.1,116.5 125.2,114.4 120.5,110.9" fill="#0aff47"/><polygon points="123.1,116.5 127.8,121.2 129.8,119.3 125.2,114.4" fill="#1eff8e"/><polygon points="127.8,121.2 132.4,126.6 134.4,124.7 129.8,119.3" fill="#11ffff"/><polygon points="132.4,126.6 137.0,131.2 139.0,128.4 134.4,124.7" fill="#01bfff"/><polygon points="137.0,131.2 141.6,134.0 143.6,131.2 139.0,128.4" fill="#0783ff"/><polygon points="141.6,134.0 146.2,134.3 148.2,131.9 143.6,131.2" fill="#0075ea"/><polygon points="146.2,134.3 150.8,130.9 152.8,128.3 148.2,131.9" fill="#00afea"/><polygon points="150.8,130.9 155.3,125.4 157.3,122.2 152.8,128.3" fill="#00eaaf"/><polygon points="155.3,125.4 159.8,121.2 161.9,117.6 157.3,122.2" fill="#00ea00"/><polygon points="159.8,121.2 164.3,116.8 166.4,112.7 161.9,117.6" fill="#75ea00"/><polygon points="164.3,116.8 168.8,113.3 170.9,109.1 166.4,112.7" fill="#eaaf00"/><polygon points="168.8,113.3 173.3,110.8 175.4,107.3 170.9,109.1" fill="#ea3a00"/><polygon points="173.3,110.8 177.8,110.0 179.8,107.0 175.4,107.3" fill="#ea0000"/><polygon points="177.8,110.0 182.3,110.6 184.3,107.4 179.8,107.0" fill="#ea0000"/><polygon points="182.3,110.6 186.7,112.5 188.7,109.4 184.3,107.4" fill="#ff0606"/><polygon points="186.7,112.5 191.1,114.2 193.2,111.5 188.7,109.4" fill="#ff0505"/><polygon points="191.1,114.2 195.6,115.3 197.6,112.7 193.2,111.5" fill="#ea0000"/><polygon points="195.6,115.3 200.0,117.2 202.0,114.0 197.6,112.7" fill="#f40000"/><polygon points="200.0,117.2 204.4,119.5 206.4,115.3 202.0,114.0" fill="#ff1212"/><polygon points="204.4,119.5 208.7,122.2 210.8,118.4 206.4,115.3" fill="#ff6836"/><polygon points="208.7,122.2 213.1,126.4 215.1,123.9 210.8,118.4" fill="#ff9f40"/><polygon points="213.1,126.4 217.5,132.2 219.5,129.4 215.1,123.9" fill="#ffc71f"/><polygon points="217.5,132.2 221.8,136.0 223.8,132.3 219.5,129.4" fill="#c8ff24"/><polygon points="221.8,136.0 226.1,139.0 228.2,135.4 223.8,132.3" fill="#94ff2a"/><polygon points="226.1,139.0 230.4,143.0 232.5,142.0 228.2,135.4" fill="#67ff34"/><polygon points="230.4,143.0 234.7,149.6 236.8,146.6 232.5,142.0" fill="#00ea00"/><polygon points="234.7,149.6 239.0,152.9 241.1,149.6 236.8,146.6" fill="#23ff91"/><polygon points="239.0,152.9 243.3,155.8 245.3,152.1 241.1,149.6" fill="#06ff82"/><polygon points="243.3,155.8 247.6,158.1 249.6,154.8 245.3,152.1" fill="#23ffc8"/><polygon points="247.6,158.1 251.8,160.3 253.8,157.3 249.6,154.8" fill="#12ffff"/><polygon points="251.8,160.3 256.0,162.6 258.1,158.9 253.8,157.3" fill="#00f2f2"/><polygon points="256.0,162.6 260.2,165.2 262.3,161.7 258.1,158.9" fill="#1fffff"/><polygon points="260.2,165.2 264.4,168.0 266.5,165.2 262.3,161.7" fill="#11c3ff"/><polygon points="264.4,168.0 268.6,170.5 270.7,168.0 266.5,165.2" fill="#0d86ff"/><polygon points="268.6,170.5 272.8,172.6 274.8,170.7 270.7,168.0" fill="#0076ec"/><polygon points="272.8,172.6 277.0,176.4 279.0,176.1 274.8,170.7" fill="#003cf1"/><polygon points="277.0,176.4 281.1,180.4 283.2,177.9 279.0,176.1" fill="#0000ea"/><polygon points="281.1,180.4 285.3,182.3 287.3,178.7 283.2,177.9" fill="#0000f4"/><polygon points="285.3,182.3 289.4,183.4 291.4,180.0 287.3,178.7" fill="#0000ea"/><polygon points="289.4,183.4 293.5,184.2 295.5,180.6 291.4,180.0" fill="#0000fb"/><polygon points="293.5,184.2 297.6,182.3 299.6,178.6 295.5,180.6" fill="#0000ea"/><polygon points="297.6,182.3 301.6,182.2 303.7,178.5 299.6,178.6" fill="#003aea"/><polygon points="301.6,182.2 305.7,183.0 307.8,179.0 303.7,178.5" fill="#007cf9"/><polygon points="305.7,183.0 309.9,183.9 311.9,179.5 307.8,179.0" fill="#0079f3"/><polygon points="309.9,183.9 314.1,185.1 316.1,181.2 311.9,179.5" fill="#007ffe"/><polygon points="314.1,185.1 318.3,184.8 316.1,181.2" fill="#0075ea" stroke-width="0.3"/><polygon points="318.3,184.8 320.3,181.5 316.1,181.2" fill="#0075ea" stroke-width="0.3"/><polygon points="314.1,185.1 318.3,184.8 320.3,181.5 316.1,181.2" fill="none"/><polygon points="318.3,184.8 322.6,184.1 324.6,181.0 320.3,181.5" fill="#00afea"/><polygon points="322.6,184.1 326.9,185.2 324.6,181.0" fill="#00b8f5" stroke-width="0.3"/><polygon points="326.9,185.2 329.0,182.6 324.6,181.0" fill="#00afea" stroke-width="0.3"/><polygon points="322.6,184.1 326.9,185.2 329.0,182.6 324.6,181.0" fill="none"/><polygon points="326.9,185.2 331.4,187.1 333.4,184.6 329.0,182.6" fill="#00baf8"/><polygon points="331.4,187.1 336.0,187.3 338.0,184.3 333.4,184.6" fill="#00afea"/><polygon points="336.0,187.3 340.7,187.0 342.7,182.7 338.0,184.3" fill="#00eaea"/><polygon points="340.7,187.0 345.5,184.6 347.6,179.2 342.7,182.7" fill="#00eaaf"/><polygon points="345.5,184.6 350.6,183.6 352.6,178.0 347.6,179.2" fill="#00ea3a"/><polygon points="350.6,183.6 355.7,185.2 357.8,181.5 352.6,178.0" fill="#1aff53"/><polygon points="355.7,185.2 361.1,189.4 363.1,185.1" fill="#2fff97" stroke-width="0.3"/><polygon points="355.7,185.2 363.1,185.1 357.8,181.5" fill="#31ff65" stroke-width="0.3"/><polygon points="355.7,185.2 361.1,189.4 363.1,185.1 357.8,181.5" fill="none"/><polygon points="361.1,189.4 366.5,193.4 368.5,188.6" fill="#39ffcd" stroke-width="0.3"/><polygon points="361.1,189.4 368.5,188.6 363.1,185.1" fill="#30ff97" stroke-width="0.3"/><polygon points="361.1,189.4 366.5,193.4 368.5,188.6 363.1,185.1" fill="none"/><polygon points="366.5,193.4 371.9,195.2 373.9,192.2 368.5,188.6" fill="#07ffc1"/><polygon points="371.9,195.2 377.3,198.0 379.3,193.3 373.9,192.2" fill="#10ffc3"/><polygon points="49.8,101.1 54.6,102.3 56.6,99.1 51.8,97.2" fill="#02ff80"/><polygon points="54.6,102.3 59.4,102.5 61.5,100.2 56.6,99.1" fill="#00ea75"/><polygon points="59.4,102.5 64.3,103.0 66.3,101.6 61.5,100.2" fill="#00ea75"/><polygon points="64.3,103.0 69.1,103.2 71.1,101.9 66.3,101.6" fill="#00ea3a"/><polygon points="69.1,103.2 73.9,102.6 75.9,100.8 71.1,101.9" fill="#00ea3a"/><polygon points="73.9,102.6 78.7,104.1 80.7,101.7 75.9,100.8" fill="#00ea00"/><polygon points="78.7,104.1 83.5,106.0 85.5,102.9 80.7,101.7" fill="#00ea00"/><polygon points="83.5,106.0 88.2,107.2 90.2,104.3 85.5,102.9" fill="#00ee00"/><polygon points="88.2,107.2 93.0,108.1 95.0,105.3 90.2,104.3" fill="#00ea00"/><polygon points="93.0,108.1 97.7,109.3 99.7,106.5 95.0,105.3" fill="#00ed00"/><polygon points="97.7,109.3 102.4,111.2 104.4,108.2 99.7,106.5" fill="#00f800"/><polygon points="102.4,111.2 107.1,113.2 109.1,110.4 104.4,108.2" fill="#09ff09"/><polygon points="107.1,113.2 111.8,114.7 113.8,112.1 109.1,110.4" fill="#00eb00"/><polygon points="111.8,114.7 116.5,116.3 118.5,113.1 113.8,112.1" fill="#00ea00"/><polygon points="116.5,116.3 121.1,119.9 123.1,116.5 118.5,113.1" fill="#17ff51"/><polygon points="121.1,119.9 125.8,124.7 127.8,121.2 123.1,116.5" fill="#1bff8d"/><polygon points="125.8,124.7 130.4,130.3 132.4,126.6 127.8,121.2" fill="#29ffff"/><polygon points="130.4,130.3 135.0,134.7 137.0,131.2 132.4,126.6" fill="#30cbff"/><polygon points="135.0,134.7 139.6,137.3 141.6,134.0 137.0,131.2" fill="#178bff"/><polygon points="139.6,137.3 144.2,137.7 146.2,134.3 141.6,134.0" fill="#0075ea"/><polygon points="144.2,137.7 148.7,134.7 150.8,130.9 146.2,134.3" fill="#00afea"/><polygon points="148.7,134.7 153.3,129.2 155.3,125.4 150.8,130.9" fill="#00eaaf"/><polygon points="153.3,129.2 157.8,124.4 159.8,121.2 155.3,125.4" fill="#00ea00"/><polygon points="157.8,124.4 162.3,119.9 164.3,116.8 159.8,121.2" fill="#afea00"/><polygon points="162.3,119.9 166.8,117.0 168.8,113.3 164.3,116.8" fill="#eaaf00"/><polygon points="166.8,117.0 171.3,114.1 173.3,110.8 168.8,113.3" fill="#ea7500"/><polygon points="171.3,114.1 175.8,113.5 177.8,110.0 173.3,110.8" fill="#ea0000"/><polygon points="175.8,113.5 180.2,114.6 182.3,110.6 177.8,110.0" fill="#ed0000"/><polygon points="180.2,114.6 184.7,116.4 186.7,112.5 182.3,110.6" fill="#ff0909"/><polygon points="184.7,116.4 189.1,117.3 191.1,114.2 186.7,112.5" fill="#eb0000"/><polygon points="189.1,117.3 193.6,118.3 195.6,115.3 191.1,114.2" fill="#ea0000"/><polygon points="193.6,118.3 198.0,120.5 200.0,117.2 195.6,115.3" fill="#ff1a1a"/><polygon points="198.0,120.5 202.3,122.7 204.4,119.5 200.0,117.2" fill="#ff1414"/><polygon points="202.3,122.7 206.7,125.7 208.7,122.2 204.4,119.5" fill="#ff5a23"/><polygon points="206.7,125.7 211.1,129.9 213.1,126.4 208.7,122.2" fill="#ff9a35"/><polygon points="211.1,129.9 215.5,135.6 217.5,132.2 213.1,126.4" fill="#ffd044"/><polygon points="215.5,135.6 219.8,139.4 221.8,136.0 217.5,132.2" fill="#d2ff4e"/><polygon points="219.8,139.4 224.1,142.9 226.1,139.0 221.8,136.0" fill="#8aff15"/><polygon points="224.1,142.9 228.4,145.8 230.4,143.0 226.1,139.0" fill="#98ff31"/><polygon points="228.4,145.8 232.7,149.9 234.7,149.6 230.4,143.0" fill="#14ff14"/><polygon points="232.7,149.9 237.0,155.7 239.0,152.9 234.7,149.6" fill="#00ea3a"/><polygon points="237.0,155.7 241.3,158.1 243.3,155.8 239.0,152.9" fill="#0bff85"/><polygon points="241.3,158.1 245.5,160.4 247.6,158.1 243.3,155.8" fill="#00f5b8"/><polygon points="245.5,160.4 249.8,162.9 251.8,160.3 247.6,158.1" fill="#02ffbf"/><polygon points="249.8,162.9 254.0,166.1 256.0,162.6 251.8,160.3" fill="#0affff"/><polygon points="254.0,166.1 258.2,168.7 260.2,165.2 256.0,162.6" fill="#23ffff"/><polygon points="258.2,168.7 262.4,170.8 264.4,168.0 260.2,165.2" fill="#1cc6ff"/><polygon points="262.4,170.8 266.6,172.9 268.6,170.5 264.4,168.0" fill="#14c4ff"/><polygon points="266.6,172.9 270.8,175.2 272.8,172.6 268.6,170.5" fill="#1288ff"/><polygon points="270.8,175.2 274.9,177.0 277.0,176.4 272.8,172.6" fill="#0079f2"/><polygon points="274.9,177.0 279.1,183.0 281.1,180.4 277.0,176.4" fill="#003aea"/><polygon points="279.1,183.0 283.2,185.5 285.3,182.3 281.1,180.4" fill="#0000ea"/><polygon points="283.2,185.5 287.3,186.7 289.4,183.4 285.3,182.3" fill="#0000ea"/><polygon points="287.3,186.7 291.5,187.7 293.5,184.2 289.4,183.4" fill="#0000ea"/><polygon points="291.5,187.7 295.5,186.5 297.6,182.3 293.5,184.2" fill="#0000ea"/><polygon points="295.5,186.5 299.6,186.2 301.6,182.2 297.6,182.3" fill="#003aea"/><polygon points="299.6,186.2 303.7,186.9 305.7,183.0 301.6,182.2" fill="#003df7"/><polygon points="303.7,186.9 307.9,188.1 309.9,183.9 305.7,183.0" fill="#0079f3"/><polygon points="307.9,188.1 312.1,189.3 314.1,185.1 309.9,183.9" fill="#0481ff"/><polygon points="312.1,189.3 316.3,188.9 318.3,184.8 314.1,185.1" fill="#0075ea"/><polygon points="316.3,188.9 320.6,188.7 322.6,184.1 318.3,184.8" fill="#00afea"/><polygon points="320.6,188.7 324.9,188.2 326.9,185.2 322.6,184.1" fill="#00afea"/><polygon points="324.9,188.2 329.4,190.4 326.9,185.2" fill="#18c5ff" stroke-width="0.3"/><polygon points="329.4,190.4 331.4,187.1 326.9,185.2" fill="#0cc2ff" stroke-width="0.3"/><polygon points="324.9,188.2 329.4,190.4 331.4,187.1 326.9,185.2" fill="none"/><polygon points="329.4,190.4 333.9,191.5 336.0,187.3 331.4,187.1" fill="#00afea"/><polygon points="333.9,191.5 338.7,192.4 340.7,187.0 336.0,187.3" fill="#00efef"/><polygon points="338.7,192.4 343.5,191.8 345.5,184.6 340.7,187.0" fill="#00eaaf"/><polygon points="343.5,191.8 348.5,191.8 350.6,183.6" fill="#00ea75" stroke-width="0.3"/><polygon points="343.5,191.8 350.6,183.6 345.5,184.6" fill="#00ea75" stroke-width="0.3"/><polygon points="343.5,191.8 348.5,191.8 350.6,183.6 345.5,184.6" fill="none"/><polygon points="348.5,191.8 353.7,191.5 355.7,185.2 350.6,183.6" fill="#00ea75"/><polygon points="353.7,191.5 359.1,193.8 355.7,185.2" fill="#2aff94" stroke-width="0.3"/><polygon points="359.1,193.8 361.1,189.4 355.7,185.2" fill="#34ff99" stroke-width="0.3"/><polygon points="353.7,191.5 359.1,193.8 361.1,189.4 355.7,185.2" fill="none"/><polygon points="359.1,193.8 364.5,197.0 366.5,193.4 361.1,189.4" fill="#33ffcc"/><polygon points="364.5,197.0 369.9,200.3 371.9,195.2 366.5,193.4" fill="#34ffcc"/><polygon points="369.9,200.3 375.3,205.3 377.3,198.0 371.9,195.2" fill="#48ffff"/><polygon points="47.8,103.7 52.6,105.1 54.6,102.3 49.8,101.1" fill="#00ea75"/><polygon points="52.6,105.1 57.4,105.3 59.4,102.5 54.6,102.3" fill="#00ea75"/><polygon points="57.4,105.3 62.3,105.1 64.3,103.0 59.4,102.5" fill="#00ea3a"/><polygon points="62.3,105.1 67.1,105.4 69.1,103.2 64.3,103.0" fill="#00ea3a"/><polygon points="67.1,105.4 71.9,105.8 73.9,102.6 69.1,103.2" fill="#00ea00"/><polygon points="71.9,105.8 76.7,107.7 78.7,104.1 73.9,102.6" fill="#00fa00"/><polygon points="76.7,107.7 81.4,109.3 83.5,106.0 78.7,104.1" fill="#00f500"/><polygon points="81.4,109.3 86.2,110.6 88.2,107.2 83.5,106.0" fill="#00fe00"/><polygon points="86.2,110.6 91.0,111.6 93.0,108.1 88.2,107.2" fill="#00ea00"/><polygon points="91.0,111.6 95.7,112.1 97.7,109.3 93.0,108.1" fill="#00ea00"/><polygon points="95.7,112.1 100.4,113.7 102.4,111.2 97.7,109.3" fill="#00ea00"/><polygon points="100.4,113.7 105.1,116.2 107.1,113.2 102.4,111.2" fill="#00fc00"/><polygon points="105.1,116.2 109.8,118.4 111.8,114.7 107.1,113.2" fill="#06ff06"/><polygon points="109.8,118.4 114.5,120.6 116.5,116.3 111.8,114.7" fill="#16ff16"/><polygon points="114.5,120.6 119.1,124.4 121.1,119.9 116.5,116.3" fill="#3bff6c"/><polygon points="119.1,124.4 123.7,129.6 125.8,124.7 121.1,119.9" fill="#2eff96"/><polygon points="123.7,129.6 128.4,134.7 130.4,130.3 125.8,124.7" fill="#3cffff"/><polygon points="128.4,134.7 133.0,138.6 135.0,134.7 130.4,130.3" fill="#29c9ff"/><polygon points="133.0,138.6 137.6,141.2 139.6,137.3 135.0,134.7" fill="#2692ff"/><polygon points="137.6,141.2 142.2,142.0 144.2,137.7 139.6,137.3" fill="#0075ea"/><polygon points="142.2,142.0 146.7,139.4 148.7,134.7 144.2,137.7" fill="#00afea"/><polygon points="146.7,139.4 151.3,133.9 153.3,129.2 148.7,134.7" fill="#00eaaf"/><polygon points="151.3,133.9 155.8,128.5 157.8,124.4 153.3,129.2" fill="#00ea00"/><polygon points="155.8,128.5 160.3,124.0 162.3,119.9 157.8,124.4" fill="#afea00"/><polygon points="160.3,124.0 164.8,121.0 166.8,117.0 162.3,119.9" fill="#eaaf00"/><polygon points="164.8,121.0 169.3,118.5 171.3,114.1 166.8,117.0" fill="#ea7500"/><polygon points="169.3,118.5 173.8,118.0 175.8,113.5 171.3,114.1" fill="#ea0000"/><polygon points="173.8,118.0 178.2,118.8 180.2,114.6 175.8,113.5" fill="#ea0000"/><polygon points="178.2,118.8 182.7,119.9 184.7,116.4 180.2,114.6" fill="#ff0000"/><polygon points="182.7,119.9 187.1,120.8 189.1,117.3 184.7,116.4" fill="#f80000"/><polygon points="187.1,120.8 191.5,122.5 193.6,118.3 189.1,117.3" fill="#ff0e0e"/><polygon points="191.5,122.5 196.0,124.9 198.0,120.5 193.6,118.3" fill="#ff5050"/><polygon points="196.0,124.9 200.3,126.5 202.3,122.7 198.0,120.5" fill="#ff0d0d"/><polygon points="200.3,126.5 204.7,129.2 206.7,125.7 202.3,122.7" fill="#ff6f3f"/><polygon points="204.7,129.2 209.1,133.4 211.1,129.9 206.7,125.7" fill="#ff962d"/><polygon points="209.1,133.4 213.4,138.7 215.5,135.6 211.1,129.9" fill="#ffc825"/><polygon points="213.4,138.7 217.8,142.6 219.8,139.4 215.5,135.6" fill="#ffff0d"/><polygon points="217.8,142.6 222.1,145.9 224.1,142.9 219.8,139.4" fill="#cbff2f"/><polygon points="222.1,145.9 226.4,148.5 228.4,145.8 224.1,142.9" fill="#96ff2d"/><polygon points="226.4,148.5 230.7,151.4 232.7,149.9 228.4,145.8" fill="#45ff07"/><polygon points="230.7,151.4 235.0,155.6 237.0,155.7 232.7,149.9" fill="#00f900"/><polygon points="235.0,155.6 239.3,159.8 241.3,158.1 237.0,155.7" fill="#00ea3a"/><polygon points="239.3,159.8 243.5,162.0 245.5,160.4 241.3,158.1" fill="#00f77b"/><polygon points="243.5,162.0 247.8,165.3 249.8,162.9 245.5,160.4" fill="#00eaaf"/><polygon points="247.8,165.3 252.0,169.3 254.0,166.1 249.8,162.9" fill="#05ffc0"/><polygon points="252.0,169.3 256.2,172.1 258.2,168.7 254.0,166.1" fill="#05ffff"/><polygon points="256.2,172.1 260.4,174.2 262.4,170.8 258.2,168.7" fill="#28c9ff"/><polygon points="260.4,174.2 264.6,175.9 266.6,172.9 262.4,170.8" fill="#18c5ff"/><polygon points="264.6,175.9 268.8,178.1 270.8,175.2 266.6,172.9" fill="#0dc2ff"/><polygon points="268.8,178.1 272.9,180.3 274.9,177.0 270.8,175.2" fill="#0b85ff"/><polygon points="272.9,180.3 277.1,186.2 279.1,183.0 274.9,177.0" fill="#1852ff"/><polygon points="277.1,186.2 281.2,188.9 283.2,185.5 279.1,183.0" fill="#2121ff"/><polygon points="281.2,188.9 285.3,190.3 287.3,186.7 283.2,185.5" fill="#0000fd"/><polygon points="285.3,190.3 289.4,191.4 291.5,187.7 287.3,186.7" fill="#0000fb"/><polygon points="289.4,191.4 293.5,191.3 295.5,186.5 291.5,187.7" fill="#0000ea"/><polygon points="293.5,191.3 297.6,190.6 299.6,186.2 295.5,186.5" fill="#003aea"/><polygon points="297.6,190.6 301.7,190.8 303.7,186.9 299.6,186.2" fill="#003aea"/><polygon points="301.7,190.8 305.8,192.0 307.9,188.1 303.7,186.9" fill="#003bee"/><polygon points="305.8,192.0 310.0,193.1 312.1,189.3 307.9,188.1" fill="#003df6"/><polygon points="310.0,193.1 314.3,191.3 316.3,188.9" fill="#0075ea" stroke-width="0.3"/><polygon points="310.0,193.1 316.3,188.9 312.1,189.3" fill="#0075ea" stroke-width="0.3"/><polygon points="310.0,193.1 314.3,191.3 316.3,188.9 312.1,189.3" fill="none"/><polygon points="314.3,191.3 318.6,191.2 320.6,188.7 316.3,188.9" fill="#00afea"/><polygon points="318.6,191.2 322.9,191.2 320.6,188.7" fill="#00afea" stroke-width="0.3"/><polygon points="322.9,191.2 324.9,188.2 320.6,188.7" fill="#00afea" stroke-width="0.3"/><polygon points="318.6,191.2 322.9,191.2 324.9,188.2 320.6,188.7" fill="none"/><polygon points="322.9,191.2 327.3,192.9 329.4,190.4 324.9,188.2" fill="#01ffff"/><polygon points="327.3,192.9 331.9,195.5 333.9,191.5 329.4,190.4" fill="#1dc6ff"/><polygon points="331.9,195.5 336.7,196.2 333.9,191.5" fill="#00afea" stroke-width="0.3"/><polygon points="336.7,196.2 338.7,192.4 333.9,191.5" fill="#00baf8" stroke-width="0.3"/><polygon points="331.9,195.5 336.7,196.2 338.7,192.4 333.9,191.5" fill="none"/><polygon points="336.7,196.2 341.5,195.9 338.7,192.4" fill="#00eaea" stroke-width="0.3"/><polygon points="341.5,195.9 343.5,191.8 338.7,192.4" fill="#00eaea" stroke-width="0.3"/><polygon points="336.7,196.2 341.5,195.9 343.5,191.8 338.7,192.4" fill="none"/><polygon points="341.5,195.9 346.5,195.5 348.5,191.8" fill="#00eaaf" stroke-width="0.3"/><polygon points="341.5,195.9 348.5,191.8 343.5,191.8" fill="#00eaaf" stroke-width="0.3"/><polygon points="341.5,195.9 346.5,195.5 348.5,191.8 343.5,191.8" fill="none"/><polygon points="346.5,195.5 351.7,195.1 353.7,191.5 348.5,191.8" fill="#00eaaf"/><polygon points="351.7,195.1 357.1,198.9 359.1,193.8" fill="#48ffd1" stroke-width="0.3"/><polygon points="351.7,195.1 359.1,193.8 353.7,191.5" fill="#06ff82" stroke-width="0.3"/><polygon points="351.7,195.1 357.1,198.9 359.1,193.8 353.7,191.5" fill="none"/><polygon points="357.1,198.9 362.5,201.8 364.5,197.0 359.1,193.8" fill="#39ffcd"/><polygon points="362.5,201.8 367.9,204.2 364.5,197.0" fill="#3cffff" stroke-width="0.3"/><polygon points="367.9,204.2 369.9,200.3 364.5,197.0" fill="#46ffff" stroke-width="0.3"/><polygon points="362.5,201.8 367.9,204.2 369.9,200.3 364.5,197.0" fill="none"/><polygon points="367.9,204.2 373.3,209.9 375.3,205.3 369.9,200.3" fill="#35ccff"/><polygon points="45.8,106.1 50.6,107.6 52.6,105.1 47.8,103.7" fill="#00ea75"/><polygon points="50.6,107.6 55.4,108.4 57.4,105.3 52.6,105.1" fill="#00ea3a"/><polygon points="55.4,108.4 60.3,108.5 62.3,105.1 57.4,105.3" fill="#00ea3a"/><polygon points="60.3,108.5 65.1,108.9 67.1,105.4 62.3,105.1" fill="#00ea00"/><polygon points="65.1,108.9 69.9,109.8 71.9,105.8 67.1,105.4" fill="#00ea00"/><polygon points="69.9,109.8 74.7,112.3 76.7,107.7 71.9,105.8" fill="#0fff0f"/><polygon points="74.7,112.3 79.4,113.8 81.4,109.3 76.7,107.7" fill="#14ff14"/><polygon points="79.4,113.8 84.2,115.1 86.2,110.6 81.4,109.3" fill="#03ff03"/><polygon points="84.2,115.1 89.0,115.8 91.0,111.6 86.2,110.6" fill="#00ef00"/><polygon points="89.0,115.8 93.7,115.4 95.7,112.1 91.0,111.6" fill="#00ea00"/><polygon points="93.7,115.4 98.4,116.6 100.4,113.7 95.7,112.1" fill="#3aea00"/><polygon points="98.4,116.6 103.1,119.4 105.1,116.2 100.4,113.7" fill="#28ff28"/><polygon points="103.1,119.4 107.8,122.3 109.8,118.4 105.1,116.2" fill="#1cff1c"/><polygon points="107.8,122.3 112.5,124.8 114.5,120.6 109.8,118.4" fill="#32ff65"/><polygon points="112.5,124.8 117.1,128.9 119.1,124.4 114.5,120.6" fill="#42ff71"/><polygon points="117.1,128.9 121.7,134.6 123.7,129.6 119.1,124.4" fill="#2cffca"/><polygon points="121.7,134.6 126.4,139.8 128.4,134.7 123.7,129.6" fill="#3affff"/><polygon points="126.4,139.8 131.0,143.6 133.0,138.6 128.4,134.7" fill="#389bff"/><polygon points="131.0,143.6 135.6,146.4 137.6,141.2 133.0,138.6" fill="#50a7ff"/><polygon points="135.6,146.4 140.2,146.7 142.2,142.0 137.6,141.2" fill="#0075ea"/><polygon points="140.2,146.7 144.7,144.5 146.7,139.4 142.2,142.0" fill="#00afea"/><polygon points="144.7,144.5 149.3,139.4 151.3,133.9 146.7,139.4" fill="#00eaaf"/><polygon points="149.3,139.4 153.8,134.1 155.8,128.5 151.3,133.9" fill="#00ea3a"/><polygon points="153.8,134.1 158.3,129.4 160.3,124.0 155.8,128.5" fill="#75ea00"/><polygon points="158.3,129.4 162.8,125.8 164.8,121.0 160.3,124.0" fill="#eaea00"/><polygon points="162.8,125.8 167.3,123.5 169.3,118.5 164.8,121.0" fill="#ea7500"/><polygon points="167.3,123.5 171.8,122.2 173.8,118.0 169.3,118.5" fill="#ea3a00"/><polygon points="171.8,122.2 176.3,122.3 178.2,118.8 173.8,118.0" fill="#ea0000"/><polygon points="176.3,122.3 180.7,123.0 182.7,119.9 178.2,118.8" fill="#ea0000"/><polygon points="180.7,123.0 185.1,124.3 187.1,120.8 182.7,119.9" fill="#ff0d0d"/><polygon points="185.1,124.3 189.6,126.6 191.5,122.5 187.1,120.8" fill="#ff2727"/><polygon points="189.6,126.6 194.0,129.5 196.0,124.9 191.5,122.5" fill="#ff3434"/><polygon points="194.0,129.5 198.4,131.8 200.3,126.5 196.0,124.9" fill="#ff6633"/><polygon points="198.4,131.8 202.7,133.8 204.7,129.2 200.3,126.5" fill="#ff541b"/><polygon points="202.7,133.8 207.1,136.7 209.1,133.4 204.7,129.2" fill="#ff9c3a"/><polygon points="207.1,136.7 211.5,140.8 213.4,138.7 209.1,133.4" fill="#ffc722"/><polygon points="211.5,140.8 215.8,145.1 217.8,142.6 213.4,138.7" fill="#ffff16"/><polygon points="215.8,145.1 220.1,148.0 222.1,145.9 217.8,142.6" fill="#c2ff0b"/><polygon points="220.1,148.0 224.4,150.0 226.4,148.5 222.1,145.9" fill="#75ea00"/><polygon points="224.4,150.0 228.7,151.8 230.7,151.4 226.4,148.5" fill="#75ea00"/><polygon points="228.7,151.8 233.0,154.9 235.0,155.6 230.7,151.4" fill="#3aea00"/><polygon points="233.0,154.9 237.3,159.2 239.3,159.8 235.0,155.6" fill="#00ea00"/><polygon points="237.3,159.2 241.5,164.4 243.5,162.0 239.3,159.8" fill="#00ea3a"/><polygon points="241.5,164.4 245.8,168.1 247.8,165.3 243.5,162.0" fill="#03ff81"/><polygon points="245.8,168.1 250.0,172.2 252.0,169.3 247.8,165.3" fill="#12ffc3"/><polygon points="250.0,172.2 254.2,174.9 256.2,172.1 252.0,169.3" fill="#21ffff"/><polygon points="254.2,174.9 258.4,177.4 260.4,174.2 256.2,172.1" fill="#00bfff"/><polygon points="258.4,177.4 262.6,179.4 264.6,175.9 260.4,174.2" fill="#15c4ff"/><polygon points="262.6,179.4 266.8,181.1 268.8,178.1 264.6,175.9" fill="#13c4ff"/><polygon points="266.8,181.1 270.9,183.4 272.9,180.3 268.8,178.1" fill="#01bfff"/><polygon points="270.9,183.4 275.1,188.9 277.1,186.2 272.9,180.3" fill="#3e6eff"/><polygon points="275.1,188.9 279.2,192.5 281.2,188.9 277.1,186.2" fill="#1515ff"/><polygon points="279.2,192.5 283.3,194.0 285.3,190.3 281.2,188.9" fill="#0c0cff"/><polygon points="283.3,194.0 287.4,194.7 289.4,191.4 285.3,190.3" fill="#0000ef"/><polygon points="287.4,194.7 291.5,194.9 293.5,191.3 289.4,191.4" fill="#0000ea"/><polygon points="291.5,194.9 295.6,194.4 297.6,190.6 293.5,191.3" fill="#003aea"/><polygon points="295.6,194.4 299.7,195.1 301.7,190.8 297.6,190.6" fill="#003aea"/><polygon points="299.7,195.1 303.8,195.9 305.8,192.0 301.7,190.8" fill="#0543ff"/><polygon points="303.8,195.9 308.0,196.8 310.0,193.1 305.8,192.0" fill="#003aea"/><polygon points="308.0,196.8 312.3,193.8 314.3,191.3 310.0,193.1" fill="#0075ea"/><polygon points="312.3,193.8 316.6,193.4 318.6,191.2" fill="#00afea" stroke-width="0.3"/><polygon points="312.3,193.8 318.6,191.2 314.3,191.3" fill="#00afea" stroke-width="0.3"/><polygon points="312.3,193.8 316.6,193.4 318.6,191.2 314.3,191.3" fill="none"/><polygon points="316.6,193.4 320.9,193.8 322.9,191.2 318.6,191.2" fill="#00eaea"/><polygon points="320.9,193.8 325.3,195.0 322.9,191.2" fill="#00eaea" stroke-width="0.3"/><polygon points="325.3,195.0 327.3,192.9 322.9,191.2" fill="#00eaea" stroke-width="0.3"/><polygon points="320.9,193.8 325.3,195.0 327.3,192.9 322.9,191.2" fill="none"/><polygon points="325.3,195.0 329.9,198.3 331.9,195.5" fill="#34ffff" stroke-width="0.3"/><polygon points="325.3,195.0 331.9,195.5 327.3,192.9" fill="#00f6f6" stroke-width="0.3"/><polygon points="325.3,195.0 329.9,198.3 331.9,195.5 327.3,192.9" fill="none"/><polygon points="329.9,198.3 334.7,198.9 336.7,196.2 331.9,195.5" fill="#00eaea"/><polygon points="334.7,198.9 339.5,198.4 341.5,195.9" fill="#00eaea" stroke-width="0.3"/><polygon points="334.7,198.9 341.5,195.9 336.7,196.2" fill="#00eaea" stroke-width="0.3"/><polygon points="334.7,198.9 339.5,198.4 341.5,195.9 336.7,196.2" fill="none"/><polygon points="339.5,198.4 344.5,199.3 346.5,195.5" fill="#00f4b7" stroke-width="0.3"/><polygon points="339.5,198.4 346.5,195.5 341.5,195.9" fill="#00eaaf" stroke-width="0.3"/><polygon points="339.5,198.4 344.5,199.3 346.5,195.5 341.5,195.9" fill="none"/><polygon points="344.5,199.3 349.7,199.4 351.7,195.1 346.5,195.5" fill="#00eaaf"/><polygon points="349.7,199.4 355.1,202.3 357.1,198.9 351.7,195.1" fill="#22ffc7"/><polygon points="355.1,202.3 360.5,206.1 362.5,201.8 357.1,198.9" fill="#28ffc9"/><polygon points="360.5,206.1 365.9,209.0 362.5,201.8" fill="#26ffff" stroke-width="0.3"/><polygon points="365.9,209.0 367.9,204.2 362.5,201.8" fill="#1fffff" stroke-width="0.3"/><polygon points="360.5,206.1 365.9,209.0 367.9,204.2 362.5,201.8" fill="none"/><polygon points="365.9,209.0 371.3,212.4 373.3,209.9 367.9,204.2" fill="#35ccff"/><polygon points="43.8,110.4 48.6,112.4 50.6,107.6 45.8,106.1" fill="#1aff8c"/><polygon points="48.6,112.4 53.4,113.2 55.4,108.4 50.6,107.6" fill="#00eb75"/><polygon points="53.4,113.2 58.3,113.0 60.3,108.5 55.4,108.4" fill="#00ea3a"/><polygon points="58.3,113.0 63.1,113.5 65.1,108.9 60.3,108.5" fill="#00ea3a"/><polygon points="63.1,113.5 67.9,114.5 69.9,109.8 65.1,108.9" fill="#00fe00"/><polygon points="67.9,114.5 72.7,117.0 74.7,112.3 69.9,109.8" fill="#40ff40"/><polygon points="72.7,117.0 77.5,118.6 79.4,113.8 74.7,112.3" fill="#11ff4c"/><polygon points="77.5,118.6 82.2,119.4 84.2,115.1 79.4,113.8" fill="#00fa3e"/><polygon points="82.2,119.4 87.0,120.0 89.0,115.8 84.2,115.1" fill="#00f700"/><polygon points="87.0,120.0 91.7,119.6 93.7,115.4 89.0,115.8" fill="#00ea00"/><polygon points="91.7,119.6 96.4,120.1 98.4,116.6 93.7,115.4" fill="#3fff00"/><polygon points="96.4,120.1 101.1,122.4 103.1,119.4 98.4,116.6" fill="#6aff38"/><polygon points="101.1,122.4 105.8,126.1 107.8,122.3 103.1,119.4" fill="#28ff28"/><polygon points="105.8,126.1 110.5,129.3 112.5,124.8 107.8,122.3" fill="#38ff6a"/><polygon points="110.5,129.3 115.1,133.9 117.1,128.9 112.5,124.8" fill="#4fffa7"/><polygon points="115.1,133.9 119.8,139.5 121.7,134.6 117.1,128.9" fill="#5dffd6"/><polygon points="119.8,139.5 124.4,144.4 126.4,139.8 121.7,134.6" fill="#39cdff"/><polygon points="124.4,144.4 129.0,147.7 131.0,143.6 126.4,139.8" fill="#2e96ff"/><polygon points="129.0,147.7 133.6,150.8 135.6,146.4 131.0,143.6" fill="#4070ff"/><polygon points="133.6,150.8 138.2,151.5 140.2,146.7 135.6,146.4" fill="#003aea"/><polygon points="138.2,151.5 142.7,150.5 144.7,144.5 140.2,146.7" fill="#0075ea"/><polygon points="142.7,150.5 147.3,145.7 149.3,139.4 144.7,144.5" fill="#00eaea"/><polygon points="147.3,145.7 151.8,139.7 153.8,134.1 149.3,139.4" fill="#00ea3a"/><polygon points="151.8,139.7 156.3,134.8 158.3,129.4 153.8,134.1" fill="#3aea00"/><polygon points="156.3,134.8 160.8,131.0 162.8,125.8 158.3,129.4" fill="#eaea00"/><polygon points="160.8,131.0 165.3,128.7 167.3,123.5 162.8,125.8" fill="#eaaf00"/><polygon points="165.3,128.7 169.8,126.4 171.8,122.2 167.3,123.5" fill="#ea3a00"/><polygon points="169.8,126.4 174.3,125.6 176.3,122.3 171.8,122.2" fill="#ea0000"/><polygon points="174.3,125.6 178.7,125.9 180.7,123.0 176.3,122.3" fill="#ea0000"/><polygon points="178.7,125.9 183.2,127.4 185.1,124.3 180.7,123.0" fill="#ea0000"/><polygon points="183.2,127.4 187.6,129.7 189.6,126.6 185.1,124.3" fill="#ff0707"/><polygon points="187.6,129.7 192.0,132.6 194.0,129.5 189.6,126.6" fill="#ff2323"/><polygon points="192.0,132.6 196.4,136.2 198.4,131.8 194.0,129.5" fill="#ff612d"/><polygon points="196.4,136.2 200.8,138.5 202.7,133.8 198.4,131.8" fill="#ff5922"/><polygon points="200.8,138.5 205.1,140.2 207.1,136.7 202.7,133.8" fill="#ff8e1d"/><polygon points="205.1,140.2 209.5,142.7 211.5,140.8 207.1,136.7" fill="#ff8f1f"/><polygon points="209.5,142.7 213.8,146.5 215.8,145.1 211.5,140.8" fill="#ffc61c"/><polygon points="213.8,146.5 218.1,149.8 220.1,148.0 215.8,145.1" fill="#f2f200"/><polygon points="218.1,149.8 222.4,151.7 224.4,150.0 220.1,148.0" fill="#afea00"/><polygon points="222.4,151.7 226.7,153.4 228.7,151.8 224.4,150.0" fill="#afea00"/><polygon points="226.7,153.4 231.0,155.8 233.0,154.9 228.7,151.8" fill="#75ea00"/><polygon points="231.0,155.8 235.3,160.5 237.3,159.2 233.0,154.9" fill="#3aea00"/><polygon points="235.3,160.5 239.5,166.0 241.5,164.4 237.3,159.2" fill="#00ec00"/><polygon points="239.5,166.0 243.8,171.2 245.8,168.1 241.5,164.4" fill="#00f279"/><polygon points="243.8,171.2 248.0,175.0 250.0,172.2 245.8,168.1" fill="#3affcd"/><polygon points="248.0,175.0 252.2,177.4 254.2,174.9 250.0,172.2" fill="#11ffff"/><polygon points="252.2,177.4 256.4,179.9 258.4,177.4 254.2,174.9" fill="#14ffff"/><polygon points="256.4,179.9 260.6,182.3 262.6,179.4 258.4,177.4" fill="#00b4f0"/><polygon points="260.6,182.3 264.8,183.9 266.8,181.1 262.6,179.4" fill="#00b8f5"/><polygon points="264.8,183.9 268.9,186.1 270.9,183.4 266.8,181.1" fill="#0fc3ff"/><polygon points="268.9,186.1 273.1,190.3 275.1,188.9 270.9,183.4" fill="#2491ff"/><polygon points="273.1,190.3 277.2,195.8 279.2,192.5 275.1,188.9" fill="#0909ff"/><polygon points="277.2,195.8 281.3,197.7 283.3,194.0 279.2,192.5" fill="#1515ff"/><polygon points="281.3,197.7 285.4,198.6 287.4,194.7 283.3,194.0" fill="#0000eb"/><polygon points="285.4,198.6 289.5,198.3 291.5,194.9 287.4,194.7" fill="#0000ea"/><polygon points="289.5,198.3 293.6,198.0 295.6,194.4 291.5,194.9" fill="#003aea"/><polygon points="293.6,198.0 297.7,199.4 299.7,195.1 295.6,194.4" fill="#1c55ff"/><polygon points="297.7,199.4 301.9,200.2 303.8,195.9 299.7,195.1" fill="#003aeb"/><polygon points="301.9,200.2 306.0,200.8 308.0,196.8 303.8,195.9" fill="#003aea"/><polygon points="306.0,200.8 310.3,197.6 308.0,196.8" fill="#0075ea" stroke-width="0.3"/><polygon points="310.3,197.6 312.3,193.8 308.0,196.8" fill="#00afea" stroke-width="0.3"/><polygon points="306.0,200.8 310.3,197.6 312.3,193.8 308.0,196.8" fill="none"/><polygon points="310.3,197.6 314.6,197.6 316.6,193.4" fill="#00eaea" stroke-width="0.3"/><polygon points="310.3,197.6 316.6,193.4 312.3,193.8" fill="#00afea" stroke-width="0.3"/><polygon points="310.3,197.6 314.6,197.6 316.6,193.4 312.3,193.8" fill="none"/><polygon points="314.6,197.6 318.9,198.0 320.9,193.8 316.6,193.4" fill="#00eaea"/><polygon points="318.9,198.0 323.4,198.8 325.3,195.0 320.9,193.8" fill="#06ffff"/><polygon points="323.4,198.8 327.9,201.1 329.9,198.3" fill="#0dffff" stroke-width="0.3"/><polygon points="323.4,198.8 329.9,198.3 325.3,195.0" fill="#2bffff" stroke-width="0.3"/><polygon points="323.4,198.8 327.9,201.1 329.9,198.3 325.3,195.0" fill="none"/><polygon points="327.9,201.1 332.7,201.2 334.7,198.9 329.9,198.3" fill="#00eaea"/><polygon points="332.7,201.2 337.5,202.4 334.7,198.9" fill="#00eaea" stroke-width="0.3"/><polygon points="337.5,202.4 339.5,198.4 334.7,198.9" fill="#00eaea" stroke-width="0.3"/><polygon points="332.7,201.2 337.5,202.4 339.5,198.4 334.7,198.9" fill="none"/><polygon points="337.5,202.4 342.6,202.9 344.5,199.3" fill="#00eaaf" stroke-width="0.3"/><polygon points="337.5,202.4 344.5,199.3 339.5,198.4" fill="#08ffc1" stroke-width="0.3"/><polygon points="337.5,202.4 342.6,202.9 344.5,199.3 339.5,198.4" fill="none"/><polygon points="342.6,202.9 347.7,201.2 349.7,199.4 344.5,199.3" fill="#00eaaf"/><polygon points="347.7,201.2 353.1,204.6 355.1,202.3 349.7,199.4" fill="#00f77b"/><polygon points="353.1,204.6 358.5,210.1 360.5,206.1 355.1,202.3" fill="#15ffc4"/><polygon points="358.5,210.1 363.9,213.6 365.9,209.0 360.5,206.1" fill="#32ffff"/><polygon points="363.9,213.6 369.3,214.9 371.3,212.4 365.9,209.0" fill="#00bfff"/><polygon points="41.8,115.2 46.6,117.3 48.6,112.4 43.8,110.4" fill="#19ff8c"/><polygon points="46.6,117.3 51.5,117.7 53.4,113.2 48.6,112.4" fill="#00ea75"/><polygon points="51.5,117.7 56.3,117.5 58.3,113.0 53.4,113.2" fill="#00ea3a"/><polygon points="56.3,117.5 61.1,118.0 63.1,113.5 58.3,113.0" fill="#00f83e"/><polygon points="61.1,118.0 65.9,118.6 67.9,114.5 63.1,113.5" fill="#00ea3a"/><polygon points="65.9,118.6 70.7,120.6 72.7,117.0 67.9,114.5" fill="#24ff5a"/><polygon points="70.7,120.6 75.5,122.6 77.5,118.6 72.7,117.0" fill="#0eff4a"/><polygon points="75.5,122.6 80.2,123.3 82.2,119.4 77.5,118.6" fill="#00f23c"/><polygon points="80.2,123.3 85.0,123.9 87.0,120.0 82.2,119.4" fill="#00ea3a"/><polygon points="85.0,123.9 89.7,124.1 91.7,119.6 87.0,120.0" fill="#00ea00"/><polygon points="89.7,124.1 94.4,124.7 96.4,120.1 91.7,119.6" fill="#00f000"/><polygon points="94.4,124.7 99.1,126.4 101.1,122.4 96.4,120.1" fill="#25ff25"/><polygon points="99.1,126.4 103.8,129.3 105.8,126.1 101.1,122.4" fill="#4aff4a"/><polygon points="103.8,129.3 108.5,132.0 110.5,129.3 105.8,126.1" fill="#15ff4f"/><polygon points="108.5,132.0 113.1,136.9 115.1,133.9 110.5,129.3" fill="#09ff84"/><polygon points="113.1,136.9 117.8,143.0 119.8,139.5 115.1,133.9" fill="#10ffc3"/><polygon points="117.8,143.0 122.4,147.3 124.4,144.4 119.8,139.5" fill="#2fcbff"/><polygon points="122.4,147.3 127.0,150.1 129.0,147.7 124.4,144.4" fill="#0e86ff"/><polygon points="127.0,150.1 131.6,153.2 133.6,150.8 129.0,147.7" fill="#0846ff"/><polygon points="131.6,153.2 136.2,155.2 138.2,151.5 133.6,150.8" fill="#003aea"/><polygon points="136.2,155.2 140.8,155.3 142.7,150.5 138.2,151.5" fill="#003aea"/><polygon points="140.8,155.3 145.3,150.4 147.3,145.7 142.7,150.5" fill="#00afea"/><polygon points="145.3,150.4 149.8,144.0 151.8,139.7 147.3,145.7" fill="#00ea75"/><polygon points="149.8,144.0 154.4,139.8 156.3,134.8 151.8,139.7" fill="#3aea00"/><polygon points="154.4,139.8 158.9,136.1 160.8,131.0 156.3,134.8" fill="#afea00"/><polygon points="158.9,136.1 163.4,133.4 165.3,128.7 160.8,131.0" fill="#eaaf00"/><polygon points="163.4,133.4 167.8,130.2 169.8,126.4 165.3,128.7" fill="#ea7500"/><polygon points="167.8,130.2 172.3,128.7 174.3,125.6 169.8,126.4" fill="#ea0000"/><polygon points="172.3,128.7 176.8,129.1 178.7,125.9 174.3,125.6" fill="#ea0000"/><polygon points="176.8,129.1 181.2,130.9 183.2,127.4 178.7,125.9" fill="#ff0d0d"/><polygon points="181.2,130.9 185.6,132.7 187.6,129.7 183.2,127.4" fill="#ff1818"/><polygon points="185.6,132.7 190.0,135.3 192.0,132.6 187.6,129.7" fill="#ff1616"/><polygon points="190.0,135.3 194.4,139.5 196.4,136.2 192.0,132.6" fill="#ff551d"/><polygon points="194.4,139.5 198.8,142.3 200.8,138.5 196.4,136.2" fill="#ff8c1a"/><polygon points="198.8,142.3 203.1,143.6 205.1,140.2 200.8,138.5" fill="#ef7700"/><polygon points="203.1,143.6 207.5,145.6 209.5,142.7 205.1,140.2" fill="#ff8812"/><polygon points="207.5,145.6 211.8,148.6 213.8,146.5 209.5,142.7" fill="#ffc518"/><polygon points="211.8,148.6 216.2,152.1 218.1,149.8 213.8,146.5" fill="#ffff0a"/><polygon points="216.2,152.1 220.5,154.3 222.4,151.7 218.1,149.8" fill="#eaea00"/><polygon points="220.5,154.3 224.8,156.1 226.7,153.4 222.4,151.7" fill="#afea00"/><polygon points="224.8,156.1 229.0,158.8 231.0,155.8 226.7,153.4" fill="#c3ff11"/><polygon points="229.0,158.8 233.3,163.1 235.3,160.5 231.0,155.8" fill="#96ff2d"/><polygon points="233.3,163.1 237.6,168.1 239.5,166.0 235.3,160.5" fill="#5aff23"/><polygon points="237.6,168.1 241.8,174.0 243.8,171.2 239.5,166.0" fill="#21ff58"/><polygon points="241.8,174.0 246.0,177.6 248.0,175.0 243.8,171.2" fill="#3cff9d"/><polygon points="246.0,177.6 250.2,180.2 252.2,177.4 248.0,175.0" fill="#0fffc3"/><polygon points="250.2,180.2 254.4,182.9 256.4,179.9 252.2,177.4" fill="#2affff"/><polygon points="254.4,182.9 258.6,185.2 260.6,182.3 256.4,179.9" fill="#06ffff"/><polygon points="258.6,185.2 262.8,187.0 264.8,183.9 260.6,182.3" fill="#0bc2ff"/><polygon points="262.8,187.0 267.0,189.2 268.9,186.1 264.8,183.9" fill="#10c3ff"/><polygon points="267.0,189.2 271.1,192.5 273.1,190.3 268.9,186.1" fill="#208fff"/><polygon points="271.1,192.5 275.2,199.4 277.2,195.8 273.1,190.3" fill="#0846ff"/><polygon points="275.2,199.4 279.4,201.7 281.3,197.7 277.2,195.8" fill="#1f1fff"/><polygon points="279.4,201.7 283.5,202.8 285.4,198.6 281.3,197.7" fill="#1616ff"/><polygon points="283.5,202.8 287.6,202.0 289.5,198.3 285.4,198.6" fill="#0000ea"/><polygon points="287.6,202.0 291.6,201.0 293.6,198.0 289.5,198.3" fill="#003aea"/><polygon points="291.6,201.0 295.7,202.8 297.7,199.4 293.6,198.0" fill="#0846ff"/><polygon points="295.7,202.8 299.9,203.9 301.9,200.2 297.7,199.4" fill="#003df5"/><polygon points="299.9,203.9 304.1,203.9 306.0,200.8 301.9,200.2" fill="#003aea"/><polygon points="304.1,203.9 308.3,201.0 306.0,200.8" fill="#0075ea" stroke-width="0.3"/><polygon points="308.3,201.0 310.3,197.6 306.0,200.8" fill="#00afea" stroke-width="0.3"/><polygon points="304.1,203.9 308.3,201.0 310.3,197.6 306.0,200.8" fill="none"/><polygon points="308.3,201.0 312.6,201.9 314.6,197.6 310.3,197.6" fill="#00afea"/><polygon points="312.6,201.9 316.9,203.0 318.9,198.0" fill="#08ffff" stroke-width="0.3"/><polygon points="312.6,201.9 318.9,198.0 314.6,197.6" fill="#00eaea" stroke-width="0.3"/><polygon points="312.6,201.9 316.9,203.0 318.9,198.0 314.6,197.6" fill="none"/><polygon points="316.9,203.0 321.4,203.0 323.4,198.8 318.9,198.0" fill="#00eaea"/><polygon points="321.4,203.0 326.0,204.1 327.9,201.1 323.4,198.8" fill="#14ffff"/><polygon points="326.0,204.1 330.7,205.3 332.7,201.2" fill="#07ffff" stroke-width="0.3"/><polygon points="326.0,204.1 332.7,201.2 327.9,201.1" fill="#00eaea" stroke-width="0.3"/><polygon points="326.0,204.1 330.7,205.3 332.7,201.2 327.9,201.1" fill="none"/><polygon points="330.7,205.3 335.6,206.8 332.7,201.2" fill="#1affff" stroke-width="0.3"/><polygon points="335.6,206.8 337.5,202.4 332.7,201.2" fill="#00f9f9" stroke-width="0.3"/><polygon points="330.7,205.3 335.6,206.8 337.5,202.4 332.7,201.2" fill="none"/><polygon points="335.6,206.8 340.6,204.9 337.5,202.4" fill="#00eaaf" stroke-width="0.3"/><polygon points="340.6,204.9 342.6,202.9 337.5,202.4" fill="#00eaaf" stroke-width="0.3"/><polygon points="335.6,206.8 340.6,204.9 342.6,202.9 337.5,202.4" fill="none"/><polygon points="340.6,204.9 345.8,203.5 347.7,201.2 342.6,202.9" fill="#00ea75"/><polygon points="345.8,203.5 351.1,206.0 353.1,204.6 347.7,201.2" fill="#00ea75"/><polygon points="351.1,206.0 356.5,213.0 353.1,204.6" fill="#01ffbf" stroke-width="0.3"/><polygon points="356.5,213.0 358.5,210.1 353.1,204.6" fill="#1cffc6" stroke-width="0.3"/><polygon points="351.1,206.0 356.5,213.0 358.5,210.1 353.1,204.6" fill="none"/><polygon points="356.5,213.0 361.9,216.8 363.9,213.6" fill="#1cffff" stroke-width="0.3"/><polygon points="356.5,213.0 363.9,213.6 358.5,210.1" fill="#00efef" stroke-width="0.3"/><polygon points="356.5,213.0 361.9,216.8 363.9,213.6 358.5,210.1" fill="none"/><polygon points="361.9,216.8 367.3,218.5 369.3,214.9 363.9,213.6" fill="#00b8f6"/><polygon points="39.9,117.6 44.7,119.9 46.6,117.3 41.8,115.2" fill="#00ea75"/><polygon points="44.7,119.9 49.5,120.7 51.5,117.7 46.6,117.3" fill="#00ea75"/><polygon points="49.5,120.7 54.3,121.3 56.3,117.5 51.5,117.7" fill="#00ea75"/><polygon points="54.3,121.3 59.1,122.1 61.1,118.0 56.3,117.5" fill="#00ea3a"/><polygon points="59.1,122.1 63.9,122.4 65.9,118.6 61.1,118.0" fill="#00ea3a"/><polygon points="63.9,122.4 68.7,123.7 70.7,120.6 65.9,118.6" fill="#10ff4c"/><polygon points="68.7,123.7 73.5,125.7 75.5,122.6 70.7,120.6" fill="#00fc3f"/><polygon points="73.5,125.7 78.3,126.4 80.2,123.3 75.5,122.6" fill="#00ea3a"/><polygon points="78.3,126.4 83.0,127.1 85.0,123.9 80.2,123.3" fill="#00ea3a"/><polygon points="83.0,127.1 87.7,128.1 89.7,124.1 85.0,123.9" fill="#00ea00"/><polygon points="87.7,128.1 92.5,129.0 94.4,124.7 89.7,124.1" fill="#00ed00"/><polygon points="92.5,129.0 97.2,130.2 99.1,126.4 94.4,124.7" fill="#00fe00"/><polygon points="97.2,130.2 101.8,132.2 103.8,129.3 99.1,126.4" fill="#0fff0f"/><polygon points="101.8,132.2 106.5,134.8 108.5,132.0 103.8,129.3" fill="#1eff1e"/><polygon points="106.5,134.8 111.2,140.5 113.1,136.9 108.5,132.0" fill="#19ff8c"/><polygon points="111.2,140.5 115.8,146.7 117.8,143.0 113.1,136.9" fill="#1bffc6"/><polygon points="115.8,146.7 120.4,150.3 122.4,147.3 117.8,143.0" fill="#34ccff"/><polygon points="120.4,150.3 125.0,152.8 127.0,150.1 122.4,147.3" fill="#168aff"/><polygon points="125.0,152.8 129.6,155.8 131.6,153.2 127.0,150.1" fill="#0280ff"/><polygon points="129.6,155.8 134.2,158.3 136.2,155.2 131.6,153.2" fill="#134eff"/><polygon points="134.2,158.3 138.8,158.5 140.8,155.3 136.2,155.2" fill="#003aea"/><polygon points="138.8,158.5 143.3,154.1 145.3,150.4 140.8,155.3" fill="#00afea"/><polygon points="143.3,154.1 147.9,148.2 149.8,144.0 145.3,150.4" fill="#00ea75"/><polygon points="147.9,148.2 152.4,144.0 154.4,139.8 149.8,144.0" fill="#00ea00"/><polygon points="152.4,144.0 156.9,140.5 158.9,136.1 154.4,139.8" fill="#75ea00"/><polygon points="156.9,140.5 161.4,137.1 163.4,133.4 158.9,136.1" fill="#eaea00"/><polygon points="161.4,137.1 165.9,133.6 167.8,130.2 163.4,133.4" fill="#ea7500"/><polygon points="165.9,133.6 170.3,132.1 172.3,128.7 167.8,130.2" fill="#ea0000"/><polygon points="170.3,132.1 174.8,133.1 176.8,129.1 172.3,128.7" fill="#ea0000"/><polygon points="174.8,133.1 179.2,134.7 181.2,130.9 176.8,129.1" fill="#ff0a0a"/><polygon points="179.2,134.7 183.6,136.0 185.6,132.7 181.2,130.9" fill="#ff0c0c"/><polygon points="183.6,136.0 188.0,138.9 190.0,135.3 185.6,132.7" fill="#ff1e1e"/><polygon points="188.0,138.9 192.4,143.0 194.4,139.5 190.0,135.3" fill="#ff6a38"/><polygon points="192.4,143.0 196.8,145.6 198.8,142.3 194.4,139.5" fill="#ff8d1c"/><polygon points="196.8,145.6 201.2,147.1 203.1,143.6 198.8,142.3" fill="#ff8205"/><polygon points="201.2,147.1 205.5,149.6 207.5,145.6 203.1,143.6" fill="#ff8914"/><polygon points="205.5,149.6 209.9,152.4 211.8,148.6 207.5,145.6" fill="#ffd24c"/><polygon points="209.9,152.4 214.2,156.0 216.2,152.1 211.8,148.6" fill="#ffce3c"/><polygon points="214.2,156.0 218.5,158.1 220.5,154.3 216.2,152.1" fill="#ffff33"/><polygon points="218.5,158.1 222.8,159.5 224.8,156.1 220.5,154.3" fill="#ffff0b"/><polygon points="222.8,159.5 227.1,161.8 229.0,158.8 224.8,156.1" fill="#c9ff27"/><polygon points="227.1,161.8 231.3,165.9 233.3,163.1 229.0,158.8" fill="#9eff3e"/><polygon points="231.3,165.9 235.6,171.1 237.6,168.1 233.3,163.1" fill="#41ff01"/><polygon points="235.6,171.1 239.8,177.5 241.8,174.0 237.6,168.1" fill="#13ff4e"/><polygon points="239.8,177.5 244.1,180.8 246.0,177.6 241.8,174.0" fill="#2cff95"/><polygon points="244.1,180.8 248.3,182.8 250.2,180.2 246.0,177.6" fill="#14ffc4"/><polygon points="248.3,182.8 252.5,185.8 254.4,182.9 250.2,180.2" fill="#1effc6"/><polygon points="252.5,185.8 256.7,188.9 258.6,185.2 254.4,182.9" fill="#1affff"/><polygon points="256.7,188.9 260.8,191.0 262.8,187.0 258.6,185.2" fill="#1cc6ff"/><polygon points="260.8,191.0 265.0,193.0 267.0,189.2 262.8,187.0" fill="#1fc7ff"/><polygon points="265.0,193.0 269.1,195.7 271.1,192.5 267.0,189.2" fill="#35ccff"/><polygon points="269.1,195.7 273.3,202.7 275.2,199.4 271.1,192.5" fill="#235aff"/><polygon points="273.3,202.7 277.4,205.3 279.4,201.7 275.2,199.4" fill="#2525ff"/><polygon points="277.4,205.3 281.5,206.4 283.5,202.8 279.4,201.7" fill="#0000ec"/><polygon points="281.5,206.4 285.6,205.4 287.6,202.0 283.5,202.8" fill="#0000ea"/><polygon points="285.6,205.4 289.7,203.8 291.6,201.0 287.6,202.0" fill="#003aea"/><polygon points="289.7,203.8 293.8,205.4 295.7,202.8 291.6,201.0" fill="#0745ff"/><polygon points="293.8,205.4 297.9,206.1 299.9,203.9 295.7,202.8" fill="#003aea"/><polygon points="297.9,206.1 302.1,206.1 304.1,203.9 299.9,203.9" fill="#003aea"/><polygon points="302.1,206.1 306.3,204.1 308.3,201.0 304.1,203.9" fill="#00afea"/><polygon points="306.3,204.1 310.6,205.3 312.6,201.9 308.3,201.0" fill="#00afea"/><polygon points="310.6,205.3 315.0,205.8 316.9,203.0" fill="#00eaea" stroke-width="0.3"/><polygon points="310.6,205.3 316.9,203.0 312.6,201.9" fill="#00b6f3" stroke-width="0.3"/><polygon points="310.6,205.3 315.0,205.8 316.9,203.0 312.6,201.9" fill="none"/><polygon points="315.0,205.8 319.4,207.3 316.9,203.0" fill="#00f6f6" stroke-width="0.3"/><polygon points="319.4,207.3 321.4,203.0 316.9,203.0" fill="#00eaea" stroke-width="0.3"/><polygon points="315.0,205.8 319.4,207.3 321.4,203.0 316.9,203.0" fill="none"/><polygon points="319.4,207.3 324.0,208.0 326.0,204.1 321.4,203.0" fill="#00ebeb"/><polygon points="324.0,208.0 328.7,208.7 330.7,205.3 326.0,204.1" fill="#00eaea"/><polygon points="328.7,208.7 333.6,211.7 335.6,206.8 330.7,205.3" fill="#2affff"/><polygon points="333.6,211.7 338.6,209.7 340.6,204.9 335.6,206.8" fill="#00eaaf"/><polygon points="338.6,209.7 343.8,206.7 345.8,203.5 340.6,204.9" fill="#00ea75"/><polygon points="343.8,206.7 349.1,208.5 351.1,206.0 345.8,203.5" fill="#07ff45"/><polygon points="349.1,208.5 354.5,214.9 356.5,213.0 351.1,206.0" fill="#30ff97"/><polygon points="354.5,214.9 359.9,218.9 361.9,216.8 356.5,213.0" fill="#01ffff"/><polygon points="359.9,218.9 365.3,221.7 367.3,218.5 361.9,216.8" fill="#00bcfb"/><polygon points="37.9,119.6 42.7,122.3 44.7,119.9 39.9,117.6" fill="#00ed76"/><polygon points="42.7,122.3 47.5,123.8 49.5,120.7 44.7,119.9" fill="#00ea75"/><polygon points="47.5,123.8 52.3,124.8 54.3,121.3 49.5,120.7" fill="#00ea75"/><polygon points="52.3,124.8 57.2,125.6 59.1,122.1 54.3,121.3" fill="#00fd3f"/><polygon points="57.2,125.6 62.0,126.4 63.9,122.4 59.1,122.1" fill="#00ea3a"/><polygon points="62.0,126.4 66.8,128.2 68.7,123.7 63.9,122.4" fill="#24ff5a"/><polygon points="66.8,128.2 71.5,129.7 73.5,125.7 68.7,123.7" fill="#1eff56"/><polygon points="71.5,129.7 76.3,129.7 78.3,126.4 73.5,125.7" fill="#00ea3a"/><polygon points="76.3,129.7 81.0,129.8 83.0,127.1 78.3,126.4" fill="#00ea00"/><polygon points="81.0,129.8 85.8,130.9 87.7,128.1 83.0,127.1" fill="#00ea00"/><polygon points="85.8,130.9 90.5,131.7 92.5,129.0 87.7,128.1" fill="#00ea00"/><polygon points="90.5,131.7 95.2,132.4 97.2,130.2 92.5,129.0" fill="#00ea00"/><polygon points="95.2,132.4 99.9,134.9 101.8,132.2 97.2,130.2" fill="#00ee00"/><polygon points="99.9,134.9 104.5,138.4 106.5,134.8 101.8,132.2" fill="#2dff2d"/><polygon points="104.5,138.4 109.2,144.7 111.2,140.5 106.5,134.8" fill="#28ff93"/><polygon points="109.2,144.7 113.8,151.1 115.8,146.7 111.2,140.5" fill="#3bffff"/><polygon points="113.8,151.1 118.5,154.6 120.4,150.3 115.8,146.7" fill="#3bceff"/><polygon points="118.5,154.6 123.1,157.3 125.0,152.8 120.4,150.3" fill="#3e9eff"/><polygon points="123.1,157.3 127.7,160.0 129.6,155.8 125.0,152.8" fill="#399cff"/><polygon points="127.7,160.0 132.2,162.2 134.2,158.3 129.6,155.8" fill="#1751ff"/><polygon points="132.2,162.2 136.8,162.1 138.8,158.5 134.2,158.3" fill="#003aea"/><polygon points="136.8,162.1 141.4,158.7 143.3,154.1 138.8,158.5" fill="#00afea"/><polygon points="141.4,158.7 145.9,153.2 147.9,148.2 143.3,154.1" fill="#00eaaf"/><polygon points="145.9,153.2 150.4,148.4 152.4,144.0 147.9,148.2" fill="#00ea00"/><polygon points="150.4,148.4 154.9,144.7 156.9,140.5 152.4,144.0" fill="#75ea00"/><polygon points="154.9,144.7 159.4,141.0 161.4,137.1 156.9,140.5" fill="#eaea00"/><polygon points="159.4,141.0 163.9,137.7 165.9,133.6 161.4,137.1" fill="#ea7500"/><polygon points="163.9,137.7 168.4,136.6 170.3,132.1 165.9,133.6" fill="#ea0000"/><polygon points="168.4,136.6 172.8,136.9 174.8,133.1 170.3,132.1" fill="#ea0000"/><polygon points="172.8,136.9 177.3,138.0 179.2,134.7 174.8,133.1" fill="#f70000"/><polygon points="177.3,138.0 181.7,139.4 183.6,136.0 179.2,134.7" fill="#ff0606"/><polygon points="181.7,139.4 186.1,142.8 188.0,138.9 183.6,136.0" fill="#ff2929"/><polygon points="186.1,142.8 190.5,147.0 192.4,143.0 188.0,138.9" fill="#ff6330"/><polygon points="190.5,147.0 194.9,149.1 196.8,145.6 192.4,143.0" fill="#ff9328"/><polygon points="194.9,149.1 199.2,150.8 201.2,147.1 196.8,145.6" fill="#ff840a"/><polygon points="199.2,150.8 203.6,154.6 205.5,149.6 201.2,147.1" fill="#ff9a36"/><polygon points="203.6,154.6 207.9,157.9 209.9,152.4 205.5,149.6" fill="#ffcd3a"/><polygon points="207.9,157.9 212.2,160.6 214.2,156.0 209.9,152.4" fill="#ffff35"/><polygon points="212.2,160.6 216.5,162.5 218.5,158.1 214.2,156.0" fill="#ffff21"/><polygon points="216.5,162.5 220.8,163.4 222.8,159.5 218.5,158.1" fill="#bfff00"/><polygon points="220.8,163.4 225.1,165.4 227.1,161.8 222.8,159.5" fill="#c2ff0e"/><polygon points="225.1,165.4 229.4,169.6 231.3,165.9 227.1,161.8" fill="#c2ff0e"/><polygon points="229.4,169.6 233.6,174.9 235.6,171.1 231.3,165.9" fill="#5eff28"/><polygon points="233.6,174.9 237.9,181.0 239.8,177.5 235.6,171.1" fill="#1bff54"/><polygon points="237.9,181.0 242.1,184.4 244.1,180.8 239.8,177.5" fill="#1bff8d"/><polygon points="242.1,184.4 246.3,186.5 248.3,182.8 244.1,180.8" fill="#24ffc8"/><polygon points="246.3,186.5 250.5,189.7 252.5,185.8 248.3,182.8" fill="#32ffcb"/><polygon points="250.5,189.7 254.7,193.4 256.7,188.9 252.5,185.8" fill="#27ffff"/><polygon points="254.7,193.4 258.9,195.5 260.8,191.0 256.7,188.9" fill="#41cfff"/><polygon points="258.9,195.5 263.0,197.0 265.0,193.0 260.8,191.0" fill="#23c8ff"/><polygon points="263.0,197.0 267.2,199.2 269.1,195.7 265.0,193.0" fill="#2ccaff"/><polygon points="267.2,199.2 271.3,205.6 273.3,202.7 269.1,195.7" fill="#245aff"/><polygon points="271.3,205.6 275.4,208.3 277.4,205.3 273.3,202.7" fill="#1717ff"/><polygon points="275.4,208.3 279.5,209.4 281.5,206.4 277.4,205.3" fill="#0000ea"/><polygon points="279.5,209.4 283.6,208.8 285.6,205.4 281.5,206.4" fill="#0000ea"/><polygon points="283.6,208.8 287.7,207.6 289.7,203.8 285.6,205.4" fill="#003aea"/><polygon points="287.7,207.6 291.8,208.7 293.8,205.4 289.7,203.8" fill="#003fff"/><polygon points="291.8,208.7 295.9,208.8 297.9,206.1 293.8,205.4" fill="#0075ea"/><polygon points="295.9,208.8 300.1,209.1 302.1,206.1 297.9,206.1" fill="#0075ea"/><polygon points="300.1,209.1 304.4,206.8 306.3,204.1 302.1,206.1" fill="#00afea"/><polygon points="304.4,206.8 308.7,207.5 310.6,205.3 306.3,204.1" fill="#00eaea"/><polygon points="308.7,207.5 313.0,208.4 310.6,205.3" fill="#00eaea" stroke-width="0.3"/><polygon points="313.0,208.4 315.0,205.8 310.6,205.3" fill="#00eaea" stroke-width="0.3"/><polygon points="308.7,207.5 313.0,208.4 315.0,205.8 310.6,205.3" fill="none"/><polygon points="313.0,208.4 317.4,210.3 315.0,205.8" fill="#00eaea" stroke-width="0.3"/><polygon points="317.4,210.3 319.4,207.3 315.0,205.8" fill="#00eaea" stroke-width="0.3"/><polygon points="313.0,208.4 317.4,210.3 319.4,207.3 315.0,205.8" fill="none"/><polygon points="317.4,210.3 322.0,210.9 324.0,208.0 319.4,207.3" fill="#00eaea"/><polygon points="322.0,210.9 326.7,211.9 328.7,208.7 324.0,208.0" fill="#00fdfd"/><polygon points="326.7,211.9 331.6,214.7 333.6,211.7 328.7,208.7" fill="#20ffff"/><polygon points="331.6,214.7 336.6,214.5 338.6,209.7 333.6,211.7" fill="#00eaea"/><polygon points="336.6,214.5 341.8,213.3 343.8,206.7 338.6,209.7" fill="#00ea75"/><polygon points="341.8,213.3 347.2,214.9 349.1,208.5 343.8,206.7" fill="#0cff85"/><polygon points="347.2,214.9 352.6,218.9 354.5,214.9 349.1,208.5" fill="#44ffa1"/><polygon points="352.6,218.9 358.0,221.1 359.9,218.9 354.5,214.9" fill="#20ffff"/><polygon points="358.0,221.1 363.4,222.8 365.3,221.7 359.9,218.9" fill="#00ecec"/><polygon points="35.9,121.6 40.7,124.3 42.7,122.3 37.9,119.6" fill="#00ef3b"/><polygon points="40.7,124.3 45.6,126.9 47.5,123.8 42.7,122.3" fill="#00ed3b"/><polygon points="45.6,126.9 50.4,128.5 52.3,124.8 47.5,123.8" fill="#00f67b"/><polygon points="50.4,128.5 55.2,129.7 57.2,125.6 52.3,124.8" fill="#00fd3f"/><polygon points="55.2,129.7 60.0,130.5 62.0,126.4 57.2,125.6" fill="#00ea3a"/><polygon points="60.0,130.5 64.8,131.9 66.8,128.2 62.0,126.4" fill="#00f73d"/><polygon points="64.8,131.9 69.6,133.2 71.5,129.7 66.8,128.2" fill="#09ff46"/><polygon points="69.6,133.2 74.3,133.8 76.3,129.7 71.5,129.7" fill="#00ea3a"/><polygon points="74.3,133.8 79.1,133.7 81.0,129.8 76.3,129.7" fill="#00ea00"/><polygon points="79.1,133.7 83.8,134.4 85.8,130.9 81.0,129.8" fill="#00ea00"/><polygon points="83.8,134.4 88.5,134.9 90.5,131.7 85.8,130.9" fill="#00ea00"/><polygon points="88.5,134.9 93.2,135.3 95.2,132.4 90.5,131.7" fill="#3aea00"/><polygon points="93.2,135.3 97.9,138.2 99.9,134.9 95.2,132.4" fill="#55ff1c"/><polygon points="97.9,138.2 102.6,142.9 104.5,138.4 99.9,134.9" fill="#28ff28"/><polygon points="102.6,142.9 107.2,149.9 109.2,144.7 104.5,138.4" fill="#40ff9f"/><polygon points="107.2,149.9 111.9,155.9 113.8,151.1 109.2,144.7" fill="#21ffff"/><polygon points="111.9,155.9 116.5,159.5 118.5,154.6 113.8,151.1" fill="#35ccff"/><polygon points="116.5,159.5 121.1,162.5 123.1,157.3 118.5,154.6" fill="#2893ff"/><polygon points="121.1,162.5 125.7,164.7 127.7,160.0 123.1,157.3" fill="#3164ff"/><polygon points="125.7,164.7 130.3,165.8 132.2,162.2 127.7,160.0" fill="#0d4aff"/><polygon points="130.3,165.8 134.8,165.5 136.8,162.1 132.2,162.2" fill="#003aea"/><polygon points="134.8,165.5 139.4,164.0 141.4,158.7 136.8,162.1" fill="#0075ea"/><polygon points="139.4,164.0 143.9,159.7 145.9,153.2 141.4,158.7" fill="#00eaea"/><polygon points="143.9,159.7 148.5,155.1 150.4,148.4 145.9,153.2" fill="#00ea3a"/><polygon points="148.5,155.1 153.0,151.0 154.9,144.7 150.4,148.4" fill="#3aea00"/><polygon points="153.0,151.0 157.5,146.5 159.4,141.0 154.9,144.7" fill="#eaea00"/><polygon points="157.5,146.5 161.9,142.7 163.9,137.7 159.4,141.0" fill="#ea7500"/><polygon points="161.9,142.7 166.4,141.0 168.4,136.6 163.9,137.7" fill="#ea3a00"/><polygon points="166.4,141.0 170.9,140.4 172.8,136.9 168.4,136.6" fill="#ea0000"/><polygon points="170.9,140.4 175.3,140.7 177.3,138.0 172.8,136.9" fill="#ea0000"/><polygon points="175.3,140.7 179.7,142.2 181.7,139.4 177.3,138.0" fill="#ea0000"/><polygon points="179.7,142.2 184.1,146.4 186.1,142.8 181.7,139.4" fill="#ff3636"/><polygon points="184.1,146.4 188.5,150.9 190.5,147.0 186.1,142.8" fill="#ff612c"/><polygon points="188.5,150.9 192.9,152.8 194.9,149.1 190.5,147.0" fill="#ff860e"/><polygon points="192.9,152.8 197.3,155.0 199.2,150.8 194.9,149.1" fill="#ff8e1d"/><polygon points="197.3,155.0 201.6,159.5 203.6,154.6 199.2,150.8" fill="#ffcb2f"/><polygon points="201.6,159.5 205.9,162.9 207.9,157.9 203.6,154.6" fill="#ffff4a"/><polygon points="205.9,162.9 210.3,164.7 212.2,160.6 207.9,157.9" fill="#ffff2a"/><polygon points="210.3,164.7 214.6,166.8 216.5,162.5 212.2,160.6" fill="#c9ff29"/><polygon points="214.6,166.8 218.9,168.0 220.8,163.4 216.5,162.5" fill="#b3ef00"/><polygon points="218.9,168.0 223.1,169.7 225.1,165.4 220.8,163.4" fill="#c9ff29"/><polygon points="223.1,169.7 227.4,173.7 229.4,169.6 225.1,165.4" fill="#a4ff4a"/><polygon points="227.4,173.7 231.7,178.5 233.6,174.9 229.4,169.6" fill="#74ff46"/><polygon points="231.7,178.5 235.9,184.3 237.9,181.0 233.6,174.9" fill="#0eff4a"/><polygon points="235.9,184.3 240.1,188.1 242.1,184.4 237.9,181.0" fill="#25ff92"/><polygon points="240.1,188.1 244.3,191.0 246.3,186.5 242.1,184.4" fill="#2bffca"/><polygon points="244.3,191.0 248.5,194.0 250.5,189.7 246.3,186.5" fill="#38ffff"/><polygon points="248.5,194.0 252.7,197.4 254.7,193.4 250.5,189.7" fill="#2cffff"/><polygon points="252.7,197.4 256.9,199.7 258.9,195.5 254.7,193.4" fill="#39cdff"/><polygon points="256.9,199.7 261.0,201.5 263.0,197.0 258.9,195.5" fill="#1ac5ff"/><polygon points="261.0,201.5 265.2,203.4 267.2,199.2 263.0,197.0" fill="#389bff"/><polygon points="265.2,203.4 269.3,209.0 271.3,205.6 267.2,199.2" fill="#3c6cff"/><polygon points="269.3,209.0 273.4,211.5 275.4,208.3 271.3,205.6" fill="#2525ff"/><polygon points="273.4,211.5 277.5,212.9 279.5,209.4 275.4,208.3" fill="#0909ff"/><polygon points="277.5,212.9 281.6,213.2 283.6,208.8 279.5,209.4" fill="#0000ea"/><polygon points="281.6,213.2 285.7,212.3 287.7,207.6 283.6,208.8" fill="#003aea"/><polygon points="285.7,212.3 289.8,212.5 287.7,207.6" fill="#003aea" stroke-width="0.3"/><polygon points="289.8,212.5 291.8,208.7 287.7,207.6" fill="#0241ff" stroke-width="0.3"/><polygon points="285.7,212.3 289.8,212.5 291.8,208.7 287.7,207.6" fill="none"/><polygon points="289.8,212.5 293.9,212.3 295.9,208.8 291.8,208.7" fill="#0075ea"/><polygon points="293.9,212.3 298.1,212.3 300.1,209.1 295.9,208.8" fill="#0075ea"/><polygon points="298.1,212.3 302.4,209.3 304.4,206.8 300.1,209.1" fill="#00afea"/><polygon points="302.4,209.3 306.7,209.3 308.7,207.5 304.4,206.8" fill="#00eaea"/><polygon points="306.7,209.3 311.0,211.1 313.0,208.4 308.7,207.5" fill="#00eaea"/><polygon points="311.0,211.1 315.5,212.7 317.4,210.3" fill="#00eaea" stroke-width="0.3"/><polygon points="311.0,211.1 317.4,210.3 313.0,208.4" fill="#00fcfc" stroke-width="0.3"/><polygon points="311.0,211.1 315.5,212.7 317.4,210.3 313.0,208.4" fill="none"/><polygon points="315.5,212.7 320.0,213.0 322.0,210.9 317.4,210.3" fill="#00eaea"/><polygon points="320.0,213.0 324.8,216.1 326.7,211.9 322.0,210.9" fill="#00ffff"/><polygon points="324.8,216.1 329.6,218.6 331.6,214.7 326.7,211.9" fill="#35ffff"/><polygon points="329.6,218.6 334.7,220.3 336.6,214.5 331.6,214.7" fill="#0effff"/><polygon points="334.7,220.3 339.8,218.8 341.8,213.3 336.6,214.5" fill="#00eaaf"/><polygon points="339.8,218.8 345.2,218.8 347.2,214.9 341.8,213.3" fill="#00eaaf"/><polygon points="345.2,218.8 350.6,222.3 352.6,218.9 347.2,214.9" fill="#33ffcc"/><polygon points="350.6,222.3 356.0,223.2 358.0,221.1 352.6,218.9" fill="#00eaaf"/><polygon points="356.0,223.2 361.4,224.9 363.4,222.8 358.0,221.1" fill="#00eaaf"/><polygon points="33.9,123.6 38.8,126.1 40.7,124.3 35.9,121.6" fill="#00f600"/><polygon points="38.8,126.1 43.6,129.3 45.6,126.9 40.7,124.3" fill="#06ff44"/><polygon points="43.6,129.3 48.4,131.4 50.4,128.5 45.6,126.9" fill="#05ff43"/><polygon points="48.4,131.4 53.2,133.8 55.2,129.7 50.4,128.5" fill="#01ff40"/><polygon points="53.2,133.8 58.0,134.8 60.0,130.5 55.2,129.7" fill="#00ec3b"/><polygon points="58.0,134.8 62.8,134.9 64.8,131.9 60.0,130.5" fill="#00ea3a"/><polygon points="62.8,134.9 67.6,136.3 69.6,133.2 64.8,131.9" fill="#00fa3e"/><polygon points="67.6,136.3 72.4,137.8 74.3,133.8 69.6,133.2" fill="#00f83e"/><polygon points="72.4,137.8 77.1,138.1 79.1,133.7 74.3,133.8" fill="#00ea3a"/><polygon points="77.1,138.1 81.8,138.2 83.8,134.4 79.1,133.7" fill="#00ea00"/><polygon points="81.8,138.2 86.5,138.3 88.5,134.9 83.8,134.4" fill="#00ea00"/><polygon points="86.5,138.3 91.2,138.7 93.2,135.3 88.5,134.9" fill="#3aea00"/><polygon points="91.2,138.7 95.9,142.0 97.9,138.2 93.2,135.3" fill="#5bff24"/><polygon points="95.9,142.0 100.6,147.3 102.6,142.9 97.9,138.2" fill="#3fff3f"/><polygon points="100.6,147.3 105.3,154.2 107.2,149.9 102.6,142.9" fill="#34ff99"/><polygon points="105.3,154.2 109.9,160.2 111.9,155.9 107.2,149.9" fill="#4bffff"/><polygon points="109.9,160.2 114.5,163.6 116.5,159.5 111.9,155.9" fill="#2994ff"/><polygon points="114.5,163.6 119.1,166.6 121.1,162.5 116.5,159.5" fill="#3a6bff"/><polygon points="119.1,166.6 123.7,168.6 125.7,164.7 121.1,162.5" fill="#3366ff"/><polygon points="123.7,168.6 128.3,169.4 130.3,165.8 125.7,164.7" fill="#003aea"/><polygon points="128.3,169.4 132.9,169.4 134.8,165.5 130.3,165.8" fill="#003aea"/><polygon points="132.9,169.4 137.4,169.3 139.4,164.0 134.8,165.5" fill="#0075ea"/><polygon points="137.4,169.3 142.0,166.1 143.9,159.7 139.4,164.0" fill="#00eaea"/><polygon points="142.0,166.1 146.5,162.5 148.5,155.1 143.9,159.7" fill="#00ea75"/><polygon points="146.5,162.5 151.0,158.4 153.0,151.0 148.5,155.1" fill="#00ea00"/><polygon points="151.0,158.4 155.5,153.1 157.5,146.5 153.0,151.0" fill="#75ea00"/><polygon points="155.5,153.1 160.0,147.9 161.9,142.7 157.5,146.5" fill="#eaaf00"/><polygon points="160.0,147.9 164.4,145.5 166.4,141.0 161.9,142.7" fill="#ea3a00"/><polygon points="164.4,145.5 168.9,144.3 170.9,140.4 166.4,141.0" fill="#ea0000"/><polygon points="168.9,144.3 173.3,143.7 175.3,140.7 170.9,140.4" fill="#ea0000"/><polygon points="173.3,143.7 177.8,145.1 179.7,142.2 175.3,140.7" fill="#f40000"/><polygon points="177.8,145.1 182.2,149.3 184.1,146.4 179.7,142.2" fill="#ff1616"/><polygon points="182.2,149.3 186.5,153.8 188.5,150.9 184.1,146.4" fill="#ff6735"/><polygon points="186.5,153.8 190.9,156.0 192.9,152.8 188.5,150.9" fill="#f77b00"/><polygon points="190.9,156.0 195.3,159.0 197.3,155.0 192.9,152.8" fill="#ff9225"/><polygon points="195.3,159.0 199.6,164.1 201.6,159.5 197.3,155.0" fill="#ffcb32"/><polygon points="199.6,164.1 204.0,167.3 205.9,162.9 201.6,159.5" fill="#ffff46"/><polygon points="204.0,167.3 208.3,168.3 210.3,164.7 205.9,162.9" fill="#befd00"/><polygon points="208.3,168.3 212.6,170.1 214.6,166.8 210.3,164.7" fill="#c1ff08"/><polygon points="212.6,170.1 216.9,172.2 218.9,168.0 214.6,166.8" fill="#c3ff11"/><polygon points="216.9,172.2 221.2,174.2 223.1,169.7 218.9,168.0" fill="#c5ff1a"/><polygon points="221.2,174.2 225.4,178.6 227.4,173.7 223.1,169.7" fill="#9fff40"/><polygon points="225.4,178.6 229.7,183.1 231.7,178.5 227.4,173.7" fill="#73ff44"/><polygon points="229.7,183.1 233.9,188.4 235.9,184.3 231.7,178.5" fill="#34ff66"/><polygon points="233.9,188.4 238.1,192.2 240.1,188.1 235.9,184.3" fill="#44ffa1"/><polygon points="238.1,192.2 242.4,195.4 244.3,191.0 240.1,188.1" fill="#30ffcb"/><polygon points="242.4,195.4 246.6,198.5 248.5,194.0 244.3,191.0" fill="#4cffff"/><polygon points="246.6,198.5 250.7,202.0 252.7,197.4 248.5,194.0" fill="#49d1ff"/><polygon points="250.7,202.0 254.9,204.5 256.9,199.7 252.7,197.4" fill="#37cdff"/><polygon points="254.9,204.5 259.1,205.4 261.0,201.5 256.9,199.7" fill="#007dfa"/><polygon points="259.1,205.4 263.2,206.6 265.2,203.4 261.0,201.5" fill="#0280ff"/><polygon points="263.2,206.6 267.3,212.3 269.3,209.0 265.2,203.4" fill="#154fff"/><polygon points="267.3,212.3 271.4,214.6 273.4,211.5 269.3,209.0" fill="#1717ff"/><polygon points="271.4,214.6 275.6,215.8 277.5,212.9 273.4,211.5" fill="#0000ea"/><polygon points="275.6,215.8 279.6,216.8 281.6,213.2 277.5,212.9" fill="#0000ea"/><polygon points="279.6,216.8 283.7,216.3 285.7,212.3 281.6,213.2" fill="#0000ea"/><polygon points="283.7,216.3 287.8,216.0 289.8,212.5 285.7,212.3" fill="#003aea"/><polygon points="287.8,216.0 292.0,216.0 293.9,212.3 289.8,212.5" fill="#0075ea"/><polygon points="292.0,216.0 296.2,216.2 298.1,212.3 293.9,212.3" fill="#0075ea"/><polygon points="296.2,216.2 300.4,212.7 302.4,209.3 298.1,212.3" fill="#00afea"/><polygon points="300.4,212.7 304.7,211.8 306.7,209.3" fill="#00eaaf" stroke-width="0.3"/><polygon points="300.4,212.7 306.7,209.3 302.4,209.3" fill="#00eaea" stroke-width="0.3"/><polygon points="300.4,212.7 304.7,211.8 306.7,209.3 302.4,209.3" fill="none"/><polygon points="304.7,211.8 309.1,213.4 311.0,211.1 306.7,209.3" fill="#00eaaf"/><polygon points="309.1,213.4 313.5,216.1 315.5,212.7 311.0,211.1" fill="#00fcbd"/><polygon points="313.5,216.1 318.1,217.3 320.0,213.0 315.5,212.7" fill="#04ffc0"/><polygon points="318.1,217.3 322.8,220.4 320.0,213.0" fill="#3cffff" stroke-width="0.3"/><polygon points="322.8,220.4 324.8,216.1 320.0,213.0" fill="#36ffff" stroke-width="0.3"/><polygon points="318.1,217.3 322.8,220.4 324.8,216.1 320.0,213.0" fill="none"/><polygon points="322.8,220.4 327.7,221.3 324.8,216.1" fill="#00eaea" stroke-width="0.3"/><polygon points="327.7,221.3 329.6,218.6 324.8,216.1" fill="#00fbfb" stroke-width="0.3"/><polygon points="322.8,220.4 327.7,221.3 329.6,218.6 324.8,216.1" fill="none"/><polygon points="327.7,221.3 332.7,223.9 334.7,220.3" fill="#3effff" stroke-width="0.3"/><polygon points="327.7,221.3 334.7,220.3 329.6,218.6" fill="#02ffff" stroke-width="0.3"/><polygon points="327.7,221.3 332.7,223.9 334.7,220.3 329.6,218.6" fill="none"/><polygon points="332.7,223.9 337.9,224.0 339.8,218.8 334.7,220.3" fill="#00eaea"/><polygon points="337.9,224.0 343.2,222.3 345.2,218.8 339.8,218.8" fill="#00eaaf"/><polygon points="343.2,222.3 348.6,225.6 350.6,222.3 345.2,218.8" fill="#2affc9"/><polygon points="348.6,225.6 354.0,227.4 356.0,223.2 350.6,222.3" fill="#00eaaf"/><polygon points="354.0,227.4 359.4,226.5 356.0,223.2" fill="#00eaaf" stroke-width="0.3"/><polygon points="359.4,226.5 361.4,224.9 356.0,223.2" fill="#00eaaf" stroke-width="0.3"/><polygon points="354.0,227.4 359.4,226.5 361.4,224.9 356.0,223.2" fill="none"/></g>
<polygon points="63.5,115.0 72.5,104.0 81.0,93.0 90.0,80.5 96.0,69.0 100.0,63.0 102.0,54.0 107.0,47.5 110.0,41.0 116.0,32.5 123.5,28.7 131.0,27.5 142.0,26.7 151.0,31.0 158.5,37.5 165.0,45.0 172.5,53.7 180.0,58.7 190.0,60.0 200.0,56.2 207.5,51.2 215.0,47.5 225.0,45.7 232.5,45.7 242.5,48.0 250.0,52.0 260.0,58.7 270.0,67.5 280.0,76.2 290.0,85.0 300.0,92.5 310.0,98.7 318.7,103.7 327.5,106.2 337.5,108.7 346.0,113.7 353.7,113.7 363.7,111.2 368.7,115.0 382.5,116.2 393.7,117.5 402.5,122.5 396.0,133.7 391.0,141.0 387.0,148.7 381.5,157.5 377.0,166.0 372.0,172.5 367.0,182.5 363.7,190.0 360.0,198.7 356.0,203.7 351.0,208.0 340.0,205.0 330.0,203.7 320.0,202.5 310.0,200.5 300.0,200.0 290.0,198.0 280.0,195.0 270.0,192.0 260.0,186.0 250.0,180.0 245.0,175.0 235.0,170.0 225.0,162.5 217.5,155.0 207.5,148.7 197.5,143.7 187.5,135.0 177.5,132.5 167.5,132.5 158.0,134.5 150.5,139.0 143.5,141.2 136.0,143.7 126.0,143.7 117.0,140.0 110.0,133.7 102.0,126.2 93.5,121.2 83.5,119.5 73.5,117.5" fill="none" stroke="#000" stroke-width="0.8"/>
<g stroke="#000" stroke-linecap="square"><line x1="55.7" y1="146.1" x2="346.6" y2="232.0" stroke-width="2.10" /><line x1="346.6" y1="232.0" x2="397.9" y2="139.6" stroke-width="2.10" /><line x1="55.7" y1="146.1" x2="55.7" y2="92.5" stroke-width="2.10" /><line x1="55.7" y1="146.1" x2="58.1" y2="141.7" stroke-width="1.00" /><line x1="64.0" y1="148.6" x2="65.2" y2="146.4" stroke-width="1.00" /><line x1="72.3" y1="151.0" x2="73.5" y2="148.8" stroke-width="1.00" /><line x1="80.6" y1="153.5" x2="81.8" y2="151.3" stroke-width="1.00" /><line x1="88.9" y1="155.9" x2="90.2" y2="153.7" stroke-width="1.00" /><line x1="97.3" y1="158.4" x2="99.7" y2="154.0" stroke-width="1.00" /><line x1="105.6" y1="160.8" x2="106.8" y2="158.6" stroke-width="1.00" /><line x1="113.9" y1="163.3" x2="115.1" y2="161.1" stroke-width="1.00" /><line x1="122.2" y1="165.7" x2="123.4" y2="163.5" stroke-width="1.00" /><line x1="130.5" y1="168.2" x2="131.7" y2="166.0" stroke-width="1.00" /><line x1="138.8" y1="170.6" x2="141.2" y2="166.3" stroke-width="1.00" /><line x1="147.1" y1="173.1" x2="148.3" y2="170.9" stroke-width="1.00" /><line x1="155.4" y1="175.6" x2="156.7" y2="173.4" stroke-width="1.00" /><line x1="163.7" y1="178.0" x2="165.0" y2="175.8" stroke-width="1.00" /><line x1="172.1" y1="180.5" x2="173.3" y2="178.3" stroke-width="1.00" /><line x1="180.4" y1="182.9" x2="182.8" y2="178.5" stroke-width="1.00" /><line x1="188.7" y1="185.4" x2="189.9" y2="183.2" stroke-width="1.00" /><line x1="197.0" y1="187.8" x2="198.2" y2="185.6" stroke-width="1.00" /><line x1="205.3" y1="190.3" x2="206.5" y2="188.1" stroke-width="1.00" /><line x1="213.6" y1="192.7" x2="214.8" y2="190.5" stroke-width="1.00" /><line x1="221.9" y1="195.2" x2="224.4" y2="190.8" stroke-width="1.00" /><line x1="230.2" y1="197.6" x2="231.5" y2="195.5" stroke-width="1.00" /><line x1="238.6" y1="200.1" x2="239.8" y2="197.9" stroke-width="1.00" /><line x1="246.9" y1="202.5" x2="248.1" y2="200.4" stroke-width="1.00" /><line x1="255.2" y1="205.0" x2="256.4" y2="202.8" stroke-width="1.00" /><line x1="263.5" y1="207.5" x2="265.9" y2="203.1" stroke-width="1.00" /><line x1="271.8" y1="209.9" x2="273.0" y2="207.7" stroke-width="1.00" /><line x1="280.1" y1="212.4" x2="281.3" y2="210.2" stroke-width="1.00" /><line x1="288.4" y1="214.8" x2="289.6" y2="212.6" stroke-width="1.00" /><line x1="296.7" y1="217.3" x2="297.9" y2="215.1" stroke-width="1.00" /><line x1="305.0" y1="219.7" x2="307.5" y2="215.4" stroke-width="1.00" /><line x1="313.4" y1="222.2" x2="314.6" y2="220.0" stroke-width="1.00" /><line x1="321.7" y1="224.6" x2="322.9" y2="222.5" stroke-width="1.00" /><line x1="330.0" y1="227.1" x2="331.2" y2="224.9" stroke-width="1.00" /><line x1="338.3" y1="229.5" x2="339.5" y2="227.4" stroke-width="1.00" /><line x1="346.6" y1="232.0" x2="349.0" y2="227.6" stroke-width="1.00" /><line x1="346.6" y1="232.0" x2="340.6" y2="230.2" stroke-width="1.00" stroke-linecap="butt"/><line x1="350.0" y1="225.8" x2="347.1" y2="225.0" stroke-width="1.00" stroke-linecap="butt"/><line x1="353.4" y1="219.7" x2="350.6" y2="218.8" stroke-width="1.00" stroke-linecap="butt"/><line x1="356.9" y1="213.5" x2="354.0" y2="212.7" stroke-width="1.00" stroke-linecap="butt"/><line x1="360.3" y1="207.4" x2="357.4" y2="206.5" stroke-width="1.00" stroke-linecap="butt"/><line x1="363.7" y1="201.2" x2="357.7" y2="199.4" stroke-width="1.00" stroke-linecap="butt"/><line x1="367.1" y1="195.0" x2="364.2" y2="194.2" stroke-width="1.00" stroke-linecap="butt"/><line x1="370.5" y1="188.9" x2="367.7" y2="188.0" stroke-width="1.00" stroke-linecap="butt"/><line x1="374.0" y1="182.7" x2="371.1" y2="181.9" stroke-width="1.00" stroke-linecap="butt"/><line x1="377.4" y1="176.6" x2="374.5" y2="175.7" stroke-width="1.00" stroke-linecap="butt"/><line x1="380.8" y1="170.4" x2="374.8" y2="168.6" stroke-width="1.00" stroke-linecap="butt"/><line x1="384.2" y1="164.2" x2="381.3" y2="163.4" stroke-width="1.00" stroke-linecap="butt"/><line x1="387.6" y1="158.1" x2="384.8" y2="157.2" stroke-width="1.00" stroke-linecap="butt"/><line x1="391.1" y1="151.9" x2="388.2" y2="151.1" stroke-width="1.00" stroke-linecap="butt"/><line x1="394.5" y1="145.8" x2="391.6" y2="144.9" stroke-width="1.00" stroke-linecap="butt"/><line x1="397.9" y1="139.6" x2="391.9" y2="137.8" stroke-width="1.00" stroke-linecap="butt"/><line x1="55.7" y1="144.5" x2="60.7" y2="144.5" stroke-width="1.00" /><line x1="55.7" y1="138.9" x2="58.2" y2="138.9" stroke-width="1.00" /><line x1="55.7" y1="133.3" x2="58.2" y2="133.3" stroke-width="1.00" /><line x1="55.7" y1="127.7" x2="58.2" y2="127.7" stroke-width="1.00" /><line x1="55.7" y1="122.1" x2="60.7" y2="122.1" stroke-width="1.00" /><line x1="55.7" y1="116.5" x2="58.2" y2="116.5" stroke-width="1.00" /><line x1="55.7" y1="110.9" x2="58.2" y2="110.9" stroke-width="1.00" /><line x1="55.7" y1="105.3" x2="58.2" y2="105.3" stroke-width="1.00" /><line x1="55.7" y1="99.7" x2="60.7" y2="99.7" stroke-width="1.00" /><line x1="55.7" y1="94.0" x2="58.2" y2="94.0" stroke-width="1.00" /></g>
<g font-family="'Liberation Sans', sans-serif" fill="#000" stroke="#000" stroke-width="0.18"><text x="50.8" y="105.0" font-size="13.5" text-anchor="end" >2</text><text x="50.8" y="127.3" font-size="13.5" text-anchor="end" >0</text><text x="50.8" y="149.6" font-size="13.5" text-anchor="end" >-2</text><text x="48.5" y="167.0" font-size="13.5" text-anchor="middle" >-500</text><text x="90.0" y="177.0" font-size="13.5" text-anchor="middle" >-400</text><text x="129.0" y="189.5" font-size="13.5" text-anchor="middle" >-300</text><text x="170.5" y="201.0" font-size="13.5" text-anchor="middle" >-200</text><text x="212.2" y="213.7" font-size="13.5" text-anchor="middle" >-100</text><text x="257.7" y="224.7" font-size="13.5" text-anchor="middle" >0</text><text x="296.6" y="237.0" font-size="13.5" text-anchor="middle" >100</text><text x="338.5" y="251.0" font-size="13.5" text-anchor="middle" >200</text><text x="406.5" y="155.0" font-size="13.5" text-anchor="middle" >0</text><text x="395.5" y="188.4" font-size="13.5" text-anchor="middle" >-100</text><text x="379.0" y="217.7" font-size="13.5" text-anchor="middle" >-200</text><text x="363.0" y="242.7" font-size="13.5" text-anchor="middle" >-300</text><text x="22.0" y="119.7" font-size="19.8" text-anchor="middle" transform="rotate(-90.0 22.0 119.7)" dy="5.5"><tspan font-family="'Liberation Serif', serif" font-style="italic" font-size="21">z</tspan> (mm)</text><text x="174.8" y="223.5" font-size="19.8" text-anchor="middle" transform="rotate(9.0 174.8 223.5)" dy="5.5"><tspan font-family="'Liberation Serif', serif" font-style="italic" font-size="21">x</tspan> (mm)</text><text x="415.5" y="209.5" font-size="19.8" text-anchor="middle" transform="rotate(-71.5 415.5 209.5)" dy="5.5"><tspan font-family="'Liberation Serif', serif" font-style="italic" font-size="21">y</tspan> (mm)</text></g>
</svg>
</body></html>
